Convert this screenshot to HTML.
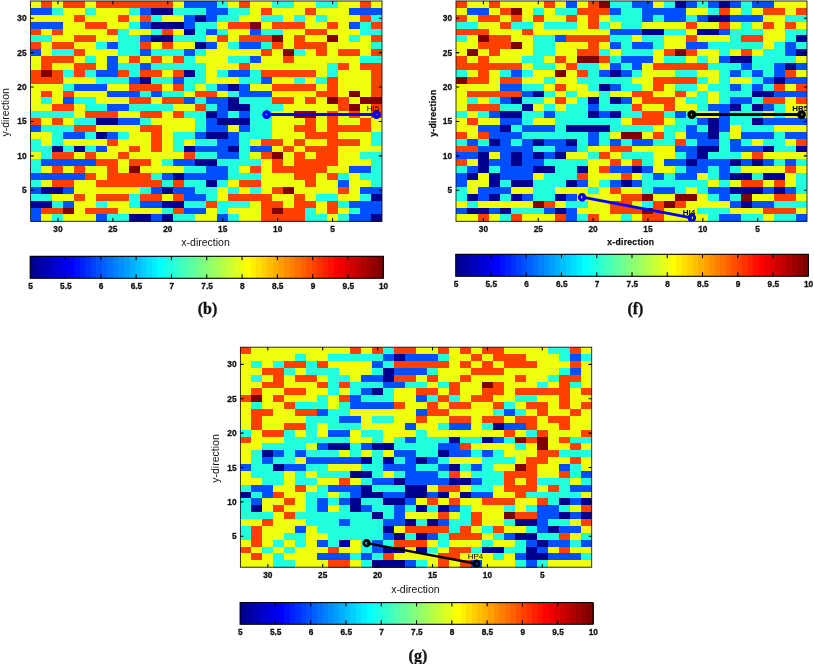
<!DOCTYPE html>
<html><head><meta charset="utf-8"><title>figure</title>
<style>
html,body{margin:0;padding:0;background:#fff;}
svg{display:block;font-family:"Liberation Sans",sans-serif;fill:#111;}
.t{font-weight:bold;stroke:#111;stroke-width:0.3px;}
</style></head>
<body>
<svg width="814" height="664" viewBox="0 0 814 664">
<rect width="814" height="664" fill="#fff"/>
<defs><filter id="bl" x="-2%" y="-2%" width="104%" height="104%"><feGaussianBlur stdDeviation="0.45"/></filter><clipPath id="c0"><rect x="30.5" y="1" width="351.5" height="220.3"/></clipPath><clipPath id="c1"><rect x="456" y="1" width="351" height="220.3"/></clipPath><clipPath id="c2"><rect x="240.4" y="347.2" width="351.3" height="220"/></clipPath></defs>
<g shape-rendering="crispEdges" filter="url(#bl)">
<rect x="30.5" y="1" width="11.28" height="7.18" fill="#efff10"/>
<rect x="41.48" y="1" width="11.28" height="7.18" fill="#ff4000"/>
<rect x="52.47" y="1" width="11.28" height="7.18" fill="#efff10"/>
<rect x="63.45" y="1" width="22.27" height="7.18" fill="#ff4000"/>
<rect x="85.42" y="1" width="11.28" height="7.18" fill="#efff10"/>
<rect x="96.41" y="1" width="77.19" height="7.18" fill="#ff4000"/>
<rect x="173.3" y="1" width="11.28" height="7.18" fill="#efff10"/>
<rect x="184.28" y="1" width="33.25" height="7.18" fill="#0050ff"/>
<rect x="217.23" y="1" width="11.28" height="7.18" fill="#20ffdf"/>
<rect x="228.22" y="1" width="11.28" height="7.18" fill="#efff10"/>
<rect x="239.2" y="1" width="11.28" height="7.18" fill="#ff4000"/>
<rect x="250.19" y="1" width="22.27" height="7.18" fill="#efff10"/>
<rect x="272.16" y="1" width="22.27" height="7.18" fill="#20ffdf"/>
<rect x="294.12" y="1" width="22.27" height="7.18" fill="#efff10"/>
<rect x="316.09" y="1" width="22.27" height="7.18" fill="#20ffdf"/>
<rect x="338.06" y="1" width="22.27" height="7.18" fill="#efff10"/>
<rect x="360.03" y="1" width="11.28" height="7.18" fill="#ff4000"/>
<rect x="371.02" y="1" width="11.28" height="7.18" fill="#efff10"/>
<rect x="30.5" y="7.88" width="22.27" height="7.18" fill="#0050ff"/>
<rect x="52.47" y="7.88" width="11.28" height="7.18" fill="#20ffdf"/>
<rect x="63.45" y="7.88" width="22.27" height="7.18" fill="#efff10"/>
<rect x="85.42" y="7.88" width="11.28" height="7.18" fill="#20ffdf"/>
<rect x="96.41" y="7.88" width="33.25" height="7.18" fill="#efff10"/>
<rect x="129.36" y="7.88" width="11.28" height="7.18" fill="#20ffdf"/>
<rect x="140.34" y="7.88" width="11.28" height="7.18" fill="#0050ff"/>
<rect x="151.33" y="7.88" width="22.27" height="7.18" fill="#00008f"/>
<rect x="173.3" y="7.88" width="33.25" height="7.18" fill="#20ffdf"/>
<rect x="206.25" y="7.88" width="22.27" height="7.18" fill="#0050ff"/>
<rect x="228.22" y="7.88" width="22.27" height="7.18" fill="#20ffdf"/>
<rect x="250.19" y="7.88" width="11.28" height="7.18" fill="#efff10"/>
<rect x="261.17" y="7.88" width="11.28" height="7.18" fill="#ff4000"/>
<rect x="272.16" y="7.88" width="33.25" height="7.18" fill="#efff10"/>
<rect x="305.11" y="7.88" width="11.28" height="7.18" fill="#ff4000"/>
<rect x="316.09" y="7.88" width="33.25" height="7.18" fill="#efff10"/>
<rect x="349.05" y="7.88" width="33.25" height="7.18" fill="#0050ff"/>
<rect x="30.5" y="14.77" width="44.24" height="7.18" fill="#efff10"/>
<rect x="74.44" y="14.77" width="11.28" height="7.18" fill="#ff4000"/>
<rect x="85.42" y="14.77" width="33.25" height="7.18" fill="#efff10"/>
<rect x="118.38" y="14.77" width="11.28" height="7.18" fill="#ff4000"/>
<rect x="129.36" y="14.77" width="11.28" height="7.18" fill="#efff10"/>
<rect x="140.34" y="14.77" width="11.28" height="7.18" fill="#ff4000"/>
<rect x="151.33" y="14.77" width="11.28" height="7.18" fill="#20ffdf"/>
<rect x="162.31" y="14.77" width="22.27" height="7.18" fill="#efff10"/>
<rect x="184.28" y="14.77" width="11.28" height="7.18" fill="#0050ff"/>
<rect x="195.27" y="14.77" width="11.28" height="7.18" fill="#00008f"/>
<rect x="206.25" y="14.77" width="11.28" height="7.18" fill="#0050ff"/>
<rect x="217.23" y="14.77" width="22.27" height="7.18" fill="#20ffdf"/>
<rect x="239.2" y="14.77" width="22.27" height="7.18" fill="#efff10"/>
<rect x="261.17" y="14.77" width="22.27" height="7.18" fill="#20ffdf"/>
<rect x="283.14" y="14.77" width="11.28" height="7.18" fill="#efff10"/>
<rect x="294.12" y="14.77" width="11.28" height="7.18" fill="#20ffdf"/>
<rect x="305.11" y="14.77" width="11.28" height="7.18" fill="#efff10"/>
<rect x="316.09" y="14.77" width="11.28" height="7.18" fill="#20ffdf"/>
<rect x="327.08" y="14.77" width="33.25" height="7.18" fill="#efff10"/>
<rect x="360.03" y="14.77" width="11.28" height="7.18" fill="#ff4000"/>
<rect x="371.02" y="14.77" width="11.28" height="7.18" fill="#20ffdf"/>
<rect x="30.5" y="21.65" width="33.25" height="7.18" fill="#0050ff"/>
<rect x="63.45" y="21.65" width="22.27" height="7.18" fill="#efff10"/>
<rect x="85.42" y="21.65" width="22.27" height="7.18" fill="#ff4000"/>
<rect x="107.39" y="21.65" width="22.27" height="7.18" fill="#efff10"/>
<rect x="129.36" y="21.65" width="11.28" height="7.18" fill="#20ffdf"/>
<rect x="140.34" y="21.65" width="11.28" height="7.18" fill="#0050ff"/>
<rect x="151.33" y="21.65" width="33.25" height="7.18" fill="#00008f"/>
<rect x="184.28" y="21.65" width="11.28" height="7.18" fill="#0050ff"/>
<rect x="195.27" y="21.65" width="22.27" height="7.18" fill="#20ffdf"/>
<rect x="217.23" y="21.65" width="11.28" height="7.18" fill="#efff10"/>
<rect x="228.22" y="21.65" width="22.27" height="7.18" fill="#ff4000"/>
<rect x="250.19" y="21.65" width="11.28" height="7.18" fill="#800000"/>
<rect x="261.17" y="21.65" width="11.28" height="7.18" fill="#efff10"/>
<rect x="272.16" y="21.65" width="33.25" height="7.18" fill="#ff4000"/>
<rect x="305.11" y="21.65" width="22.27" height="7.18" fill="#efff10"/>
<rect x="327.08" y="21.65" width="11.28" height="7.18" fill="#ff4000"/>
<rect x="338.06" y="21.65" width="11.28" height="7.18" fill="#efff10"/>
<rect x="349.05" y="21.65" width="11.28" height="7.18" fill="#0050ff"/>
<rect x="360.03" y="21.65" width="11.28" height="7.18" fill="#20ffdf"/>
<rect x="371.02" y="21.65" width="11.28" height="7.18" fill="#ff4000"/>
<rect x="30.5" y="28.54" width="11.28" height="7.18" fill="#ff4000"/>
<rect x="41.48" y="28.54" width="11.28" height="7.18" fill="#efff10"/>
<rect x="52.47" y="28.54" width="11.28" height="7.18" fill="#ff4000"/>
<rect x="63.45" y="28.54" width="44.24" height="7.18" fill="#efff10"/>
<rect x="107.39" y="28.54" width="11.28" height="7.18" fill="#ff4000"/>
<rect x="118.38" y="28.54" width="11.28" height="7.18" fill="#20ffdf"/>
<rect x="129.36" y="28.54" width="22.27" height="7.18" fill="#efff10"/>
<rect x="151.33" y="28.54" width="11.28" height="7.18" fill="#20ffdf"/>
<rect x="162.31" y="28.54" width="11.28" height="7.18" fill="#ff4000"/>
<rect x="173.3" y="28.54" width="11.28" height="7.18" fill="#efff10"/>
<rect x="184.28" y="28.54" width="11.28" height="7.18" fill="#00008f"/>
<rect x="195.27" y="28.54" width="11.28" height="7.18" fill="#20ffdf"/>
<rect x="206.25" y="28.54" width="11.28" height="7.18" fill="#0050ff"/>
<rect x="217.23" y="28.54" width="11.28" height="7.18" fill="#20ffdf"/>
<rect x="228.22" y="28.54" width="22.27" height="7.18" fill="#efff10"/>
<rect x="250.19" y="28.54" width="11.28" height="7.18" fill="#0050ff"/>
<rect x="261.17" y="28.54" width="22.27" height="7.18" fill="#20ffdf"/>
<rect x="283.14" y="28.54" width="22.27" height="7.18" fill="#efff10"/>
<rect x="305.11" y="28.54" width="22.27" height="7.18" fill="#ff4000"/>
<rect x="327.08" y="28.54" width="33.25" height="7.18" fill="#efff10"/>
<rect x="360.03" y="28.54" width="22.27" height="7.18" fill="#20ffdf"/>
<rect x="30.5" y="35.42" width="22.27" height="7.18" fill="#20ffdf"/>
<rect x="52.47" y="35.42" width="22.27" height="7.18" fill="#efff10"/>
<rect x="74.44" y="35.42" width="22.27" height="7.18" fill="#ff4000"/>
<rect x="96.41" y="35.42" width="22.27" height="7.18" fill="#efff10"/>
<rect x="118.38" y="35.42" width="22.27" height="7.18" fill="#20ffdf"/>
<rect x="140.34" y="35.42" width="11.28" height="7.18" fill="#0050ff"/>
<rect x="151.33" y="35.42" width="22.27" height="7.18" fill="#00008f"/>
<rect x="173.3" y="35.42" width="33.25" height="7.18" fill="#20ffdf"/>
<rect x="206.25" y="35.42" width="11.28" height="7.18" fill="#efff10"/>
<rect x="217.23" y="35.42" width="11.28" height="7.18" fill="#ff4000"/>
<rect x="228.22" y="35.42" width="11.28" height="7.18" fill="#efff10"/>
<rect x="239.2" y="35.42" width="33.25" height="7.18" fill="#ff4000"/>
<rect x="272.16" y="35.42" width="11.28" height="7.18" fill="#800000"/>
<rect x="283.14" y="35.42" width="11.28" height="7.18" fill="#efff10"/>
<rect x="294.12" y="35.42" width="11.28" height="7.18" fill="#ff4000"/>
<rect x="305.11" y="35.42" width="22.27" height="7.18" fill="#efff10"/>
<rect x="327.08" y="35.42" width="11.28" height="7.18" fill="#800000"/>
<rect x="338.06" y="35.42" width="11.28" height="7.18" fill="#efff10"/>
<rect x="349.05" y="35.42" width="11.28" height="7.18" fill="#20ffdf"/>
<rect x="360.03" y="35.42" width="11.28" height="7.18" fill="#efff10"/>
<rect x="371.02" y="35.42" width="11.28" height="7.18" fill="#ff4000"/>
<rect x="30.5" y="42.31" width="11.28" height="7.18" fill="#ff4000"/>
<rect x="41.48" y="42.31" width="11.28" height="7.18" fill="#efff10"/>
<rect x="52.47" y="42.31" width="22.27" height="7.18" fill="#ff4000"/>
<rect x="74.44" y="42.31" width="22.27" height="7.18" fill="#efff10"/>
<rect x="96.41" y="42.31" width="11.28" height="7.18" fill="#20ffdf"/>
<rect x="107.39" y="42.31" width="11.28" height="7.18" fill="#0050ff"/>
<rect x="118.38" y="42.31" width="22.27" height="7.18" fill="#20ffdf"/>
<rect x="140.34" y="42.31" width="11.28" height="7.18" fill="#ff4000"/>
<rect x="151.33" y="42.31" width="11.28" height="7.18" fill="#efff10"/>
<rect x="162.31" y="42.31" width="11.28" height="7.18" fill="#ff4000"/>
<rect x="173.3" y="42.31" width="22.27" height="7.18" fill="#efff10"/>
<rect x="195.27" y="42.31" width="11.28" height="7.18" fill="#00008f"/>
<rect x="206.25" y="42.31" width="11.28" height="7.18" fill="#0050ff"/>
<rect x="217.23" y="42.31" width="11.28" height="7.18" fill="#efff10"/>
<rect x="228.22" y="42.31" width="11.28" height="7.18" fill="#20ffdf"/>
<rect x="239.2" y="42.31" width="22.27" height="7.18" fill="#0050ff"/>
<rect x="261.17" y="42.31" width="11.28" height="7.18" fill="#20ffdf"/>
<rect x="272.16" y="42.31" width="11.28" height="7.18" fill="#ff4000"/>
<rect x="283.14" y="42.31" width="11.28" height="7.18" fill="#efff10"/>
<rect x="294.12" y="42.31" width="33.25" height="7.18" fill="#ff4000"/>
<rect x="327.08" y="42.31" width="44.24" height="7.18" fill="#efff10"/>
<rect x="371.02" y="42.31" width="11.28" height="7.18" fill="#20ffdf"/>
<rect x="30.5" y="49.19" width="11.28" height="7.18" fill="#0050ff"/>
<rect x="41.48" y="49.19" width="11.28" height="7.18" fill="#efff10"/>
<rect x="52.47" y="49.19" width="22.27" height="7.18" fill="#20ffdf"/>
<rect x="74.44" y="49.19" width="11.28" height="7.18" fill="#ff4000"/>
<rect x="85.42" y="49.19" width="33.25" height="7.18" fill="#efff10"/>
<rect x="118.38" y="49.19" width="22.27" height="7.18" fill="#20ffdf"/>
<rect x="140.34" y="49.19" width="11.28" height="7.18" fill="#0050ff"/>
<rect x="151.33" y="49.19" width="33.25" height="7.18" fill="#20ffdf"/>
<rect x="184.28" y="49.19" width="11.28" height="7.18" fill="#0050ff"/>
<rect x="195.27" y="49.19" width="11.28" height="7.18" fill="#20ffdf"/>
<rect x="206.25" y="49.19" width="55.22" height="7.18" fill="#efff10"/>
<rect x="261.17" y="49.19" width="11.28" height="7.18" fill="#ff4000"/>
<rect x="272.16" y="49.19" width="11.28" height="7.18" fill="#efff10"/>
<rect x="283.14" y="49.19" width="11.28" height="7.18" fill="#800000"/>
<rect x="294.12" y="49.19" width="11.28" height="7.18" fill="#20ffdf"/>
<rect x="305.11" y="49.19" width="11.28" height="7.18" fill="#efff10"/>
<rect x="316.09" y="49.19" width="11.28" height="7.18" fill="#ff4000"/>
<rect x="327.08" y="49.19" width="11.28" height="7.18" fill="#efff10"/>
<rect x="338.06" y="49.19" width="22.27" height="7.18" fill="#ff4000"/>
<rect x="360.03" y="49.19" width="11.28" height="7.18" fill="#efff10"/>
<rect x="371.02" y="49.19" width="11.28" height="7.18" fill="#ff4000"/>
<rect x="30.5" y="56.08" width="11.28" height="7.18" fill="#efff10"/>
<rect x="41.48" y="56.08" width="33.25" height="7.18" fill="#ff4000"/>
<rect x="74.44" y="56.08" width="11.28" height="7.18" fill="#efff10"/>
<rect x="85.42" y="56.08" width="11.28" height="7.18" fill="#20ffdf"/>
<rect x="96.41" y="56.08" width="11.28" height="7.18" fill="#efff10"/>
<rect x="107.39" y="56.08" width="11.28" height="7.18" fill="#0050ff"/>
<rect x="118.38" y="56.08" width="11.28" height="7.18" fill="#efff10"/>
<rect x="129.36" y="56.08" width="11.28" height="7.18" fill="#ff4000"/>
<rect x="140.34" y="56.08" width="11.28" height="7.18" fill="#efff10"/>
<rect x="151.33" y="56.08" width="11.28" height="7.18" fill="#ff4000"/>
<rect x="162.31" y="56.08" width="11.28" height="7.18" fill="#efff10"/>
<rect x="173.3" y="56.08" width="11.28" height="7.18" fill="#ff4000"/>
<rect x="184.28" y="56.08" width="11.28" height="7.18" fill="#20ffdf"/>
<rect x="195.27" y="56.08" width="33.25" height="7.18" fill="#efff10"/>
<rect x="228.22" y="56.08" width="22.27" height="7.18" fill="#20ffdf"/>
<rect x="250.19" y="56.08" width="11.28" height="7.18" fill="#0050ff"/>
<rect x="261.17" y="56.08" width="22.27" height="7.18" fill="#efff10"/>
<rect x="283.14" y="56.08" width="11.28" height="7.18" fill="#ff4000"/>
<rect x="294.12" y="56.08" width="66.21" height="7.18" fill="#efff10"/>
<rect x="360.03" y="56.08" width="22.27" height="7.18" fill="#20ffdf"/>
<rect x="30.5" y="62.96" width="11.28" height="7.18" fill="#efff10"/>
<rect x="41.48" y="62.96" width="11.28" height="7.18" fill="#ff4000"/>
<rect x="52.47" y="62.96" width="22.27" height="7.18" fill="#efff10"/>
<rect x="74.44" y="62.96" width="22.27" height="7.18" fill="#ff4000"/>
<rect x="96.41" y="62.96" width="11.28" height="7.18" fill="#efff10"/>
<rect x="107.39" y="62.96" width="11.28" height="7.18" fill="#0050ff"/>
<rect x="118.38" y="62.96" width="22.27" height="7.18" fill="#20ffdf"/>
<rect x="140.34" y="62.96" width="11.28" height="7.18" fill="#0050ff"/>
<rect x="151.33" y="62.96" width="55.22" height="7.18" fill="#20ffdf"/>
<rect x="206.25" y="62.96" width="33.25" height="7.18" fill="#efff10"/>
<rect x="239.2" y="62.96" width="11.28" height="7.18" fill="#ff4000"/>
<rect x="250.19" y="62.96" width="77.19" height="7.18" fill="#efff10"/>
<rect x="327.08" y="62.96" width="11.28" height="7.18" fill="#20ffdf"/>
<rect x="338.06" y="62.96" width="11.28" height="7.18" fill="#ff4000"/>
<rect x="349.05" y="62.96" width="11.28" height="7.18" fill="#efff10"/>
<rect x="360.03" y="62.96" width="22.27" height="7.18" fill="#ff4000"/>
<rect x="30.5" y="69.84" width="11.28" height="7.18" fill="#ff4000"/>
<rect x="41.48" y="69.84" width="11.28" height="7.18" fill="#800000"/>
<rect x="52.47" y="69.84" width="11.28" height="7.18" fill="#ff4000"/>
<rect x="63.45" y="69.84" width="11.28" height="7.18" fill="#20ffdf"/>
<rect x="74.44" y="69.84" width="11.28" height="7.18" fill="#ff4000"/>
<rect x="85.42" y="69.84" width="11.28" height="7.18" fill="#20ffdf"/>
<rect x="96.41" y="69.84" width="22.27" height="7.18" fill="#0050ff"/>
<rect x="118.38" y="69.84" width="11.28" height="7.18" fill="#ff4000"/>
<rect x="129.36" y="69.84" width="11.28" height="7.18" fill="#20ffdf"/>
<rect x="140.34" y="69.84" width="22.27" height="7.18" fill="#ff4000"/>
<rect x="162.31" y="69.84" width="11.28" height="7.18" fill="#efff10"/>
<rect x="173.3" y="69.84" width="11.28" height="7.18" fill="#ff4000"/>
<rect x="184.28" y="69.84" width="11.28" height="7.18" fill="#00008f"/>
<rect x="195.27" y="69.84" width="11.28" height="7.18" fill="#20ffdf"/>
<rect x="206.25" y="69.84" width="11.28" height="7.18" fill="#efff10"/>
<rect x="217.23" y="69.84" width="11.28" height="7.18" fill="#20ffdf"/>
<rect x="228.22" y="69.84" width="22.27" height="7.18" fill="#0050ff"/>
<rect x="250.19" y="69.84" width="11.28" height="7.18" fill="#20ffdf"/>
<rect x="261.17" y="69.84" width="55.22" height="7.18" fill="#ff4000"/>
<rect x="316.09" y="69.84" width="11.28" height="7.18" fill="#efff10"/>
<rect x="327.08" y="69.84" width="11.28" height="7.18" fill="#20ffdf"/>
<rect x="338.06" y="69.84" width="33.25" height="7.18" fill="#efff10"/>
<rect x="371.02" y="69.84" width="11.28" height="7.18" fill="#ff4000"/>
<rect x="30.5" y="76.73" width="33.25" height="7.18" fill="#ff4000"/>
<rect x="63.45" y="76.73" width="33.25" height="7.18" fill="#efff10"/>
<rect x="96.41" y="76.73" width="33.25" height="7.18" fill="#20ffdf"/>
<rect x="129.36" y="76.73" width="11.28" height="7.18" fill="#0050ff"/>
<rect x="140.34" y="76.73" width="11.28" height="7.18" fill="#00008f"/>
<rect x="151.33" y="76.73" width="22.27" height="7.18" fill="#20ffdf"/>
<rect x="173.3" y="76.73" width="11.28" height="7.18" fill="#0050ff"/>
<rect x="184.28" y="76.73" width="22.27" height="7.18" fill="#20ffdf"/>
<rect x="206.25" y="76.73" width="33.25" height="7.18" fill="#efff10"/>
<rect x="239.2" y="76.73" width="22.27" height="7.18" fill="#20ffdf"/>
<rect x="261.17" y="76.73" width="11.28" height="7.18" fill="#0050ff"/>
<rect x="272.16" y="76.73" width="22.27" height="7.18" fill="#efff10"/>
<rect x="294.12" y="76.73" width="11.28" height="7.18" fill="#20ffdf"/>
<rect x="305.11" y="76.73" width="11.28" height="7.18" fill="#efff10"/>
<rect x="316.09" y="76.73" width="11.28" height="7.18" fill="#20ffdf"/>
<rect x="327.08" y="76.73" width="11.28" height="7.18" fill="#ff4000"/>
<rect x="338.06" y="76.73" width="33.25" height="7.18" fill="#efff10"/>
<rect x="371.02" y="76.73" width="11.28" height="7.18" fill="#ff4000"/>
<rect x="30.5" y="83.61" width="33.25" height="7.18" fill="#efff10"/>
<rect x="63.45" y="83.61" width="11.28" height="7.18" fill="#20ffdf"/>
<rect x="74.44" y="83.61" width="33.25" height="7.18" fill="#0050ff"/>
<rect x="107.39" y="83.61" width="22.27" height="7.18" fill="#efff10"/>
<rect x="129.36" y="83.61" width="33.25" height="7.18" fill="#ff4000"/>
<rect x="162.31" y="83.61" width="11.28" height="7.18" fill="#efff10"/>
<rect x="173.3" y="83.61" width="11.28" height="7.18" fill="#ff4000"/>
<rect x="184.28" y="83.61" width="11.28" height="7.18" fill="#20ffdf"/>
<rect x="195.27" y="83.61" width="11.28" height="7.18" fill="#efff10"/>
<rect x="206.25" y="83.61" width="11.28" height="7.18" fill="#20ffdf"/>
<rect x="217.23" y="83.61" width="11.28" height="7.18" fill="#0050ff"/>
<rect x="228.22" y="83.61" width="11.28" height="7.18" fill="#00008f"/>
<rect x="239.2" y="83.61" width="11.28" height="7.18" fill="#0050ff"/>
<rect x="250.19" y="83.61" width="22.27" height="7.18" fill="#efff10"/>
<rect x="272.16" y="83.61" width="44.24" height="7.18" fill="#ff4000"/>
<rect x="316.09" y="83.61" width="11.28" height="7.18" fill="#efff10"/>
<rect x="327.08" y="83.61" width="11.28" height="7.18" fill="#ff4000"/>
<rect x="338.06" y="83.61" width="33.25" height="7.18" fill="#efff10"/>
<rect x="371.02" y="83.61" width="11.28" height="7.18" fill="#ff4000"/>
<rect x="30.5" y="90.5" width="11.28" height="7.18" fill="#efff10"/>
<rect x="41.48" y="90.5" width="11.28" height="7.18" fill="#ff4000"/>
<rect x="52.47" y="90.5" width="11.28" height="7.18" fill="#efff10"/>
<rect x="63.45" y="90.5" width="11.28" height="7.18" fill="#ff4000"/>
<rect x="74.44" y="90.5" width="33.25" height="7.18" fill="#efff10"/>
<rect x="107.39" y="90.5" width="33.25" height="7.18" fill="#0050ff"/>
<rect x="140.34" y="90.5" width="11.28" height="7.18" fill="#20ffdf"/>
<rect x="151.33" y="90.5" width="11.28" height="7.18" fill="#0050ff"/>
<rect x="162.31" y="90.5" width="22.27" height="7.18" fill="#20ffdf"/>
<rect x="184.28" y="90.5" width="11.28" height="7.18" fill="#efff10"/>
<rect x="195.27" y="90.5" width="22.27" height="7.18" fill="#ff4000"/>
<rect x="217.23" y="90.5" width="11.28" height="7.18" fill="#efff10"/>
<rect x="228.22" y="90.5" width="11.28" height="7.18" fill="#20ffdf"/>
<rect x="239.2" y="90.5" width="33.25" height="7.18" fill="#0050ff"/>
<rect x="272.16" y="90.5" width="44.24" height="7.18" fill="#efff10"/>
<rect x="316.09" y="90.5" width="22.27" height="7.18" fill="#ff4000"/>
<rect x="338.06" y="90.5" width="11.28" height="7.18" fill="#efff10"/>
<rect x="349.05" y="90.5" width="11.28" height="7.18" fill="#800000"/>
<rect x="360.03" y="90.5" width="11.28" height="7.18" fill="#efff10"/>
<rect x="371.02" y="90.5" width="11.28" height="7.18" fill="#ff4000"/>
<rect x="30.5" y="97.38" width="11.28" height="7.18" fill="#efff10"/>
<rect x="41.48" y="97.38" width="11.28" height="7.18" fill="#20ffdf"/>
<rect x="52.47" y="97.38" width="11.28" height="7.18" fill="#efff10"/>
<rect x="63.45" y="97.38" width="11.28" height="7.18" fill="#0050ff"/>
<rect x="74.44" y="97.38" width="22.27" height="7.18" fill="#20ffdf"/>
<rect x="96.41" y="97.38" width="33.25" height="7.18" fill="#efff10"/>
<rect x="129.36" y="97.38" width="22.27" height="7.18" fill="#ff4000"/>
<rect x="151.33" y="97.38" width="11.28" height="7.18" fill="#efff10"/>
<rect x="162.31" y="97.38" width="22.27" height="7.18" fill="#ff4000"/>
<rect x="184.28" y="97.38" width="11.28" height="7.18" fill="#0050ff"/>
<rect x="195.27" y="97.38" width="11.28" height="7.18" fill="#20ffdf"/>
<rect x="206.25" y="97.38" width="22.27" height="7.18" fill="#0050ff"/>
<rect x="228.22" y="97.38" width="11.28" height="7.18" fill="#00008f"/>
<rect x="239.2" y="97.38" width="33.25" height="7.18" fill="#20ffdf"/>
<rect x="272.16" y="97.38" width="22.27" height="7.18" fill="#ff4000"/>
<rect x="294.12" y="97.38" width="11.28" height="7.18" fill="#efff10"/>
<rect x="305.11" y="97.38" width="11.28" height="7.18" fill="#ff4000"/>
<rect x="316.09" y="97.38" width="11.28" height="7.18" fill="#efff10"/>
<rect x="327.08" y="97.38" width="11.28" height="7.18" fill="#800000"/>
<rect x="338.06" y="97.38" width="11.28" height="7.18" fill="#ff4000"/>
<rect x="349.05" y="97.38" width="11.28" height="7.18" fill="#efff10"/>
<rect x="360.03" y="97.38" width="22.27" height="7.18" fill="#800000"/>
<rect x="30.5" y="104.27" width="22.27" height="7.18" fill="#efff10"/>
<rect x="52.47" y="104.27" width="22.27" height="7.18" fill="#ff4000"/>
<rect x="74.44" y="104.27" width="11.28" height="7.18" fill="#efff10"/>
<rect x="85.42" y="104.27" width="22.27" height="7.18" fill="#20ffdf"/>
<rect x="107.39" y="104.27" width="22.27" height="7.18" fill="#0050ff"/>
<rect x="129.36" y="104.27" width="44.24" height="7.18" fill="#20ffdf"/>
<rect x="173.3" y="104.27" width="22.27" height="7.18" fill="#efff10"/>
<rect x="195.27" y="104.27" width="11.28" height="7.18" fill="#ff4000"/>
<rect x="206.25" y="104.27" width="11.28" height="7.18" fill="#20ffdf"/>
<rect x="217.23" y="104.27" width="11.28" height="7.18" fill="#0050ff"/>
<rect x="228.22" y="104.27" width="22.27" height="7.18" fill="#00008f"/>
<rect x="250.19" y="104.27" width="33.25" height="7.18" fill="#20ffdf"/>
<rect x="283.14" y="104.27" width="55.22" height="7.18" fill="#efff10"/>
<rect x="338.06" y="104.27" width="11.28" height="7.18" fill="#ff4000"/>
<rect x="349.05" y="104.27" width="11.28" height="7.18" fill="#800000"/>
<rect x="360.03" y="104.27" width="11.28" height="7.18" fill="#efff10"/>
<rect x="371.02" y="104.27" width="11.28" height="7.18" fill="#ff4000"/>
<rect x="30.5" y="111.15" width="44.24" height="7.18" fill="#20ffdf"/>
<rect x="74.44" y="111.15" width="11.28" height="7.18" fill="#efff10"/>
<rect x="85.42" y="111.15" width="33.25" height="7.18" fill="#ff4000"/>
<rect x="118.38" y="111.15" width="22.27" height="7.18" fill="#efff10"/>
<rect x="140.34" y="111.15" width="22.27" height="7.18" fill="#ff4000"/>
<rect x="162.31" y="111.15" width="11.28" height="7.18" fill="#efff10"/>
<rect x="173.3" y="111.15" width="11.28" height="7.18" fill="#ff4000"/>
<rect x="184.28" y="111.15" width="22.27" height="7.18" fill="#20ffdf"/>
<rect x="206.25" y="111.15" width="11.28" height="7.18" fill="#00008f"/>
<rect x="217.23" y="111.15" width="11.28" height="7.18" fill="#0050ff"/>
<rect x="228.22" y="111.15" width="11.28" height="7.18" fill="#20ffdf"/>
<rect x="239.2" y="111.15" width="11.28" height="7.18" fill="#0050ff"/>
<rect x="250.19" y="111.15" width="22.27" height="7.18" fill="#20ffdf"/>
<rect x="272.16" y="111.15" width="22.27" height="7.18" fill="#efff10"/>
<rect x="294.12" y="111.15" width="22.27" height="7.18" fill="#800000"/>
<rect x="316.09" y="111.15" width="11.28" height="7.18" fill="#efff10"/>
<rect x="327.08" y="111.15" width="11.28" height="7.18" fill="#ff4000"/>
<rect x="338.06" y="111.15" width="11.28" height="7.18" fill="#efff10"/>
<rect x="349.05" y="111.15" width="11.28" height="7.18" fill="#ff4000"/>
<rect x="360.03" y="111.15" width="11.28" height="7.18" fill="#efff10"/>
<rect x="371.02" y="111.15" width="11.28" height="7.18" fill="#ff4000"/>
<rect x="30.5" y="118.03" width="11.28" height="7.18" fill="#ff4000"/>
<rect x="41.48" y="118.03" width="11.28" height="7.18" fill="#efff10"/>
<rect x="52.47" y="118.03" width="11.28" height="7.18" fill="#ff4000"/>
<rect x="63.45" y="118.03" width="11.28" height="7.18" fill="#efff10"/>
<rect x="74.44" y="118.03" width="22.27" height="7.18" fill="#20ffdf"/>
<rect x="96.41" y="118.03" width="22.27" height="7.18" fill="#00008f"/>
<rect x="118.38" y="118.03" width="22.27" height="7.18" fill="#0050ff"/>
<rect x="140.34" y="118.03" width="11.28" height="7.18" fill="#20ffdf"/>
<rect x="151.33" y="118.03" width="44.24" height="7.18" fill="#efff10"/>
<rect x="195.27" y="118.03" width="11.28" height="7.18" fill="#20ffdf"/>
<rect x="206.25" y="118.03" width="11.28" height="7.18" fill="#0050ff"/>
<rect x="217.23" y="118.03" width="33.25" height="7.18" fill="#00008f"/>
<rect x="250.19" y="118.03" width="22.27" height="7.18" fill="#20ffdf"/>
<rect x="272.16" y="118.03" width="33.25" height="7.18" fill="#efff10"/>
<rect x="305.11" y="118.03" width="11.28" height="7.18" fill="#ff4000"/>
<rect x="316.09" y="118.03" width="11.28" height="7.18" fill="#efff10"/>
<rect x="327.08" y="118.03" width="11.28" height="7.18" fill="#ff4000"/>
<rect x="338.06" y="118.03" width="22.27" height="7.18" fill="#efff10"/>
<rect x="360.03" y="118.03" width="11.28" height="7.18" fill="#ff4000"/>
<rect x="371.02" y="118.03" width="11.28" height="7.18" fill="#efff10"/>
<rect x="30.5" y="124.92" width="11.28" height="7.18" fill="#0050ff"/>
<rect x="41.48" y="124.92" width="33.25" height="7.18" fill="#20ffdf"/>
<rect x="74.44" y="124.92" width="22.27" height="7.18" fill="#ff4000"/>
<rect x="96.41" y="124.92" width="44.24" height="7.18" fill="#efff10"/>
<rect x="140.34" y="124.92" width="22.27" height="7.18" fill="#ff4000"/>
<rect x="162.31" y="124.92" width="33.25" height="7.18" fill="#efff10"/>
<rect x="195.27" y="124.92" width="11.28" height="7.18" fill="#20ffdf"/>
<rect x="206.25" y="124.92" width="22.27" height="7.18" fill="#0050ff"/>
<rect x="228.22" y="124.92" width="11.28" height="7.18" fill="#efff10"/>
<rect x="239.2" y="124.92" width="11.28" height="7.18" fill="#0050ff"/>
<rect x="250.19" y="124.92" width="22.27" height="7.18" fill="#20ffdf"/>
<rect x="272.16" y="124.92" width="22.27" height="7.18" fill="#efff10"/>
<rect x="294.12" y="124.92" width="22.27" height="7.18" fill="#ff4000"/>
<rect x="316.09" y="124.92" width="11.28" height="7.18" fill="#efff10"/>
<rect x="327.08" y="124.92" width="44.24" height="7.18" fill="#ff4000"/>
<rect x="371.02" y="124.92" width="11.28" height="7.18" fill="#efff10"/>
<rect x="30.5" y="131.8" width="22.27" height="7.18" fill="#efff10"/>
<rect x="52.47" y="131.8" width="11.28" height="7.18" fill="#20ffdf"/>
<rect x="63.45" y="131.8" width="22.27" height="7.18" fill="#0050ff"/>
<rect x="85.42" y="131.8" width="11.28" height="7.18" fill="#20ffdf"/>
<rect x="96.41" y="131.8" width="11.28" height="7.18" fill="#00008f"/>
<rect x="107.39" y="131.8" width="11.28" height="7.18" fill="#0050ff"/>
<rect x="118.38" y="131.8" width="11.28" height="7.18" fill="#20ffdf"/>
<rect x="129.36" y="131.8" width="22.27" height="7.18" fill="#efff10"/>
<rect x="151.33" y="131.8" width="11.28" height="7.18" fill="#ff4000"/>
<rect x="162.31" y="131.8" width="11.28" height="7.18" fill="#efff10"/>
<rect x="173.3" y="131.8" width="22.27" height="7.18" fill="#20ffdf"/>
<rect x="195.27" y="131.8" width="11.28" height="7.18" fill="#0050ff"/>
<rect x="206.25" y="131.8" width="22.27" height="7.18" fill="#00008f"/>
<rect x="228.22" y="131.8" width="11.28" height="7.18" fill="#0050ff"/>
<rect x="239.2" y="131.8" width="33.25" height="7.18" fill="#20ffdf"/>
<rect x="272.16" y="131.8" width="33.25" height="7.18" fill="#efff10"/>
<rect x="305.11" y="131.8" width="33.25" height="7.18" fill="#ff4000"/>
<rect x="338.06" y="131.8" width="33.25" height="7.18" fill="#efff10"/>
<rect x="371.02" y="131.8" width="11.28" height="7.18" fill="#20ffdf"/>
<rect x="30.5" y="138.69" width="11.28" height="7.18" fill="#20ffdf"/>
<rect x="41.48" y="138.69" width="11.28" height="7.18" fill="#efff10"/>
<rect x="52.47" y="138.69" width="11.28" height="7.18" fill="#20ffdf"/>
<rect x="63.45" y="138.69" width="44.24" height="7.18" fill="#efff10"/>
<rect x="107.39" y="138.69" width="11.28" height="7.18" fill="#ff4000"/>
<rect x="118.38" y="138.69" width="33.25" height="7.18" fill="#efff10"/>
<rect x="151.33" y="138.69" width="11.28" height="7.18" fill="#ff4000"/>
<rect x="162.31" y="138.69" width="11.28" height="7.18" fill="#efff10"/>
<rect x="173.3" y="138.69" width="11.28" height="7.18" fill="#20ffdf"/>
<rect x="184.28" y="138.69" width="11.28" height="7.18" fill="#efff10"/>
<rect x="195.27" y="138.69" width="22.27" height="7.18" fill="#20ffdf"/>
<rect x="217.23" y="138.69" width="22.27" height="7.18" fill="#0050ff"/>
<rect x="239.2" y="138.69" width="11.28" height="7.18" fill="#20ffdf"/>
<rect x="250.19" y="138.69" width="11.28" height="7.18" fill="#efff10"/>
<rect x="261.17" y="138.69" width="22.27" height="7.18" fill="#ff4000"/>
<rect x="283.14" y="138.69" width="11.28" height="7.18" fill="#efff10"/>
<rect x="294.12" y="138.69" width="11.28" height="7.18" fill="#ff4000"/>
<rect x="305.11" y="138.69" width="22.27" height="7.18" fill="#efff10"/>
<rect x="327.08" y="138.69" width="33.25" height="7.18" fill="#ff4000"/>
<rect x="360.03" y="138.69" width="11.28" height="7.18" fill="#efff10"/>
<rect x="371.02" y="138.69" width="11.28" height="7.18" fill="#20ffdf"/>
<rect x="30.5" y="145.57" width="22.27" height="7.18" fill="#20ffdf"/>
<rect x="52.47" y="145.57" width="11.28" height="7.18" fill="#00008f"/>
<rect x="63.45" y="145.57" width="11.28" height="7.18" fill="#20ffdf"/>
<rect x="74.44" y="145.57" width="11.28" height="7.18" fill="#00008f"/>
<rect x="85.42" y="145.57" width="11.28" height="7.18" fill="#20ffdf"/>
<rect x="96.41" y="145.57" width="11.28" height="7.18" fill="#0050ff"/>
<rect x="107.39" y="145.57" width="22.27" height="7.18" fill="#efff10"/>
<rect x="129.36" y="145.57" width="11.28" height="7.18" fill="#ff4000"/>
<rect x="140.34" y="145.57" width="11.28" height="7.18" fill="#efff10"/>
<rect x="151.33" y="145.57" width="11.28" height="7.18" fill="#ff4000"/>
<rect x="162.31" y="145.57" width="11.28" height="7.18" fill="#efff10"/>
<rect x="173.3" y="145.57" width="11.28" height="7.18" fill="#20ffdf"/>
<rect x="184.28" y="145.57" width="11.28" height="7.18" fill="#00008f"/>
<rect x="195.27" y="145.57" width="33.25" height="7.18" fill="#0050ff"/>
<rect x="228.22" y="145.57" width="11.28" height="7.18" fill="#00008f"/>
<rect x="239.2" y="145.57" width="11.28" height="7.18" fill="#20ffdf"/>
<rect x="250.19" y="145.57" width="22.27" height="7.18" fill="#0050ff"/>
<rect x="272.16" y="145.57" width="11.28" height="7.18" fill="#efff10"/>
<rect x="283.14" y="145.57" width="11.28" height="7.18" fill="#ff4000"/>
<rect x="294.12" y="145.57" width="11.28" height="7.18" fill="#efff10"/>
<rect x="305.11" y="145.57" width="33.25" height="7.18" fill="#ff4000"/>
<rect x="338.06" y="145.57" width="44.24" height="7.18" fill="#efff10"/>
<rect x="30.5" y="152.46" width="11.28" height="7.18" fill="#efff10"/>
<rect x="41.48" y="152.46" width="11.28" height="7.18" fill="#20ffdf"/>
<rect x="52.47" y="152.46" width="22.27" height="7.18" fill="#ff4000"/>
<rect x="74.44" y="152.46" width="11.28" height="7.18" fill="#efff10"/>
<rect x="85.42" y="152.46" width="11.28" height="7.18" fill="#ff4000"/>
<rect x="96.41" y="152.46" width="22.27" height="7.18" fill="#efff10"/>
<rect x="118.38" y="152.46" width="11.28" height="7.18" fill="#ff4000"/>
<rect x="129.36" y="152.46" width="55.22" height="7.18" fill="#efff10"/>
<rect x="184.28" y="152.46" width="11.28" height="7.18" fill="#ff4000"/>
<rect x="195.27" y="152.46" width="22.27" height="7.18" fill="#20ffdf"/>
<rect x="217.23" y="152.46" width="22.27" height="7.18" fill="#0050ff"/>
<rect x="239.2" y="152.46" width="11.28" height="7.18" fill="#20ffdf"/>
<rect x="250.19" y="152.46" width="11.28" height="7.18" fill="#efff10"/>
<rect x="261.17" y="152.46" width="11.28" height="7.18" fill="#ff4000"/>
<rect x="272.16" y="152.46" width="11.28" height="7.18" fill="#800000"/>
<rect x="283.14" y="152.46" width="11.28" height="7.18" fill="#efff10"/>
<rect x="294.12" y="152.46" width="11.28" height="7.18" fill="#ff4000"/>
<rect x="305.11" y="152.46" width="11.28" height="7.18" fill="#efff10"/>
<rect x="316.09" y="152.46" width="22.27" height="7.18" fill="#ff4000"/>
<rect x="338.06" y="152.46" width="22.27" height="7.18" fill="#efff10"/>
<rect x="360.03" y="152.46" width="22.27" height="7.18" fill="#20ffdf"/>
<rect x="30.5" y="159.34" width="11.28" height="7.18" fill="#20ffdf"/>
<rect x="41.48" y="159.34" width="55.22" height="7.18" fill="#0050ff"/>
<rect x="96.41" y="159.34" width="22.27" height="7.18" fill="#ff4000"/>
<rect x="118.38" y="159.34" width="11.28" height="7.18" fill="#efff10"/>
<rect x="129.36" y="159.34" width="22.27" height="7.18" fill="#ff4000"/>
<rect x="151.33" y="159.34" width="11.28" height="7.18" fill="#efff10"/>
<rect x="162.31" y="159.34" width="11.28" height="7.18" fill="#20ffdf"/>
<rect x="173.3" y="159.34" width="22.27" height="7.18" fill="#0050ff"/>
<rect x="195.27" y="159.34" width="22.27" height="7.18" fill="#00008f"/>
<rect x="217.23" y="159.34" width="44.24" height="7.18" fill="#20ffdf"/>
<rect x="261.17" y="159.34" width="11.28" height="7.18" fill="#efff10"/>
<rect x="272.16" y="159.34" width="11.28" height="7.18" fill="#ff4000"/>
<rect x="283.14" y="159.34" width="11.28" height="7.18" fill="#efff10"/>
<rect x="294.12" y="159.34" width="44.24" height="7.18" fill="#ff4000"/>
<rect x="338.06" y="159.34" width="33.25" height="7.18" fill="#efff10"/>
<rect x="371.02" y="159.34" width="11.28" height="7.18" fill="#20ffdf"/>
<rect x="30.5" y="166.23" width="11.28" height="7.18" fill="#20ffdf"/>
<rect x="41.48" y="166.23" width="11.28" height="7.18" fill="#efff10"/>
<rect x="52.47" y="166.23" width="11.28" height="7.18" fill="#ff4000"/>
<rect x="63.45" y="166.23" width="11.28" height="7.18" fill="#efff10"/>
<rect x="74.44" y="166.23" width="11.28" height="7.18" fill="#ff4000"/>
<rect x="85.42" y="166.23" width="22.27" height="7.18" fill="#efff10"/>
<rect x="107.39" y="166.23" width="11.28" height="7.18" fill="#ff4000"/>
<rect x="118.38" y="166.23" width="11.28" height="7.18" fill="#efff10"/>
<rect x="129.36" y="166.23" width="11.28" height="7.18" fill="#800000"/>
<rect x="140.34" y="166.23" width="44.24" height="7.18" fill="#efff10"/>
<rect x="184.28" y="166.23" width="22.27" height="7.18" fill="#20ffdf"/>
<rect x="206.25" y="166.23" width="22.27" height="7.18" fill="#0050ff"/>
<rect x="228.22" y="166.23" width="11.28" height="7.18" fill="#20ffdf"/>
<rect x="239.2" y="166.23" width="11.28" height="7.18" fill="#efff10"/>
<rect x="250.19" y="166.23" width="11.28" height="7.18" fill="#ff4000"/>
<rect x="261.17" y="166.23" width="11.28" height="7.18" fill="#efff10"/>
<rect x="272.16" y="166.23" width="55.22" height="7.18" fill="#ff4000"/>
<rect x="327.08" y="166.23" width="22.27" height="7.18" fill="#efff10"/>
<rect x="349.05" y="166.23" width="22.27" height="7.18" fill="#0050ff"/>
<rect x="371.02" y="166.23" width="11.28" height="7.18" fill="#20ffdf"/>
<rect x="30.5" y="173.11" width="55.22" height="7.18" fill="#0050ff"/>
<rect x="85.42" y="173.11" width="11.28" height="7.18" fill="#ff4000"/>
<rect x="96.41" y="173.11" width="11.28" height="7.18" fill="#efff10"/>
<rect x="107.39" y="173.11" width="44.24" height="7.18" fill="#ff4000"/>
<rect x="151.33" y="173.11" width="11.28" height="7.18" fill="#20ffdf"/>
<rect x="162.31" y="173.11" width="11.28" height="7.18" fill="#0050ff"/>
<rect x="173.3" y="173.11" width="11.28" height="7.18" fill="#00008f"/>
<rect x="184.28" y="173.11" width="44.24" height="7.18" fill="#0050ff"/>
<rect x="228.22" y="173.11" width="33.25" height="7.18" fill="#20ffdf"/>
<rect x="261.17" y="173.11" width="33.25" height="7.18" fill="#efff10"/>
<rect x="294.12" y="173.11" width="22.27" height="7.18" fill="#ff4000"/>
<rect x="316.09" y="173.11" width="11.28" height="7.18" fill="#efff10"/>
<rect x="327.08" y="173.11" width="11.28" height="7.18" fill="#ff4000"/>
<rect x="338.06" y="173.11" width="11.28" height="7.18" fill="#20ffdf"/>
<rect x="349.05" y="173.11" width="11.28" height="7.18" fill="#efff10"/>
<rect x="360.03" y="173.11" width="22.27" height="7.18" fill="#20ffdf"/>
<rect x="30.5" y="179.99" width="11.28" height="7.18" fill="#20ffdf"/>
<rect x="41.48" y="179.99" width="11.28" height="7.18" fill="#efff10"/>
<rect x="52.47" y="179.99" width="22.27" height="7.18" fill="#ff4000"/>
<rect x="74.44" y="179.99" width="22.27" height="7.18" fill="#efff10"/>
<rect x="96.41" y="179.99" width="66.21" height="7.18" fill="#ff4000"/>
<rect x="162.31" y="179.99" width="11.28" height="7.18" fill="#20ffdf"/>
<rect x="173.3" y="179.99" width="11.28" height="7.18" fill="#ff4000"/>
<rect x="184.28" y="179.99" width="22.27" height="7.18" fill="#20ffdf"/>
<rect x="206.25" y="179.99" width="11.28" height="7.18" fill="#00008f"/>
<rect x="217.23" y="179.99" width="11.28" height="7.18" fill="#20ffdf"/>
<rect x="228.22" y="179.99" width="11.28" height="7.18" fill="#efff10"/>
<rect x="239.2" y="179.99" width="22.27" height="7.18" fill="#ff4000"/>
<rect x="261.17" y="179.99" width="44.24" height="7.18" fill="#efff10"/>
<rect x="305.11" y="179.99" width="11.28" height="7.18" fill="#ff4000"/>
<rect x="316.09" y="179.99" width="22.27" height="7.18" fill="#efff10"/>
<rect x="338.06" y="179.99" width="11.28" height="7.18" fill="#0050ff"/>
<rect x="349.05" y="179.99" width="22.27" height="7.18" fill="#efff10"/>
<rect x="371.02" y="179.99" width="11.28" height="7.18" fill="#20ffdf"/>
<rect x="30.5" y="186.88" width="11.28" height="7.18" fill="#0050ff"/>
<rect x="41.48" y="186.88" width="22.27" height="7.18" fill="#00008f"/>
<rect x="63.45" y="186.88" width="11.28" height="7.18" fill="#0050ff"/>
<rect x="74.44" y="186.88" width="66.21" height="7.18" fill="#efff10"/>
<rect x="140.34" y="186.88" width="11.28" height="7.18" fill="#20ffdf"/>
<rect x="151.33" y="186.88" width="11.28" height="7.18" fill="#0050ff"/>
<rect x="162.31" y="186.88" width="11.28" height="7.18" fill="#00008f"/>
<rect x="173.3" y="186.88" width="22.27" height="7.18" fill="#0050ff"/>
<rect x="195.27" y="186.88" width="22.27" height="7.18" fill="#20ffdf"/>
<rect x="217.23" y="186.88" width="11.28" height="7.18" fill="#efff10"/>
<rect x="228.22" y="186.88" width="11.28" height="7.18" fill="#20ffdf"/>
<rect x="239.2" y="186.88" width="11.28" height="7.18" fill="#efff10"/>
<rect x="250.19" y="186.88" width="11.28" height="7.18" fill="#20ffdf"/>
<rect x="261.17" y="186.88" width="11.28" height="7.18" fill="#efff10"/>
<rect x="272.16" y="186.88" width="11.28" height="7.18" fill="#ff4000"/>
<rect x="283.14" y="186.88" width="11.28" height="7.18" fill="#800000"/>
<rect x="294.12" y="186.88" width="44.24" height="7.18" fill="#efff10"/>
<rect x="338.06" y="186.88" width="11.28" height="7.18" fill="#ff4000"/>
<rect x="349.05" y="186.88" width="11.28" height="7.18" fill="#efff10"/>
<rect x="360.03" y="186.88" width="22.27" height="7.18" fill="#0050ff"/>
<rect x="30.5" y="193.76" width="22.27" height="7.18" fill="#20ffdf"/>
<rect x="52.47" y="193.76" width="22.27" height="7.18" fill="#efff10"/>
<rect x="74.44" y="193.76" width="11.28" height="7.18" fill="#ff4000"/>
<rect x="85.42" y="193.76" width="11.28" height="7.18" fill="#efff10"/>
<rect x="96.41" y="193.76" width="33.25" height="7.18" fill="#ff4000"/>
<rect x="129.36" y="193.76" width="11.28" height="7.18" fill="#20ffdf"/>
<rect x="140.34" y="193.76" width="22.27" height="7.18" fill="#ff4000"/>
<rect x="162.31" y="193.76" width="11.28" height="7.18" fill="#efff10"/>
<rect x="173.3" y="193.76" width="11.28" height="7.18" fill="#ff4000"/>
<rect x="184.28" y="193.76" width="22.27" height="7.18" fill="#0050ff"/>
<rect x="206.25" y="193.76" width="11.28" height="7.18" fill="#20ffdf"/>
<rect x="217.23" y="193.76" width="11.28" height="7.18" fill="#efff10"/>
<rect x="228.22" y="193.76" width="44.24" height="7.18" fill="#ff4000"/>
<rect x="272.16" y="193.76" width="22.27" height="7.18" fill="#efff10"/>
<rect x="294.12" y="193.76" width="11.28" height="7.18" fill="#ff4000"/>
<rect x="305.11" y="193.76" width="11.28" height="7.18" fill="#efff10"/>
<rect x="316.09" y="193.76" width="22.27" height="7.18" fill="#20ffdf"/>
<rect x="338.06" y="193.76" width="22.27" height="7.18" fill="#efff10"/>
<rect x="360.03" y="193.76" width="11.28" height="7.18" fill="#20ffdf"/>
<rect x="371.02" y="193.76" width="11.28" height="7.18" fill="#00008f"/>
<rect x="30.5" y="200.65" width="22.27" height="7.18" fill="#00008f"/>
<rect x="52.47" y="200.65" width="11.28" height="7.18" fill="#20ffdf"/>
<rect x="63.45" y="200.65" width="11.28" height="7.18" fill="#0050ff"/>
<rect x="74.44" y="200.65" width="22.27" height="7.18" fill="#efff10"/>
<rect x="96.41" y="200.65" width="11.28" height="7.18" fill="#20ffdf"/>
<rect x="107.39" y="200.65" width="22.27" height="7.18" fill="#efff10"/>
<rect x="129.36" y="200.65" width="11.28" height="7.18" fill="#20ffdf"/>
<rect x="140.34" y="200.65" width="22.27" height="7.18" fill="#0050ff"/>
<rect x="162.31" y="200.65" width="22.27" height="7.18" fill="#00008f"/>
<rect x="184.28" y="200.65" width="22.27" height="7.18" fill="#20ffdf"/>
<rect x="206.25" y="200.65" width="11.28" height="7.18" fill="#ff4000"/>
<rect x="217.23" y="200.65" width="33.25" height="7.18" fill="#20ffdf"/>
<rect x="250.19" y="200.65" width="11.28" height="7.18" fill="#efff10"/>
<rect x="261.17" y="200.65" width="22.27" height="7.18" fill="#ff4000"/>
<rect x="283.14" y="200.65" width="11.28" height="7.18" fill="#efff10"/>
<rect x="294.12" y="200.65" width="22.27" height="7.18" fill="#ff4000"/>
<rect x="316.09" y="200.65" width="11.28" height="7.18" fill="#efff10"/>
<rect x="327.08" y="200.65" width="11.28" height="7.18" fill="#ff4000"/>
<rect x="338.06" y="200.65" width="11.28" height="7.18" fill="#20ffdf"/>
<rect x="349.05" y="200.65" width="33.25" height="7.18" fill="#0050ff"/>
<rect x="30.5" y="207.53" width="11.28" height="7.18" fill="#0050ff"/>
<rect x="41.48" y="207.53" width="22.27" height="7.18" fill="#ff4000"/>
<rect x="63.45" y="207.53" width="11.28" height="7.18" fill="#800000"/>
<rect x="74.44" y="207.53" width="11.28" height="7.18" fill="#efff10"/>
<rect x="85.42" y="207.53" width="33.25" height="7.18" fill="#ff4000"/>
<rect x="118.38" y="207.53" width="44.24" height="7.18" fill="#efff10"/>
<rect x="162.31" y="207.53" width="11.28" height="7.18" fill="#20ffdf"/>
<rect x="173.3" y="207.53" width="11.28" height="7.18" fill="#ff4000"/>
<rect x="184.28" y="207.53" width="22.27" height="7.18" fill="#0050ff"/>
<rect x="206.25" y="207.53" width="11.28" height="7.18" fill="#efff10"/>
<rect x="217.23" y="207.53" width="11.28" height="7.18" fill="#20ffdf"/>
<rect x="228.22" y="207.53" width="33.25" height="7.18" fill="#efff10"/>
<rect x="261.17" y="207.53" width="11.28" height="7.18" fill="#ff4000"/>
<rect x="272.16" y="207.53" width="11.28" height="7.18" fill="#800000"/>
<rect x="283.14" y="207.53" width="22.27" height="7.18" fill="#ff4000"/>
<rect x="305.11" y="207.53" width="11.28" height="7.18" fill="#20ffdf"/>
<rect x="316.09" y="207.53" width="11.28" height="7.18" fill="#efff10"/>
<rect x="327.08" y="207.53" width="11.28" height="7.18" fill="#ff4000"/>
<rect x="338.06" y="207.53" width="11.28" height="7.18" fill="#efff10"/>
<rect x="349.05" y="207.53" width="11.28" height="7.18" fill="#20ffdf"/>
<rect x="360.03" y="207.53" width="22.27" height="7.18" fill="#0050ff"/>
<rect x="30.5" y="214.42" width="11.28" height="7.18" fill="#0050ff"/>
<rect x="41.48" y="214.42" width="11.28" height="7.18" fill="#efff10"/>
<rect x="52.47" y="214.42" width="11.28" height="7.18" fill="#20ffdf"/>
<rect x="63.45" y="214.42" width="33.25" height="7.18" fill="#efff10"/>
<rect x="96.41" y="214.42" width="11.28" height="7.18" fill="#0050ff"/>
<rect x="107.39" y="214.42" width="22.27" height="7.18" fill="#20ffdf"/>
<rect x="129.36" y="214.42" width="22.27" height="7.18" fill="#00008f"/>
<rect x="151.33" y="214.42" width="11.28" height="7.18" fill="#0050ff"/>
<rect x="162.31" y="214.42" width="11.28" height="7.18" fill="#00008f"/>
<rect x="173.3" y="214.42" width="22.27" height="7.18" fill="#20ffdf"/>
<rect x="195.27" y="214.42" width="22.27" height="7.18" fill="#efff10"/>
<rect x="217.23" y="214.42" width="11.28" height="7.18" fill="#0050ff"/>
<rect x="228.22" y="214.42" width="11.28" height="7.18" fill="#20ffdf"/>
<rect x="239.2" y="214.42" width="22.27" height="7.18" fill="#efff10"/>
<rect x="261.17" y="214.42" width="44.24" height="7.18" fill="#ff4000"/>
<rect x="305.11" y="214.42" width="22.27" height="7.18" fill="#20ffdf"/>
<rect x="327.08" y="214.42" width="11.28" height="7.18" fill="#efff10"/>
<rect x="338.06" y="214.42" width="11.28" height="7.18" fill="#20ffdf"/>
<rect x="349.05" y="214.42" width="22.27" height="7.18" fill="#0050ff"/>
<rect x="371.02" y="214.42" width="11.28" height="7.18" fill="#00008f"/>
</g>
<g shape-rendering="crispEdges" filter="url(#bl)">
<rect x="456" y="1" width="11.27" height="7.18" fill="#ff4000"/>
<rect x="466.97" y="1" width="22.24" height="7.18" fill="#efff10"/>
<rect x="488.91" y="1" width="11.27" height="7.18" fill="#ff4000"/>
<rect x="499.88" y="1" width="44.17" height="7.18" fill="#efff10"/>
<rect x="543.75" y="1" width="11.27" height="7.18" fill="#ff4000"/>
<rect x="554.72" y="1" width="11.27" height="7.18" fill="#efff10"/>
<rect x="565.69" y="1" width="11.27" height="7.18" fill="#0050ff"/>
<rect x="576.66" y="1" width="11.27" height="7.18" fill="#efff10"/>
<rect x="587.62" y="1" width="11.27" height="7.18" fill="#ff4000"/>
<rect x="598.59" y="1" width="11.27" height="7.18" fill="#800000"/>
<rect x="609.56" y="1" width="22.24" height="7.18" fill="#20ffdf"/>
<rect x="631.5" y="1" width="22.24" height="7.18" fill="#0050ff"/>
<rect x="653.44" y="1" width="11.27" height="7.18" fill="#efff10"/>
<rect x="664.41" y="1" width="11.27" height="7.18" fill="#20ffdf"/>
<rect x="675.38" y="1" width="11.27" height="7.18" fill="#00008f"/>
<rect x="686.34" y="1" width="11.27" height="7.18" fill="#0050ff"/>
<rect x="697.31" y="1" width="11.27" height="7.18" fill="#20ffdf"/>
<rect x="708.28" y="1" width="11.27" height="7.18" fill="#0050ff"/>
<rect x="719.25" y="1" width="11.27" height="7.18" fill="#00008f"/>
<rect x="730.22" y="1" width="11.27" height="7.18" fill="#0050ff"/>
<rect x="741.19" y="1" width="11.27" height="7.18" fill="#20ffdf"/>
<rect x="752.16" y="1" width="22.24" height="7.18" fill="#0050ff"/>
<rect x="774.09" y="1" width="33.21" height="7.18" fill="#efff10"/>
<rect x="456" y="7.88" width="11.27" height="7.18" fill="#efff10"/>
<rect x="466.97" y="7.88" width="22.24" height="7.18" fill="#0050ff"/>
<rect x="488.91" y="7.88" width="11.27" height="7.18" fill="#efff10"/>
<rect x="499.88" y="7.88" width="11.27" height="7.18" fill="#ff4000"/>
<rect x="510.84" y="7.88" width="11.27" height="7.18" fill="#800000"/>
<rect x="521.81" y="7.88" width="11.27" height="7.18" fill="#efff10"/>
<rect x="532.78" y="7.88" width="11.27" height="7.18" fill="#20ffdf"/>
<rect x="543.75" y="7.88" width="11.27" height="7.18" fill="#efff10"/>
<rect x="554.72" y="7.88" width="22.24" height="7.18" fill="#20ffdf"/>
<rect x="576.66" y="7.88" width="33.21" height="7.18" fill="#ff4000"/>
<rect x="609.56" y="7.88" width="11.27" height="7.18" fill="#0050ff"/>
<rect x="620.53" y="7.88" width="22.24" height="7.18" fill="#20ffdf"/>
<rect x="642.47" y="7.88" width="44.17" height="7.18" fill="#0050ff"/>
<rect x="686.34" y="7.88" width="22.24" height="7.18" fill="#efff10"/>
<rect x="708.28" y="7.88" width="11.27" height="7.18" fill="#20ffdf"/>
<rect x="719.25" y="7.88" width="11.27" height="7.18" fill="#ff4000"/>
<rect x="730.22" y="7.88" width="11.27" height="7.18" fill="#efff10"/>
<rect x="741.19" y="7.88" width="11.27" height="7.18" fill="#20ffdf"/>
<rect x="752.16" y="7.88" width="11.27" height="7.18" fill="#efff10"/>
<rect x="763.12" y="7.88" width="22.24" height="7.18" fill="#ff4000"/>
<rect x="785.06" y="7.88" width="11.27" height="7.18" fill="#efff10"/>
<rect x="796.03" y="7.88" width="11.27" height="7.18" fill="#ff4000"/>
<rect x="456" y="14.77" width="11.27" height="7.18" fill="#ff4000"/>
<rect x="466.97" y="14.77" width="11.27" height="7.18" fill="#efff10"/>
<rect x="477.94" y="14.77" width="22.24" height="7.18" fill="#ff4000"/>
<rect x="499.88" y="14.77" width="11.27" height="7.18" fill="#efff10"/>
<rect x="510.84" y="14.77" width="11.27" height="7.18" fill="#ff4000"/>
<rect x="521.81" y="14.77" width="11.27" height="7.18" fill="#efff10"/>
<rect x="532.78" y="14.77" width="11.27" height="7.18" fill="#ff4000"/>
<rect x="543.75" y="14.77" width="22.24" height="7.18" fill="#efff10"/>
<rect x="565.69" y="14.77" width="11.27" height="7.18" fill="#ff4000"/>
<rect x="576.66" y="14.77" width="11.27" height="7.18" fill="#efff10"/>
<rect x="587.62" y="14.77" width="11.27" height="7.18" fill="#ff4000"/>
<rect x="598.59" y="14.77" width="11.27" height="7.18" fill="#efff10"/>
<rect x="609.56" y="14.77" width="33.21" height="7.18" fill="#20ffdf"/>
<rect x="642.47" y="14.77" width="11.27" height="7.18" fill="#0050ff"/>
<rect x="653.44" y="14.77" width="11.27" height="7.18" fill="#20ffdf"/>
<rect x="664.41" y="14.77" width="22.24" height="7.18" fill="#0050ff"/>
<rect x="686.34" y="14.77" width="11.27" height="7.18" fill="#20ffdf"/>
<rect x="697.31" y="14.77" width="11.27" height="7.18" fill="#0050ff"/>
<rect x="708.28" y="14.77" width="22.24" height="7.18" fill="#00008f"/>
<rect x="730.22" y="14.77" width="33.21" height="7.18" fill="#0050ff"/>
<rect x="763.12" y="14.77" width="22.24" height="7.18" fill="#efff10"/>
<rect x="785.06" y="14.77" width="22.24" height="7.18" fill="#20ffdf"/>
<rect x="456" y="21.65" width="22.24" height="7.18" fill="#20ffdf"/>
<rect x="477.94" y="21.65" width="22.24" height="7.18" fill="#efff10"/>
<rect x="499.88" y="21.65" width="11.27" height="7.18" fill="#ff4000"/>
<rect x="510.84" y="21.65" width="22.24" height="7.18" fill="#20ffdf"/>
<rect x="532.78" y="21.65" width="11.27" height="7.18" fill="#efff10"/>
<rect x="543.75" y="21.65" width="33.21" height="7.18" fill="#20ffdf"/>
<rect x="576.66" y="21.65" width="11.27" height="7.18" fill="#efff10"/>
<rect x="587.62" y="21.65" width="11.27" height="7.18" fill="#ff4000"/>
<rect x="598.59" y="21.65" width="11.27" height="7.18" fill="#20ffdf"/>
<rect x="609.56" y="21.65" width="11.27" height="7.18" fill="#efff10"/>
<rect x="620.53" y="21.65" width="22.24" height="7.18" fill="#20ffdf"/>
<rect x="642.47" y="21.65" width="44.17" height="7.18" fill="#efff10"/>
<rect x="686.34" y="21.65" width="11.27" height="7.18" fill="#ff4000"/>
<rect x="697.31" y="21.65" width="22.24" height="7.18" fill="#efff10"/>
<rect x="719.25" y="21.65" width="11.27" height="7.18" fill="#ff4000"/>
<rect x="730.22" y="21.65" width="11.27" height="7.18" fill="#efff10"/>
<rect x="741.19" y="21.65" width="11.27" height="7.18" fill="#20ffdf"/>
<rect x="752.16" y="21.65" width="11.27" height="7.18" fill="#efff10"/>
<rect x="763.12" y="21.65" width="11.27" height="7.18" fill="#ff4000"/>
<rect x="774.09" y="21.65" width="11.27" height="7.18" fill="#efff10"/>
<rect x="785.06" y="21.65" width="11.27" height="7.18" fill="#ff4000"/>
<rect x="796.03" y="21.65" width="11.27" height="7.18" fill="#efff10"/>
<rect x="456" y="28.54" width="33.21" height="7.18" fill="#ff4000"/>
<rect x="488.91" y="28.54" width="33.21" height="7.18" fill="#efff10"/>
<rect x="521.81" y="28.54" width="11.27" height="7.18" fill="#ff4000"/>
<rect x="532.78" y="28.54" width="77.08" height="7.18" fill="#efff10"/>
<rect x="609.56" y="28.54" width="33.21" height="7.18" fill="#0050ff"/>
<rect x="642.47" y="28.54" width="22.24" height="7.18" fill="#00008f"/>
<rect x="664.41" y="28.54" width="22.24" height="7.18" fill="#20ffdf"/>
<rect x="686.34" y="28.54" width="11.27" height="7.18" fill="#efff10"/>
<rect x="697.31" y="28.54" width="22.24" height="7.18" fill="#00008f"/>
<rect x="719.25" y="28.54" width="11.27" height="7.18" fill="#0050ff"/>
<rect x="730.22" y="28.54" width="33.21" height="7.18" fill="#20ffdf"/>
<rect x="763.12" y="28.54" width="22.24" height="7.18" fill="#efff10"/>
<rect x="785.06" y="28.54" width="22.24" height="7.18" fill="#20ffdf"/>
<rect x="456" y="35.42" width="11.27" height="7.18" fill="#20ffdf"/>
<rect x="466.97" y="35.42" width="11.27" height="7.18" fill="#efff10"/>
<rect x="477.94" y="35.42" width="11.27" height="7.18" fill="#800000"/>
<rect x="488.91" y="35.42" width="22.24" height="7.18" fill="#ff4000"/>
<rect x="510.84" y="35.42" width="22.24" height="7.18" fill="#efff10"/>
<rect x="532.78" y="35.42" width="22.24" height="7.18" fill="#20ffdf"/>
<rect x="554.72" y="35.42" width="11.27" height="7.18" fill="#0050ff"/>
<rect x="565.69" y="35.42" width="44.17" height="7.18" fill="#ff4000"/>
<rect x="609.56" y="35.42" width="22.24" height="7.18" fill="#20ffdf"/>
<rect x="631.5" y="35.42" width="11.27" height="7.18" fill="#efff10"/>
<rect x="642.47" y="35.42" width="22.24" height="7.18" fill="#20ffdf"/>
<rect x="664.41" y="35.42" width="22.24" height="7.18" fill="#efff10"/>
<rect x="686.34" y="35.42" width="11.27" height="7.18" fill="#ff4000"/>
<rect x="697.31" y="35.42" width="33.21" height="7.18" fill="#efff10"/>
<rect x="730.22" y="35.42" width="11.27" height="7.18" fill="#20ffdf"/>
<rect x="741.19" y="35.42" width="22.24" height="7.18" fill="#ff4000"/>
<rect x="763.12" y="35.42" width="22.24" height="7.18" fill="#efff10"/>
<rect x="785.06" y="35.42" width="11.27" height="7.18" fill="#20ffdf"/>
<rect x="796.03" y="35.42" width="11.27" height="7.18" fill="#00008f"/>
<rect x="456" y="42.31" width="22.24" height="7.18" fill="#efff10"/>
<rect x="477.94" y="42.31" width="33.21" height="7.18" fill="#ff4000"/>
<rect x="510.84" y="42.31" width="11.27" height="7.18" fill="#800000"/>
<rect x="521.81" y="42.31" width="11.27" height="7.18" fill="#efff10"/>
<rect x="532.78" y="42.31" width="22.24" height="7.18" fill="#20ffdf"/>
<rect x="554.72" y="42.31" width="33.21" height="7.18" fill="#efff10"/>
<rect x="587.62" y="42.31" width="11.27" height="7.18" fill="#ff4000"/>
<rect x="598.59" y="42.31" width="11.27" height="7.18" fill="#efff10"/>
<rect x="609.56" y="42.31" width="11.27" height="7.18" fill="#0050ff"/>
<rect x="620.53" y="42.31" width="11.27" height="7.18" fill="#20ffdf"/>
<rect x="631.5" y="42.31" width="22.24" height="7.18" fill="#0050ff"/>
<rect x="653.44" y="42.31" width="11.27" height="7.18" fill="#20ffdf"/>
<rect x="664.41" y="42.31" width="22.24" height="7.18" fill="#efff10"/>
<rect x="686.34" y="42.31" width="22.24" height="7.18" fill="#0050ff"/>
<rect x="708.28" y="42.31" width="55.14" height="7.18" fill="#20ffdf"/>
<rect x="763.12" y="42.31" width="11.27" height="7.18" fill="#efff10"/>
<rect x="774.09" y="42.31" width="11.27" height="7.18" fill="#20ffdf"/>
<rect x="785.06" y="42.31" width="11.27" height="7.18" fill="#0050ff"/>
<rect x="796.03" y="42.31" width="11.27" height="7.18" fill="#20ffdf"/>
<rect x="456" y="49.19" width="11.27" height="7.18" fill="#efff10"/>
<rect x="466.97" y="49.19" width="11.27" height="7.18" fill="#800000"/>
<rect x="477.94" y="49.19" width="11.27" height="7.18" fill="#efff10"/>
<rect x="488.91" y="49.19" width="11.27" height="7.18" fill="#ff4000"/>
<rect x="499.88" y="49.19" width="33.21" height="7.18" fill="#efff10"/>
<rect x="532.78" y="49.19" width="22.24" height="7.18" fill="#20ffdf"/>
<rect x="554.72" y="49.19" width="22.24" height="7.18" fill="#efff10"/>
<rect x="576.66" y="49.19" width="22.24" height="7.18" fill="#ff4000"/>
<rect x="598.59" y="49.19" width="11.27" height="7.18" fill="#20ffdf"/>
<rect x="609.56" y="49.19" width="11.27" height="7.18" fill="#efff10"/>
<rect x="620.53" y="49.19" width="33.21" height="7.18" fill="#20ffdf"/>
<rect x="653.44" y="49.19" width="11.27" height="7.18" fill="#efff10"/>
<rect x="664.41" y="49.19" width="11.27" height="7.18" fill="#ff4000"/>
<rect x="675.38" y="49.19" width="11.27" height="7.18" fill="#800000"/>
<rect x="686.34" y="49.19" width="11.27" height="7.18" fill="#ff4000"/>
<rect x="697.31" y="49.19" width="22.24" height="7.18" fill="#efff10"/>
<rect x="719.25" y="49.19" width="11.27" height="7.18" fill="#20ffdf"/>
<rect x="730.22" y="49.19" width="11.27" height="7.18" fill="#efff10"/>
<rect x="741.19" y="49.19" width="11.27" height="7.18" fill="#ff4000"/>
<rect x="752.16" y="49.19" width="11.27" height="7.18" fill="#efff10"/>
<rect x="763.12" y="49.19" width="22.24" height="7.18" fill="#20ffdf"/>
<rect x="785.06" y="49.19" width="11.27" height="7.18" fill="#0050ff"/>
<rect x="796.03" y="49.19" width="11.27" height="7.18" fill="#00008f"/>
<rect x="456" y="56.08" width="11.27" height="7.18" fill="#ff4000"/>
<rect x="466.97" y="56.08" width="11.27" height="7.18" fill="#efff10"/>
<rect x="477.94" y="56.08" width="11.27" height="7.18" fill="#ff4000"/>
<rect x="488.91" y="56.08" width="33.21" height="7.18" fill="#efff10"/>
<rect x="521.81" y="56.08" width="22.24" height="7.18" fill="#20ffdf"/>
<rect x="543.75" y="56.08" width="11.27" height="7.18" fill="#efff10"/>
<rect x="554.72" y="56.08" width="11.27" height="7.18" fill="#ff4000"/>
<rect x="565.69" y="56.08" width="11.27" height="7.18" fill="#efff10"/>
<rect x="576.66" y="56.08" width="22.24" height="7.18" fill="#800000"/>
<rect x="598.59" y="56.08" width="11.27" height="7.18" fill="#ff4000"/>
<rect x="609.56" y="56.08" width="11.27" height="7.18" fill="#20ffdf"/>
<rect x="620.53" y="56.08" width="33.21" height="7.18" fill="#0050ff"/>
<rect x="653.44" y="56.08" width="11.27" height="7.18" fill="#efff10"/>
<rect x="664.41" y="56.08" width="22.24" height="7.18" fill="#20ffdf"/>
<rect x="686.34" y="56.08" width="11.27" height="7.18" fill="#efff10"/>
<rect x="697.31" y="56.08" width="11.27" height="7.18" fill="#20ffdf"/>
<rect x="708.28" y="56.08" width="11.27" height="7.18" fill="#efff10"/>
<rect x="719.25" y="56.08" width="11.27" height="7.18" fill="#0050ff"/>
<rect x="730.22" y="56.08" width="22.24" height="7.18" fill="#00008f"/>
<rect x="752.16" y="56.08" width="44.17" height="7.18" fill="#20ffdf"/>
<rect x="796.03" y="56.08" width="11.27" height="7.18" fill="#efff10"/>
<rect x="456" y="62.96" width="66.11" height="7.18" fill="#ff4000"/>
<rect x="521.81" y="62.96" width="11.27" height="7.18" fill="#efff10"/>
<rect x="532.78" y="62.96" width="22.24" height="7.18" fill="#20ffdf"/>
<rect x="554.72" y="62.96" width="11.27" height="7.18" fill="#efff10"/>
<rect x="565.69" y="62.96" width="11.27" height="7.18" fill="#ff4000"/>
<rect x="576.66" y="62.96" width="22.24" height="7.18" fill="#20ffdf"/>
<rect x="598.59" y="62.96" width="11.27" height="7.18" fill="#efff10"/>
<rect x="609.56" y="62.96" width="11.27" height="7.18" fill="#0050ff"/>
<rect x="620.53" y="62.96" width="11.27" height="7.18" fill="#20ffdf"/>
<rect x="631.5" y="62.96" width="11.27" height="7.18" fill="#0050ff"/>
<rect x="642.47" y="62.96" width="11.27" height="7.18" fill="#efff10"/>
<rect x="653.44" y="62.96" width="55.14" height="7.18" fill="#ff4000"/>
<rect x="708.28" y="62.96" width="33.21" height="7.18" fill="#20ffdf"/>
<rect x="741.19" y="62.96" width="11.27" height="7.18" fill="#0050ff"/>
<rect x="752.16" y="62.96" width="22.24" height="7.18" fill="#20ffdf"/>
<rect x="774.09" y="62.96" width="11.27" height="7.18" fill="#0050ff"/>
<rect x="785.06" y="62.96" width="11.27" height="7.18" fill="#00008f"/>
<rect x="796.03" y="62.96" width="11.27" height="7.18" fill="#0050ff"/>
<rect x="456" y="69.84" width="11.27" height="7.18" fill="#20ffdf"/>
<rect x="466.97" y="69.84" width="11.27" height="7.18" fill="#efff10"/>
<rect x="477.94" y="69.84" width="11.27" height="7.18" fill="#ff4000"/>
<rect x="488.91" y="69.84" width="11.27" height="7.18" fill="#efff10"/>
<rect x="499.88" y="69.84" width="11.27" height="7.18" fill="#20ffdf"/>
<rect x="510.84" y="69.84" width="11.27" height="7.18" fill="#0050ff"/>
<rect x="521.81" y="69.84" width="11.27" height="7.18" fill="#20ffdf"/>
<rect x="532.78" y="69.84" width="22.24" height="7.18" fill="#efff10"/>
<rect x="554.72" y="69.84" width="11.27" height="7.18" fill="#800000"/>
<rect x="565.69" y="69.84" width="11.27" height="7.18" fill="#efff10"/>
<rect x="576.66" y="69.84" width="11.27" height="7.18" fill="#ff4000"/>
<rect x="587.62" y="69.84" width="11.27" height="7.18" fill="#20ffdf"/>
<rect x="598.59" y="69.84" width="11.27" height="7.18" fill="#0050ff"/>
<rect x="609.56" y="69.84" width="11.27" height="7.18" fill="#00008f"/>
<rect x="620.53" y="69.84" width="11.27" height="7.18" fill="#0050ff"/>
<rect x="631.5" y="69.84" width="11.27" height="7.18" fill="#20ffdf"/>
<rect x="642.47" y="69.84" width="33.21" height="7.18" fill="#efff10"/>
<rect x="675.38" y="69.84" width="22.24" height="7.18" fill="#20ffdf"/>
<rect x="697.31" y="69.84" width="22.24" height="7.18" fill="#efff10"/>
<rect x="719.25" y="69.84" width="11.27" height="7.18" fill="#20ffdf"/>
<rect x="730.22" y="69.84" width="11.27" height="7.18" fill="#0050ff"/>
<rect x="741.19" y="69.84" width="11.27" height="7.18" fill="#20ffdf"/>
<rect x="752.16" y="69.84" width="11.27" height="7.18" fill="#0050ff"/>
<rect x="763.12" y="69.84" width="11.27" height="7.18" fill="#20ffdf"/>
<rect x="774.09" y="69.84" width="11.27" height="7.18" fill="#0050ff"/>
<rect x="785.06" y="69.84" width="11.27" height="7.18" fill="#ff4000"/>
<rect x="796.03" y="69.84" width="11.27" height="7.18" fill="#efff10"/>
<rect x="456" y="76.73" width="11.27" height="7.18" fill="#800000"/>
<rect x="466.97" y="76.73" width="22.24" height="7.18" fill="#ff4000"/>
<rect x="488.91" y="76.73" width="11.27" height="7.18" fill="#efff10"/>
<rect x="499.88" y="76.73" width="22.24" height="7.18" fill="#ff4000"/>
<rect x="521.81" y="76.73" width="22.24" height="7.18" fill="#efff10"/>
<rect x="543.75" y="76.73" width="11.27" height="7.18" fill="#20ffdf"/>
<rect x="554.72" y="76.73" width="22.24" height="7.18" fill="#efff10"/>
<rect x="576.66" y="76.73" width="55.14" height="7.18" fill="#20ffdf"/>
<rect x="631.5" y="76.73" width="22.24" height="7.18" fill="#efff10"/>
<rect x="653.44" y="76.73" width="44.17" height="7.18" fill="#ff4000"/>
<rect x="697.31" y="76.73" width="11.27" height="7.18" fill="#20ffdf"/>
<rect x="708.28" y="76.73" width="11.27" height="7.18" fill="#efff10"/>
<rect x="719.25" y="76.73" width="11.27" height="7.18" fill="#20ffdf"/>
<rect x="730.22" y="76.73" width="22.24" height="7.18" fill="#efff10"/>
<rect x="752.16" y="76.73" width="11.27" height="7.18" fill="#20ffdf"/>
<rect x="763.12" y="76.73" width="11.27" height="7.18" fill="#0050ff"/>
<rect x="774.09" y="76.73" width="11.27" height="7.18" fill="#00008f"/>
<rect x="785.06" y="76.73" width="22.24" height="7.18" fill="#0050ff"/>
<rect x="456" y="83.61" width="44.17" height="7.18" fill="#efff10"/>
<rect x="499.88" y="83.61" width="22.24" height="7.18" fill="#0050ff"/>
<rect x="521.81" y="83.61" width="22.24" height="7.18" fill="#20ffdf"/>
<rect x="543.75" y="83.61" width="11.27" height="7.18" fill="#efff10"/>
<rect x="554.72" y="83.61" width="11.27" height="7.18" fill="#ff4000"/>
<rect x="565.69" y="83.61" width="22.24" height="7.18" fill="#efff10"/>
<rect x="587.62" y="83.61" width="11.27" height="7.18" fill="#20ffdf"/>
<rect x="598.59" y="83.61" width="11.27" height="7.18" fill="#00008f"/>
<rect x="609.56" y="83.61" width="11.27" height="7.18" fill="#0050ff"/>
<rect x="620.53" y="83.61" width="22.24" height="7.18" fill="#20ffdf"/>
<rect x="642.47" y="83.61" width="11.27" height="7.18" fill="#efff10"/>
<rect x="653.44" y="83.61" width="11.27" height="7.18" fill="#ff4000"/>
<rect x="664.41" y="83.61" width="11.27" height="7.18" fill="#efff10"/>
<rect x="675.38" y="83.61" width="22.24" height="7.18" fill="#20ffdf"/>
<rect x="697.31" y="83.61" width="11.27" height="7.18" fill="#efff10"/>
<rect x="708.28" y="83.61" width="22.24" height="7.18" fill="#20ffdf"/>
<rect x="730.22" y="83.61" width="11.27" height="7.18" fill="#0050ff"/>
<rect x="741.19" y="83.61" width="11.27" height="7.18" fill="#20ffdf"/>
<rect x="752.16" y="83.61" width="11.27" height="7.18" fill="#0050ff"/>
<rect x="763.12" y="83.61" width="11.27" height="7.18" fill="#20ffdf"/>
<rect x="774.09" y="83.61" width="11.27" height="7.18" fill="#ff4000"/>
<rect x="785.06" y="83.61" width="11.27" height="7.18" fill="#efff10"/>
<rect x="796.03" y="83.61" width="11.27" height="7.18" fill="#ff4000"/>
<rect x="456" y="90.5" width="11.27" height="7.18" fill="#efff10"/>
<rect x="466.97" y="90.5" width="55.14" height="7.18" fill="#ff4000"/>
<rect x="521.81" y="90.5" width="11.27" height="7.18" fill="#0050ff"/>
<rect x="532.78" y="90.5" width="11.27" height="7.18" fill="#00008f"/>
<rect x="543.75" y="90.5" width="11.27" height="7.18" fill="#20ffdf"/>
<rect x="554.72" y="90.5" width="11.27" height="7.18" fill="#efff10"/>
<rect x="565.69" y="90.5" width="11.27" height="7.18" fill="#20ffdf"/>
<rect x="576.66" y="90.5" width="22.24" height="7.18" fill="#efff10"/>
<rect x="598.59" y="90.5" width="11.27" height="7.18" fill="#20ffdf"/>
<rect x="609.56" y="90.5" width="22.24" height="7.18" fill="#efff10"/>
<rect x="631.5" y="90.5" width="22.24" height="7.18" fill="#ff4000"/>
<rect x="653.44" y="90.5" width="22.24" height="7.18" fill="#efff10"/>
<rect x="675.38" y="90.5" width="11.27" height="7.18" fill="#ff4000"/>
<rect x="686.34" y="90.5" width="11.27" height="7.18" fill="#efff10"/>
<rect x="697.31" y="90.5" width="11.27" height="7.18" fill="#20ffdf"/>
<rect x="708.28" y="90.5" width="11.27" height="7.18" fill="#efff10"/>
<rect x="719.25" y="90.5" width="33.21" height="7.18" fill="#20ffdf"/>
<rect x="752.16" y="90.5" width="22.24" height="7.18" fill="#00008f"/>
<rect x="774.09" y="90.5" width="33.21" height="7.18" fill="#0050ff"/>
<rect x="456" y="97.38" width="11.27" height="7.18" fill="#efff10"/>
<rect x="466.97" y="97.38" width="11.27" height="7.18" fill="#20ffdf"/>
<rect x="477.94" y="97.38" width="11.27" height="7.18" fill="#efff10"/>
<rect x="488.91" y="97.38" width="11.27" height="7.18" fill="#20ffdf"/>
<rect x="499.88" y="97.38" width="11.27" height="7.18" fill="#0050ff"/>
<rect x="510.84" y="97.38" width="11.27" height="7.18" fill="#00008f"/>
<rect x="521.81" y="97.38" width="22.24" height="7.18" fill="#20ffdf"/>
<rect x="543.75" y="97.38" width="11.27" height="7.18" fill="#efff10"/>
<rect x="554.72" y="97.38" width="11.27" height="7.18" fill="#ff4000"/>
<rect x="565.69" y="97.38" width="11.27" height="7.18" fill="#efff10"/>
<rect x="576.66" y="97.38" width="11.27" height="7.18" fill="#20ffdf"/>
<rect x="587.62" y="97.38" width="11.27" height="7.18" fill="#00008f"/>
<rect x="598.59" y="97.38" width="11.27" height="7.18" fill="#20ffdf"/>
<rect x="609.56" y="97.38" width="11.27" height="7.18" fill="#00008f"/>
<rect x="620.53" y="97.38" width="11.27" height="7.18" fill="#0050ff"/>
<rect x="631.5" y="97.38" width="11.27" height="7.18" fill="#efff10"/>
<rect x="642.47" y="97.38" width="33.21" height="7.18" fill="#ff4000"/>
<rect x="675.38" y="97.38" width="11.27" height="7.18" fill="#efff10"/>
<rect x="686.34" y="97.38" width="22.24" height="7.18" fill="#20ffdf"/>
<rect x="708.28" y="97.38" width="11.27" height="7.18" fill="#efff10"/>
<rect x="719.25" y="97.38" width="11.27" height="7.18" fill="#20ffdf"/>
<rect x="730.22" y="97.38" width="22.24" height="7.18" fill="#0050ff"/>
<rect x="752.16" y="97.38" width="11.27" height="7.18" fill="#20ffdf"/>
<rect x="763.12" y="97.38" width="22.24" height="7.18" fill="#ff4000"/>
<rect x="785.06" y="97.38" width="11.27" height="7.18" fill="#efff10"/>
<rect x="796.03" y="97.38" width="11.27" height="7.18" fill="#ff4000"/>
<rect x="456" y="104.27" width="11.27" height="7.18" fill="#efff10"/>
<rect x="466.97" y="104.27" width="33.21" height="7.18" fill="#ff4000"/>
<rect x="499.88" y="104.27" width="22.24" height="7.18" fill="#20ffdf"/>
<rect x="521.81" y="104.27" width="11.27" height="7.18" fill="#00008f"/>
<rect x="532.78" y="104.27" width="11.27" height="7.18" fill="#efff10"/>
<rect x="543.75" y="104.27" width="11.27" height="7.18" fill="#20ffdf"/>
<rect x="554.72" y="104.27" width="11.27" height="7.18" fill="#efff10"/>
<rect x="565.69" y="104.27" width="22.24" height="7.18" fill="#20ffdf"/>
<rect x="587.62" y="104.27" width="11.27" height="7.18" fill="#0050ff"/>
<rect x="598.59" y="104.27" width="33.21" height="7.18" fill="#20ffdf"/>
<rect x="631.5" y="104.27" width="11.27" height="7.18" fill="#ff4000"/>
<rect x="642.47" y="104.27" width="22.24" height="7.18" fill="#efff10"/>
<rect x="664.41" y="104.27" width="11.27" height="7.18" fill="#ff4000"/>
<rect x="675.38" y="104.27" width="22.24" height="7.18" fill="#efff10"/>
<rect x="697.31" y="104.27" width="11.27" height="7.18" fill="#20ffdf"/>
<rect x="708.28" y="104.27" width="22.24" height="7.18" fill="#0050ff"/>
<rect x="730.22" y="104.27" width="11.27" height="7.18" fill="#00008f"/>
<rect x="741.19" y="104.27" width="11.27" height="7.18" fill="#20ffdf"/>
<rect x="752.16" y="104.27" width="11.27" height="7.18" fill="#00008f"/>
<rect x="763.12" y="104.27" width="11.27" height="7.18" fill="#0050ff"/>
<rect x="774.09" y="104.27" width="11.27" height="7.18" fill="#20ffdf"/>
<rect x="785.06" y="104.27" width="22.24" height="7.18" fill="#efff10"/>
<rect x="456" y="111.15" width="11.27" height="7.18" fill="#20ffdf"/>
<rect x="466.97" y="111.15" width="11.27" height="7.18" fill="#efff10"/>
<rect x="477.94" y="111.15" width="11.27" height="7.18" fill="#20ffdf"/>
<rect x="488.91" y="111.15" width="11.27" height="7.18" fill="#0050ff"/>
<rect x="499.88" y="111.15" width="22.24" height="7.18" fill="#00008f"/>
<rect x="521.81" y="111.15" width="22.24" height="7.18" fill="#20ffdf"/>
<rect x="543.75" y="111.15" width="11.27" height="7.18" fill="#0050ff"/>
<rect x="554.72" y="111.15" width="33.21" height="7.18" fill="#20ffdf"/>
<rect x="587.62" y="111.15" width="11.27" height="7.18" fill="#00008f"/>
<rect x="598.59" y="111.15" width="11.27" height="7.18" fill="#0050ff"/>
<rect x="609.56" y="111.15" width="11.27" height="7.18" fill="#00008f"/>
<rect x="620.53" y="111.15" width="22.24" height="7.18" fill="#20ffdf"/>
<rect x="642.47" y="111.15" width="22.24" height="7.18" fill="#ff4000"/>
<rect x="664.41" y="111.15" width="11.27" height="7.18" fill="#20ffdf"/>
<rect x="675.38" y="111.15" width="11.27" height="7.18" fill="#0050ff"/>
<rect x="686.34" y="111.15" width="11.27" height="7.18" fill="#20ffdf"/>
<rect x="697.31" y="111.15" width="22.24" height="7.18" fill="#efff10"/>
<rect x="719.25" y="111.15" width="11.27" height="7.18" fill="#0050ff"/>
<rect x="730.22" y="111.15" width="33.21" height="7.18" fill="#20ffdf"/>
<rect x="763.12" y="111.15" width="11.27" height="7.18" fill="#efff10"/>
<rect x="774.09" y="111.15" width="11.27" height="7.18" fill="#20ffdf"/>
<rect x="785.06" y="111.15" width="22.24" height="7.18" fill="#efff10"/>
<rect x="456" y="118.03" width="11.27" height="7.18" fill="#efff10"/>
<rect x="466.97" y="118.03" width="11.27" height="7.18" fill="#ff4000"/>
<rect x="477.94" y="118.03" width="22.24" height="7.18" fill="#efff10"/>
<rect x="499.88" y="118.03" width="22.24" height="7.18" fill="#0050ff"/>
<rect x="521.81" y="118.03" width="11.27" height="7.18" fill="#20ffdf"/>
<rect x="532.78" y="118.03" width="22.24" height="7.18" fill="#efff10"/>
<rect x="554.72" y="118.03" width="66.11" height="7.18" fill="#20ffdf"/>
<rect x="620.53" y="118.03" width="11.27" height="7.18" fill="#efff10"/>
<rect x="631.5" y="118.03" width="33.21" height="7.18" fill="#ff4000"/>
<rect x="664.41" y="118.03" width="11.27" height="7.18" fill="#efff10"/>
<rect x="675.38" y="118.03" width="22.24" height="7.18" fill="#20ffdf"/>
<rect x="697.31" y="118.03" width="11.27" height="7.18" fill="#0050ff"/>
<rect x="708.28" y="118.03" width="11.27" height="7.18" fill="#00008f"/>
<rect x="719.25" y="118.03" width="11.27" height="7.18" fill="#0050ff"/>
<rect x="730.22" y="118.03" width="22.24" height="7.18" fill="#20ffdf"/>
<rect x="752.16" y="118.03" width="11.27" height="7.18" fill="#00008f"/>
<rect x="763.12" y="118.03" width="44.17" height="7.18" fill="#0050ff"/>
<rect x="456" y="124.92" width="22.24" height="7.18" fill="#efff10"/>
<rect x="477.94" y="124.92" width="22.24" height="7.18" fill="#0050ff"/>
<rect x="499.88" y="124.92" width="11.27" height="7.18" fill="#00008f"/>
<rect x="510.84" y="124.92" width="11.27" height="7.18" fill="#20ffdf"/>
<rect x="521.81" y="124.92" width="33.21" height="7.18" fill="#0050ff"/>
<rect x="554.72" y="124.92" width="11.27" height="7.18" fill="#20ffdf"/>
<rect x="565.69" y="124.92" width="44.17" height="7.18" fill="#00008f"/>
<rect x="609.56" y="124.92" width="44.17" height="7.18" fill="#20ffdf"/>
<rect x="653.44" y="124.92" width="11.27" height="7.18" fill="#efff10"/>
<rect x="664.41" y="124.92" width="22.24" height="7.18" fill="#20ffdf"/>
<rect x="686.34" y="124.92" width="11.27" height="7.18" fill="#0050ff"/>
<rect x="697.31" y="124.92" width="11.27" height="7.18" fill="#20ffdf"/>
<rect x="708.28" y="124.92" width="11.27" height="7.18" fill="#00008f"/>
<rect x="719.25" y="124.92" width="11.27" height="7.18" fill="#0050ff"/>
<rect x="730.22" y="124.92" width="11.27" height="7.18" fill="#efff10"/>
<rect x="741.19" y="124.92" width="33.21" height="7.18" fill="#20ffdf"/>
<rect x="774.09" y="124.92" width="33.21" height="7.18" fill="#efff10"/>
<rect x="456" y="131.8" width="11.27" height="7.18" fill="#ff4000"/>
<rect x="466.97" y="131.8" width="11.27" height="7.18" fill="#efff10"/>
<rect x="477.94" y="131.8" width="11.27" height="7.18" fill="#ff4000"/>
<rect x="488.91" y="131.8" width="33.21" height="7.18" fill="#0050ff"/>
<rect x="521.81" y="131.8" width="66.11" height="7.18" fill="#20ffdf"/>
<rect x="587.62" y="131.8" width="11.27" height="7.18" fill="#0050ff"/>
<rect x="598.59" y="131.8" width="11.27" height="7.18" fill="#20ffdf"/>
<rect x="609.56" y="131.8" width="11.27" height="7.18" fill="#efff10"/>
<rect x="620.53" y="131.8" width="22.24" height="7.18" fill="#800000"/>
<rect x="642.47" y="131.8" width="11.27" height="7.18" fill="#efff10"/>
<rect x="653.44" y="131.8" width="11.27" height="7.18" fill="#ff4000"/>
<rect x="664.41" y="131.8" width="11.27" height="7.18" fill="#20ffdf"/>
<rect x="675.38" y="131.8" width="11.27" height="7.18" fill="#efff10"/>
<rect x="686.34" y="131.8" width="22.24" height="7.18" fill="#0050ff"/>
<rect x="708.28" y="131.8" width="11.27" height="7.18" fill="#00008f"/>
<rect x="719.25" y="131.8" width="11.27" height="7.18" fill="#20ffdf"/>
<rect x="730.22" y="131.8" width="11.27" height="7.18" fill="#efff10"/>
<rect x="741.19" y="131.8" width="33.21" height="7.18" fill="#0050ff"/>
<rect x="774.09" y="131.8" width="11.27" height="7.18" fill="#20ffdf"/>
<rect x="785.06" y="131.8" width="22.24" height="7.18" fill="#0050ff"/>
<rect x="456" y="138.69" width="11.27" height="7.18" fill="#20ffdf"/>
<rect x="466.97" y="138.69" width="11.27" height="7.18" fill="#0050ff"/>
<rect x="477.94" y="138.69" width="11.27" height="7.18" fill="#20ffdf"/>
<rect x="488.91" y="138.69" width="11.27" height="7.18" fill="#00008f"/>
<rect x="499.88" y="138.69" width="11.27" height="7.18" fill="#0050ff"/>
<rect x="510.84" y="138.69" width="11.27" height="7.18" fill="#20ffdf"/>
<rect x="521.81" y="138.69" width="11.27" height="7.18" fill="#0050ff"/>
<rect x="532.78" y="138.69" width="11.27" height="7.18" fill="#00008f"/>
<rect x="543.75" y="138.69" width="22.24" height="7.18" fill="#0050ff"/>
<rect x="565.69" y="138.69" width="11.27" height="7.18" fill="#00008f"/>
<rect x="576.66" y="138.69" width="11.27" height="7.18" fill="#20ffdf"/>
<rect x="587.62" y="138.69" width="11.27" height="7.18" fill="#0050ff"/>
<rect x="598.59" y="138.69" width="11.27" height="7.18" fill="#20ffdf"/>
<rect x="609.56" y="138.69" width="11.27" height="7.18" fill="#0050ff"/>
<rect x="620.53" y="138.69" width="11.27" height="7.18" fill="#20ffdf"/>
<rect x="631.5" y="138.69" width="22.24" height="7.18" fill="#0050ff"/>
<rect x="653.44" y="138.69" width="22.24" height="7.18" fill="#20ffdf"/>
<rect x="675.38" y="138.69" width="11.27" height="7.18" fill="#ff4000"/>
<rect x="686.34" y="138.69" width="11.27" height="7.18" fill="#20ffdf"/>
<rect x="697.31" y="138.69" width="22.24" height="7.18" fill="#0050ff"/>
<rect x="719.25" y="138.69" width="11.27" height="7.18" fill="#20ffdf"/>
<rect x="730.22" y="138.69" width="11.27" height="7.18" fill="#0050ff"/>
<rect x="741.19" y="138.69" width="11.27" height="7.18" fill="#20ffdf"/>
<rect x="752.16" y="138.69" width="11.27" height="7.18" fill="#efff10"/>
<rect x="763.12" y="138.69" width="22.24" height="7.18" fill="#20ffdf"/>
<rect x="785.06" y="138.69" width="11.27" height="7.18" fill="#efff10"/>
<rect x="796.03" y="138.69" width="11.27" height="7.18" fill="#ff4000"/>
<rect x="456" y="145.57" width="22.24" height="7.18" fill="#ff4000"/>
<rect x="477.94" y="145.57" width="55.14" height="7.18" fill="#0050ff"/>
<rect x="532.78" y="145.57" width="22.24" height="7.18" fill="#20ffdf"/>
<rect x="554.72" y="145.57" width="22.24" height="7.18" fill="#0050ff"/>
<rect x="576.66" y="145.57" width="11.27" height="7.18" fill="#20ffdf"/>
<rect x="587.62" y="145.57" width="22.24" height="7.18" fill="#efff10"/>
<rect x="609.56" y="145.57" width="22.24" height="7.18" fill="#ff4000"/>
<rect x="631.5" y="145.57" width="44.17" height="7.18" fill="#efff10"/>
<rect x="675.38" y="145.57" width="22.24" height="7.18" fill="#0050ff"/>
<rect x="697.31" y="145.57" width="22.24" height="7.18" fill="#00008f"/>
<rect x="719.25" y="145.57" width="11.27" height="7.18" fill="#20ffdf"/>
<rect x="730.22" y="145.57" width="33.21" height="7.18" fill="#0050ff"/>
<rect x="763.12" y="145.57" width="11.27" height="7.18" fill="#00008f"/>
<rect x="774.09" y="145.57" width="22.24" height="7.18" fill="#20ffdf"/>
<rect x="796.03" y="145.57" width="11.27" height="7.18" fill="#00008f"/>
<rect x="456" y="152.46" width="22.24" height="7.18" fill="#0050ff"/>
<rect x="477.94" y="152.46" width="11.27" height="7.18" fill="#00008f"/>
<rect x="488.91" y="152.46" width="11.27" height="7.18" fill="#efff10"/>
<rect x="499.88" y="152.46" width="11.27" height="7.18" fill="#0050ff"/>
<rect x="510.84" y="152.46" width="11.27" height="7.18" fill="#00008f"/>
<rect x="521.81" y="152.46" width="11.27" height="7.18" fill="#0050ff"/>
<rect x="532.78" y="152.46" width="11.27" height="7.18" fill="#00008f"/>
<rect x="543.75" y="152.46" width="11.27" height="7.18" fill="#0050ff"/>
<rect x="554.72" y="152.46" width="11.27" height="7.18" fill="#00008f"/>
<rect x="565.69" y="152.46" width="22.24" height="7.18" fill="#efff10"/>
<rect x="587.62" y="152.46" width="11.27" height="7.18" fill="#20ffdf"/>
<rect x="598.59" y="152.46" width="11.27" height="7.18" fill="#ff4000"/>
<rect x="609.56" y="152.46" width="11.27" height="7.18" fill="#efff10"/>
<rect x="620.53" y="152.46" width="33.21" height="7.18" fill="#20ffdf"/>
<rect x="653.44" y="152.46" width="22.24" height="7.18" fill="#efff10"/>
<rect x="675.38" y="152.46" width="11.27" height="7.18" fill="#20ffdf"/>
<rect x="686.34" y="152.46" width="11.27" height="7.18" fill="#0050ff"/>
<rect x="697.31" y="152.46" width="11.27" height="7.18" fill="#00008f"/>
<rect x="708.28" y="152.46" width="33.21" height="7.18" fill="#20ffdf"/>
<rect x="741.19" y="152.46" width="11.27" height="7.18" fill="#efff10"/>
<rect x="752.16" y="152.46" width="11.27" height="7.18" fill="#ff4000"/>
<rect x="763.12" y="152.46" width="44.17" height="7.18" fill="#efff10"/>
<rect x="456" y="159.34" width="11.27" height="7.18" fill="#ff4000"/>
<rect x="466.97" y="159.34" width="11.27" height="7.18" fill="#efff10"/>
<rect x="477.94" y="159.34" width="11.27" height="7.18" fill="#00008f"/>
<rect x="488.91" y="159.34" width="22.24" height="7.18" fill="#0050ff"/>
<rect x="510.84" y="159.34" width="11.27" height="7.18" fill="#00008f"/>
<rect x="521.81" y="159.34" width="22.24" height="7.18" fill="#0050ff"/>
<rect x="543.75" y="159.34" width="44.17" height="7.18" fill="#20ffdf"/>
<rect x="587.62" y="159.34" width="22.24" height="7.18" fill="#efff10"/>
<rect x="609.56" y="159.34" width="11.27" height="7.18" fill="#ff4000"/>
<rect x="620.53" y="159.34" width="11.27" height="7.18" fill="#efff10"/>
<rect x="631.5" y="159.34" width="11.27" height="7.18" fill="#ff4000"/>
<rect x="642.47" y="159.34" width="11.27" height="7.18" fill="#20ffdf"/>
<rect x="653.44" y="159.34" width="11.27" height="7.18" fill="#efff10"/>
<rect x="664.41" y="159.34" width="22.24" height="7.18" fill="#0050ff"/>
<rect x="686.34" y="159.34" width="11.27" height="7.18" fill="#00008f"/>
<rect x="697.31" y="159.34" width="33.21" height="7.18" fill="#0050ff"/>
<rect x="730.22" y="159.34" width="11.27" height="7.18" fill="#00008f"/>
<rect x="741.19" y="159.34" width="11.27" height="7.18" fill="#0050ff"/>
<rect x="752.16" y="159.34" width="11.27" height="7.18" fill="#00008f"/>
<rect x="763.12" y="159.34" width="11.27" height="7.18" fill="#0050ff"/>
<rect x="774.09" y="159.34" width="11.27" height="7.18" fill="#20ffdf"/>
<rect x="785.06" y="159.34" width="11.27" height="7.18" fill="#0050ff"/>
<rect x="796.03" y="159.34" width="11.27" height="7.18" fill="#20ffdf"/>
<rect x="456" y="166.23" width="11.27" height="7.18" fill="#20ffdf"/>
<rect x="466.97" y="166.23" width="11.27" height="7.18" fill="#0050ff"/>
<rect x="477.94" y="166.23" width="11.27" height="7.18" fill="#00008f"/>
<rect x="488.91" y="166.23" width="11.27" height="7.18" fill="#20ffdf"/>
<rect x="499.88" y="166.23" width="33.21" height="7.18" fill="#0050ff"/>
<rect x="532.78" y="166.23" width="22.24" height="7.18" fill="#00008f"/>
<rect x="554.72" y="166.23" width="22.24" height="7.18" fill="#20ffdf"/>
<rect x="576.66" y="166.23" width="11.27" height="7.18" fill="#00008f"/>
<rect x="587.62" y="166.23" width="11.27" height="7.18" fill="#efff10"/>
<rect x="598.59" y="166.23" width="11.27" height="7.18" fill="#ff4000"/>
<rect x="609.56" y="166.23" width="22.24" height="7.18" fill="#0050ff"/>
<rect x="631.5" y="166.23" width="11.27" height="7.18" fill="#00008f"/>
<rect x="642.47" y="166.23" width="11.27" height="7.18" fill="#0050ff"/>
<rect x="653.44" y="166.23" width="22.24" height="7.18" fill="#efff10"/>
<rect x="675.38" y="166.23" width="11.27" height="7.18" fill="#20ffdf"/>
<rect x="686.34" y="166.23" width="22.24" height="7.18" fill="#0050ff"/>
<rect x="708.28" y="166.23" width="11.27" height="7.18" fill="#20ffdf"/>
<rect x="719.25" y="166.23" width="11.27" height="7.18" fill="#0050ff"/>
<rect x="730.22" y="166.23" width="11.27" height="7.18" fill="#20ffdf"/>
<rect x="741.19" y="166.23" width="44.17" height="7.18" fill="#efff10"/>
<rect x="785.06" y="166.23" width="11.27" height="7.18" fill="#ff4000"/>
<rect x="796.03" y="166.23" width="11.27" height="7.18" fill="#efff10"/>
<rect x="456" y="173.11" width="11.27" height="7.18" fill="#0050ff"/>
<rect x="466.97" y="173.11" width="11.27" height="7.18" fill="#00008f"/>
<rect x="477.94" y="173.11" width="11.27" height="7.18" fill="#efff10"/>
<rect x="488.91" y="173.11" width="11.27" height="7.18" fill="#00008f"/>
<rect x="499.88" y="173.11" width="33.21" height="7.18" fill="#0050ff"/>
<rect x="532.78" y="173.11" width="11.27" height="7.18" fill="#efff10"/>
<rect x="543.75" y="173.11" width="33.21" height="7.18" fill="#20ffdf"/>
<rect x="576.66" y="173.11" width="11.27" height="7.18" fill="#ff4000"/>
<rect x="587.62" y="173.11" width="33.21" height="7.18" fill="#efff10"/>
<rect x="620.53" y="173.11" width="11.27" height="7.18" fill="#ff4000"/>
<rect x="631.5" y="173.11" width="11.27" height="7.18" fill="#efff10"/>
<rect x="642.47" y="173.11" width="11.27" height="7.18" fill="#20ffdf"/>
<rect x="653.44" y="173.11" width="11.27" height="7.18" fill="#0050ff"/>
<rect x="664.41" y="173.11" width="11.27" height="7.18" fill="#20ffdf"/>
<rect x="675.38" y="173.11" width="22.24" height="7.18" fill="#0050ff"/>
<rect x="697.31" y="173.11" width="11.27" height="7.18" fill="#efff10"/>
<rect x="708.28" y="173.11" width="11.27" height="7.18" fill="#20ffdf"/>
<rect x="719.25" y="173.11" width="11.27" height="7.18" fill="#0050ff"/>
<rect x="730.22" y="173.11" width="22.24" height="7.18" fill="#00008f"/>
<rect x="752.16" y="173.11" width="11.27" height="7.18" fill="#20ffdf"/>
<rect x="763.12" y="173.11" width="22.24" height="7.18" fill="#00008f"/>
<rect x="785.06" y="173.11" width="11.27" height="7.18" fill="#efff10"/>
<rect x="796.03" y="173.11" width="11.27" height="7.18" fill="#20ffdf"/>
<rect x="456" y="179.99" width="11.27" height="7.18" fill="#0050ff"/>
<rect x="466.97" y="179.99" width="22.24" height="7.18" fill="#efff10"/>
<rect x="488.91" y="179.99" width="11.27" height="7.18" fill="#00008f"/>
<rect x="499.88" y="179.99" width="11.27" height="7.18" fill="#20ffdf"/>
<rect x="510.84" y="179.99" width="22.24" height="7.18" fill="#00008f"/>
<rect x="532.78" y="179.99" width="33.21" height="7.18" fill="#20ffdf"/>
<rect x="565.69" y="179.99" width="11.27" height="7.18" fill="#00008f"/>
<rect x="576.66" y="179.99" width="11.27" height="7.18" fill="#0050ff"/>
<rect x="587.62" y="179.99" width="11.27" height="7.18" fill="#efff10"/>
<rect x="598.59" y="179.99" width="11.27" height="7.18" fill="#20ffdf"/>
<rect x="609.56" y="179.99" width="11.27" height="7.18" fill="#0050ff"/>
<rect x="620.53" y="179.99" width="11.27" height="7.18" fill="#00008f"/>
<rect x="631.5" y="179.99" width="11.27" height="7.18" fill="#0050ff"/>
<rect x="642.47" y="179.99" width="66.11" height="7.18" fill="#20ffdf"/>
<rect x="708.28" y="179.99" width="11.27" height="7.18" fill="#efff10"/>
<rect x="719.25" y="179.99" width="11.27" height="7.18" fill="#20ffdf"/>
<rect x="730.22" y="179.99" width="11.27" height="7.18" fill="#efff10"/>
<rect x="741.19" y="179.99" width="22.24" height="7.18" fill="#ff4000"/>
<rect x="763.12" y="179.99" width="11.27" height="7.18" fill="#efff10"/>
<rect x="774.09" y="179.99" width="11.27" height="7.18" fill="#ff4000"/>
<rect x="785.06" y="179.99" width="11.27" height="7.18" fill="#efff10"/>
<rect x="796.03" y="179.99" width="11.27" height="7.18" fill="#20ffdf"/>
<rect x="456" y="186.88" width="11.27" height="7.18" fill="#20ffdf"/>
<rect x="466.97" y="186.88" width="11.27" height="7.18" fill="#efff10"/>
<rect x="477.94" y="186.88" width="33.21" height="7.18" fill="#0050ff"/>
<rect x="510.84" y="186.88" width="22.24" height="7.18" fill="#efff10"/>
<rect x="532.78" y="186.88" width="22.24" height="7.18" fill="#20ffdf"/>
<rect x="554.72" y="186.88" width="33.21" height="7.18" fill="#efff10"/>
<rect x="587.62" y="186.88" width="11.27" height="7.18" fill="#20ffdf"/>
<rect x="598.59" y="186.88" width="11.27" height="7.18" fill="#efff10"/>
<rect x="609.56" y="186.88" width="11.27" height="7.18" fill="#ff4000"/>
<rect x="620.53" y="186.88" width="22.24" height="7.18" fill="#efff10"/>
<rect x="642.47" y="186.88" width="11.27" height="7.18" fill="#20ffdf"/>
<rect x="653.44" y="186.88" width="22.24" height="7.18" fill="#0050ff"/>
<rect x="675.38" y="186.88" width="11.27" height="7.18" fill="#20ffdf"/>
<rect x="686.34" y="186.88" width="11.27" height="7.18" fill="#efff10"/>
<rect x="697.31" y="186.88" width="11.27" height="7.18" fill="#20ffdf"/>
<rect x="708.28" y="186.88" width="22.24" height="7.18" fill="#0050ff"/>
<rect x="730.22" y="186.88" width="33.21" height="7.18" fill="#00008f"/>
<rect x="763.12" y="186.88" width="11.27" height="7.18" fill="#0050ff"/>
<rect x="774.09" y="186.88" width="11.27" height="7.18" fill="#00008f"/>
<rect x="785.06" y="186.88" width="11.27" height="7.18" fill="#0050ff"/>
<rect x="796.03" y="186.88" width="11.27" height="7.18" fill="#20ffdf"/>
<rect x="456" y="193.76" width="11.27" height="7.18" fill="#20ffdf"/>
<rect x="466.97" y="193.76" width="11.27" height="7.18" fill="#00008f"/>
<rect x="477.94" y="193.76" width="11.27" height="7.18" fill="#0050ff"/>
<rect x="488.91" y="193.76" width="11.27" height="7.18" fill="#00008f"/>
<rect x="499.88" y="193.76" width="11.27" height="7.18" fill="#20ffdf"/>
<rect x="510.84" y="193.76" width="11.27" height="7.18" fill="#00008f"/>
<rect x="521.81" y="193.76" width="11.27" height="7.18" fill="#0050ff"/>
<rect x="532.78" y="193.76" width="22.24" height="7.18" fill="#20ffdf"/>
<rect x="554.72" y="193.76" width="11.27" height="7.18" fill="#00008f"/>
<rect x="565.69" y="193.76" width="11.27" height="7.18" fill="#0050ff"/>
<rect x="576.66" y="193.76" width="44.17" height="7.18" fill="#efff10"/>
<rect x="620.53" y="193.76" width="22.24" height="7.18" fill="#ff4000"/>
<rect x="642.47" y="193.76" width="11.27" height="7.18" fill="#800000"/>
<rect x="653.44" y="193.76" width="22.24" height="7.18" fill="#efff10"/>
<rect x="675.38" y="193.76" width="22.24" height="7.18" fill="#800000"/>
<rect x="697.31" y="193.76" width="11.27" height="7.18" fill="#efff10"/>
<rect x="708.28" y="193.76" width="11.27" height="7.18" fill="#20ffdf"/>
<rect x="719.25" y="193.76" width="11.27" height="7.18" fill="#0050ff"/>
<rect x="730.22" y="193.76" width="11.27" height="7.18" fill="#20ffdf"/>
<rect x="741.19" y="193.76" width="11.27" height="7.18" fill="#800000"/>
<rect x="752.16" y="193.76" width="22.24" height="7.18" fill="#efff10"/>
<rect x="774.09" y="193.76" width="22.24" height="7.18" fill="#ff4000"/>
<rect x="796.03" y="193.76" width="11.27" height="7.18" fill="#efff10"/>
<rect x="456" y="200.65" width="11.27" height="7.18" fill="#efff10"/>
<rect x="466.97" y="200.65" width="11.27" height="7.18" fill="#20ffdf"/>
<rect x="477.94" y="200.65" width="55.14" height="7.18" fill="#efff10"/>
<rect x="532.78" y="200.65" width="11.27" height="7.18" fill="#800000"/>
<rect x="543.75" y="200.65" width="11.27" height="7.18" fill="#ff4000"/>
<rect x="554.72" y="200.65" width="11.27" height="7.18" fill="#efff10"/>
<rect x="565.69" y="200.65" width="22.24" height="7.18" fill="#20ffdf"/>
<rect x="587.62" y="200.65" width="22.24" height="7.18" fill="#efff10"/>
<rect x="609.56" y="200.65" width="22.24" height="7.18" fill="#ff4000"/>
<rect x="631.5" y="200.65" width="11.27" height="7.18" fill="#efff10"/>
<rect x="642.47" y="200.65" width="11.27" height="7.18" fill="#20ffdf"/>
<rect x="653.44" y="200.65" width="11.27" height="7.18" fill="#ff4000"/>
<rect x="664.41" y="200.65" width="11.27" height="7.18" fill="#800000"/>
<rect x="675.38" y="200.65" width="11.27" height="7.18" fill="#ff4000"/>
<rect x="686.34" y="200.65" width="44.17" height="7.18" fill="#efff10"/>
<rect x="730.22" y="200.65" width="11.27" height="7.18" fill="#0050ff"/>
<rect x="741.19" y="200.65" width="11.27" height="7.18" fill="#00008f"/>
<rect x="752.16" y="200.65" width="22.24" height="7.18" fill="#0050ff"/>
<rect x="774.09" y="200.65" width="33.21" height="7.18" fill="#20ffdf"/>
<rect x="456" y="207.53" width="11.27" height="7.18" fill="#0050ff"/>
<rect x="466.97" y="207.53" width="22.24" height="7.18" fill="#00008f"/>
<rect x="488.91" y="207.53" width="11.27" height="7.18" fill="#0050ff"/>
<rect x="499.88" y="207.53" width="11.27" height="7.18" fill="#00008f"/>
<rect x="510.84" y="207.53" width="33.21" height="7.18" fill="#20ffdf"/>
<rect x="543.75" y="207.53" width="11.27" height="7.18" fill="#0050ff"/>
<rect x="554.72" y="207.53" width="11.27" height="7.18" fill="#00008f"/>
<rect x="565.69" y="207.53" width="11.27" height="7.18" fill="#0050ff"/>
<rect x="576.66" y="207.53" width="33.21" height="7.18" fill="#efff10"/>
<rect x="609.56" y="207.53" width="33.21" height="7.18" fill="#ff4000"/>
<rect x="642.47" y="207.53" width="11.27" height="7.18" fill="#800000"/>
<rect x="653.44" y="207.53" width="11.27" height="7.18" fill="#ff4000"/>
<rect x="664.41" y="207.53" width="33.21" height="7.18" fill="#efff10"/>
<rect x="697.31" y="207.53" width="33.21" height="7.18" fill="#20ffdf"/>
<rect x="730.22" y="207.53" width="33.21" height="7.18" fill="#efff10"/>
<rect x="763.12" y="207.53" width="33.21" height="7.18" fill="#ff4000"/>
<rect x="796.03" y="207.53" width="11.27" height="7.18" fill="#efff10"/>
<rect x="456" y="214.42" width="22.24" height="7.18" fill="#efff10"/>
<rect x="477.94" y="214.42" width="11.27" height="7.18" fill="#ff4000"/>
<rect x="488.91" y="214.42" width="11.27" height="7.18" fill="#efff10"/>
<rect x="499.88" y="214.42" width="11.27" height="7.18" fill="#20ffdf"/>
<rect x="510.84" y="214.42" width="11.27" height="7.18" fill="#ff4000"/>
<rect x="521.81" y="214.42" width="33.21" height="7.18" fill="#efff10"/>
<rect x="554.72" y="214.42" width="11.27" height="7.18" fill="#ff4000"/>
<rect x="565.69" y="214.42" width="11.27" height="7.18" fill="#0050ff"/>
<rect x="576.66" y="214.42" width="11.27" height="7.18" fill="#20ffdf"/>
<rect x="587.62" y="214.42" width="11.27" height="7.18" fill="#ff4000"/>
<rect x="598.59" y="214.42" width="22.24" height="7.18" fill="#efff10"/>
<rect x="620.53" y="214.42" width="11.27" height="7.18" fill="#20ffdf"/>
<rect x="631.5" y="214.42" width="11.27" height="7.18" fill="#efff10"/>
<rect x="642.47" y="214.42" width="22.24" height="7.18" fill="#ff4000"/>
<rect x="664.41" y="214.42" width="44.17" height="7.18" fill="#efff10"/>
<rect x="708.28" y="214.42" width="11.27" height="7.18" fill="#20ffdf"/>
<rect x="719.25" y="214.42" width="22.24" height="7.18" fill="#0050ff"/>
<rect x="741.19" y="214.42" width="22.24" height="7.18" fill="#20ffdf"/>
<rect x="763.12" y="214.42" width="11.27" height="7.18" fill="#efff10"/>
<rect x="774.09" y="214.42" width="22.24" height="7.18" fill="#20ffdf"/>
<rect x="796.03" y="214.42" width="11.27" height="7.18" fill="#0050ff"/>
</g>
<g shape-rendering="crispEdges" filter="url(#bl)">
<rect x="240.4" y="347.2" width="11.28" height="7.17" fill="#ff4000"/>
<rect x="251.38" y="347.2" width="99.1" height="7.17" fill="#efff10"/>
<rect x="350.18" y="347.2" width="11.28" height="7.17" fill="#ff4000"/>
<rect x="361.16" y="347.2" width="11.28" height="7.17" fill="#efff10"/>
<rect x="372.14" y="347.2" width="11.28" height="7.17" fill="#ff4000"/>
<rect x="383.12" y="347.2" width="11.28" height="7.17" fill="#20ffdf"/>
<rect x="394.09" y="347.2" width="22.26" height="7.17" fill="#ff4000"/>
<rect x="416.05" y="347.2" width="22.26" height="7.17" fill="#efff10"/>
<rect x="438.01" y="347.2" width="11.28" height="7.17" fill="#ff4000"/>
<rect x="448.98" y="347.2" width="11.28" height="7.17" fill="#efff10"/>
<rect x="459.96" y="347.2" width="11.28" height="7.17" fill="#ff4000"/>
<rect x="470.94" y="347.2" width="11.28" height="7.17" fill="#efff10"/>
<rect x="481.92" y="347.2" width="22.26" height="7.17" fill="#ff4000"/>
<rect x="503.88" y="347.2" width="44.21" height="7.17" fill="#efff10"/>
<rect x="547.79" y="347.2" width="22.26" height="7.17" fill="#20ffdf"/>
<rect x="569.74" y="347.2" width="11.28" height="7.17" fill="#ff4000"/>
<rect x="580.72" y="347.2" width="11.28" height="7.17" fill="#efff10"/>
<rect x="240.4" y="354.07" width="55.19" height="7.17" fill="#efff10"/>
<rect x="295.29" y="354.07" width="11.28" height="7.17" fill="#20ffdf"/>
<rect x="306.27" y="354.07" width="22.26" height="7.17" fill="#efff10"/>
<rect x="328.23" y="354.07" width="55.19" height="7.17" fill="#20ffdf"/>
<rect x="383.12" y="354.07" width="11.28" height="7.17" fill="#0050ff"/>
<rect x="394.09" y="354.07" width="11.28" height="7.17" fill="#00008f"/>
<rect x="405.07" y="354.07" width="33.23" height="7.17" fill="#0050ff"/>
<rect x="438.01" y="354.07" width="11.28" height="7.17" fill="#20ffdf"/>
<rect x="448.98" y="354.07" width="22.26" height="7.17" fill="#efff10"/>
<rect x="470.94" y="354.07" width="11.28" height="7.17" fill="#ff4000"/>
<rect x="481.92" y="354.07" width="11.28" height="7.17" fill="#efff10"/>
<rect x="492.9" y="354.07" width="33.23" height="7.17" fill="#ff4000"/>
<rect x="525.83" y="354.07" width="33.23" height="7.17" fill="#efff10"/>
<rect x="558.77" y="354.07" width="11.28" height="7.17" fill="#20ffdf"/>
<rect x="569.74" y="354.07" width="11.28" height="7.17" fill="#0050ff"/>
<rect x="580.72" y="354.07" width="11.28" height="7.17" fill="#20ffdf"/>
<rect x="240.4" y="360.95" width="11.28" height="7.17" fill="#efff10"/>
<rect x="251.38" y="360.95" width="11.28" height="7.17" fill="#20ffdf"/>
<rect x="262.36" y="360.95" width="11.28" height="7.17" fill="#efff10"/>
<rect x="273.33" y="360.95" width="11.28" height="7.17" fill="#20ffdf"/>
<rect x="284.31" y="360.95" width="22.26" height="7.17" fill="#ff4000"/>
<rect x="306.27" y="360.95" width="11.28" height="7.17" fill="#20ffdf"/>
<rect x="317.25" y="360.95" width="11.28" height="7.17" fill="#ff4000"/>
<rect x="328.23" y="360.95" width="44.21" height="7.17" fill="#efff10"/>
<rect x="372.14" y="360.95" width="11.28" height="7.17" fill="#0050ff"/>
<rect x="383.12" y="360.95" width="11.28" height="7.17" fill="#20ffdf"/>
<rect x="394.09" y="360.95" width="55.19" height="7.17" fill="#ff4000"/>
<rect x="448.98" y="360.95" width="11.28" height="7.17" fill="#efff10"/>
<rect x="459.96" y="360.95" width="11.28" height="7.17" fill="#ff4000"/>
<rect x="470.94" y="360.95" width="11.28" height="7.17" fill="#efff10"/>
<rect x="481.92" y="360.95" width="11.28" height="7.17" fill="#ff4000"/>
<rect x="492.9" y="360.95" width="11.28" height="7.17" fill="#efff10"/>
<rect x="503.88" y="360.95" width="33.23" height="7.17" fill="#ff4000"/>
<rect x="536.81" y="360.95" width="33.23" height="7.17" fill="#efff10"/>
<rect x="569.74" y="360.95" width="11.28" height="7.17" fill="#ff4000"/>
<rect x="580.72" y="360.95" width="11.28" height="7.17" fill="#efff10"/>
<rect x="240.4" y="367.82" width="22.26" height="7.17" fill="#efff10"/>
<rect x="262.36" y="367.82" width="22.26" height="7.17" fill="#ff4000"/>
<rect x="284.31" y="367.82" width="11.28" height="7.17" fill="#20ffdf"/>
<rect x="295.29" y="367.82" width="11.28" height="7.17" fill="#efff10"/>
<rect x="306.27" y="367.82" width="33.23" height="7.17" fill="#20ffdf"/>
<rect x="339.2" y="367.82" width="33.23" height="7.17" fill="#efff10"/>
<rect x="372.14" y="367.82" width="11.28" height="7.17" fill="#20ffdf"/>
<rect x="383.12" y="367.82" width="11.28" height="7.17" fill="#00008f"/>
<rect x="394.09" y="367.82" width="33.23" height="7.17" fill="#0050ff"/>
<rect x="427.03" y="367.82" width="11.28" height="7.17" fill="#20ffdf"/>
<rect x="438.01" y="367.82" width="33.23" height="7.17" fill="#efff10"/>
<rect x="470.94" y="367.82" width="33.23" height="7.17" fill="#ff4000"/>
<rect x="503.88" y="367.82" width="55.19" height="7.17" fill="#efff10"/>
<rect x="558.77" y="367.82" width="11.28" height="7.17" fill="#20ffdf"/>
<rect x="569.74" y="367.82" width="11.28" height="7.17" fill="#0050ff"/>
<rect x="580.72" y="367.82" width="11.28" height="7.17" fill="#efff10"/>
<rect x="240.4" y="374.7" width="11.28" height="7.17" fill="#efff10"/>
<rect x="251.38" y="374.7" width="11.28" height="7.17" fill="#20ffdf"/>
<rect x="262.36" y="374.7" width="11.28" height="7.17" fill="#efff10"/>
<rect x="273.33" y="374.7" width="11.28" height="7.17" fill="#ff4000"/>
<rect x="284.31" y="374.7" width="11.28" height="7.17" fill="#efff10"/>
<rect x="295.29" y="374.7" width="22.26" height="7.17" fill="#ff4000"/>
<rect x="317.25" y="374.7" width="11.28" height="7.17" fill="#efff10"/>
<rect x="328.23" y="374.7" width="22.26" height="7.17" fill="#20ffdf"/>
<rect x="350.18" y="374.7" width="11.28" height="7.17" fill="#efff10"/>
<rect x="361.16" y="374.7" width="22.26" height="7.17" fill="#0050ff"/>
<rect x="383.12" y="374.7" width="11.28" height="7.17" fill="#00008f"/>
<rect x="394.09" y="374.7" width="22.26" height="7.17" fill="#ff4000"/>
<rect x="416.05" y="374.7" width="11.28" height="7.17" fill="#efff10"/>
<rect x="427.03" y="374.7" width="11.28" height="7.17" fill="#ff4000"/>
<rect x="438.01" y="374.7" width="22.26" height="7.17" fill="#efff10"/>
<rect x="459.96" y="374.7" width="11.28" height="7.17" fill="#ff4000"/>
<rect x="470.94" y="374.7" width="44.21" height="7.17" fill="#efff10"/>
<rect x="514.85" y="374.7" width="11.28" height="7.17" fill="#ff4000"/>
<rect x="525.83" y="374.7" width="22.26" height="7.17" fill="#efff10"/>
<rect x="547.79" y="374.7" width="11.28" height="7.17" fill="#20ffdf"/>
<rect x="558.77" y="374.7" width="22.26" height="7.17" fill="#ff4000"/>
<rect x="580.72" y="374.7" width="11.28" height="7.17" fill="#efff10"/>
<rect x="240.4" y="381.57" width="22.26" height="7.17" fill="#efff10"/>
<rect x="262.36" y="381.57" width="22.26" height="7.17" fill="#ff4000"/>
<rect x="284.31" y="381.57" width="33.23" height="7.17" fill="#efff10"/>
<rect x="317.25" y="381.57" width="11.28" height="7.17" fill="#ff4000"/>
<rect x="328.23" y="381.57" width="11.28" height="7.17" fill="#20ffdf"/>
<rect x="339.2" y="381.57" width="11.28" height="7.17" fill="#ff4000"/>
<rect x="350.18" y="381.57" width="33.23" height="7.17" fill="#20ffdf"/>
<rect x="383.12" y="381.57" width="22.26" height="7.17" fill="#0050ff"/>
<rect x="405.07" y="381.57" width="22.26" height="7.17" fill="#20ffdf"/>
<rect x="427.03" y="381.57" width="11.28" height="7.17" fill="#efff10"/>
<rect x="438.01" y="381.57" width="11.28" height="7.17" fill="#20ffdf"/>
<rect x="448.98" y="381.57" width="11.28" height="7.17" fill="#ff4000"/>
<rect x="459.96" y="381.57" width="22.26" height="7.17" fill="#efff10"/>
<rect x="481.92" y="381.57" width="11.28" height="7.17" fill="#800000"/>
<rect x="492.9" y="381.57" width="11.28" height="7.17" fill="#ff4000"/>
<rect x="503.88" y="381.57" width="33.23" height="7.17" fill="#efff10"/>
<rect x="536.81" y="381.57" width="11.28" height="7.17" fill="#20ffdf"/>
<rect x="547.79" y="381.57" width="11.28" height="7.17" fill="#efff10"/>
<rect x="558.77" y="381.57" width="11.28" height="7.17" fill="#ff4000"/>
<rect x="569.74" y="381.57" width="11.28" height="7.17" fill="#20ffdf"/>
<rect x="580.72" y="381.57" width="11.28" height="7.17" fill="#efff10"/>
<rect x="240.4" y="388.45" width="11.28" height="7.17" fill="#efff10"/>
<rect x="251.38" y="388.45" width="11.28" height="7.17" fill="#ff4000"/>
<rect x="262.36" y="388.45" width="22.26" height="7.17" fill="#efff10"/>
<rect x="284.31" y="388.45" width="22.26" height="7.17" fill="#ff4000"/>
<rect x="306.27" y="388.45" width="22.26" height="7.17" fill="#efff10"/>
<rect x="328.23" y="388.45" width="11.28" height="7.17" fill="#20ffdf"/>
<rect x="339.2" y="388.45" width="11.28" height="7.17" fill="#efff10"/>
<rect x="350.18" y="388.45" width="11.28" height="7.17" fill="#20ffdf"/>
<rect x="361.16" y="388.45" width="11.28" height="7.17" fill="#0050ff"/>
<rect x="372.14" y="388.45" width="11.28" height="7.17" fill="#00008f"/>
<rect x="383.12" y="388.45" width="11.28" height="7.17" fill="#20ffdf"/>
<rect x="394.09" y="388.45" width="22.26" height="7.17" fill="#efff10"/>
<rect x="416.05" y="388.45" width="22.26" height="7.17" fill="#ff4000"/>
<rect x="438.01" y="388.45" width="11.28" height="7.17" fill="#efff10"/>
<rect x="448.98" y="388.45" width="11.28" height="7.17" fill="#ff4000"/>
<rect x="459.96" y="388.45" width="22.26" height="7.17" fill="#efff10"/>
<rect x="481.92" y="388.45" width="22.26" height="7.17" fill="#ff4000"/>
<rect x="503.88" y="388.45" width="11.28" height="7.17" fill="#efff10"/>
<rect x="514.85" y="388.45" width="55.19" height="7.17" fill="#ff4000"/>
<rect x="569.74" y="388.45" width="11.28" height="7.17" fill="#efff10"/>
<rect x="580.72" y="388.45" width="11.28" height="7.17" fill="#ff4000"/>
<rect x="240.4" y="395.32" width="11.28" height="7.17" fill="#ff4000"/>
<rect x="251.38" y="395.32" width="11.28" height="7.17" fill="#800000"/>
<rect x="262.36" y="395.32" width="11.28" height="7.17" fill="#efff10"/>
<rect x="273.33" y="395.32" width="11.28" height="7.17" fill="#ff4000"/>
<rect x="284.31" y="395.32" width="33.23" height="7.17" fill="#efff10"/>
<rect x="317.25" y="395.32" width="11.28" height="7.17" fill="#20ffdf"/>
<rect x="328.23" y="395.32" width="11.28" height="7.17" fill="#efff10"/>
<rect x="339.2" y="395.32" width="11.28" height="7.17" fill="#ff4000"/>
<rect x="350.18" y="395.32" width="11.28" height="7.17" fill="#0050ff"/>
<rect x="361.16" y="395.32" width="33.23" height="7.17" fill="#20ffdf"/>
<rect x="394.09" y="395.32" width="22.26" height="7.17" fill="#efff10"/>
<rect x="416.05" y="395.32" width="11.28" height="7.17" fill="#0050ff"/>
<rect x="427.03" y="395.32" width="11.28" height="7.17" fill="#20ffdf"/>
<rect x="438.01" y="395.32" width="11.28" height="7.17" fill="#ff4000"/>
<rect x="448.98" y="395.32" width="11.28" height="7.17" fill="#20ffdf"/>
<rect x="459.96" y="395.32" width="11.28" height="7.17" fill="#efff10"/>
<rect x="470.94" y="395.32" width="22.26" height="7.17" fill="#ff4000"/>
<rect x="492.9" y="395.32" width="22.26" height="7.17" fill="#efff10"/>
<rect x="514.85" y="395.32" width="22.26" height="7.17" fill="#20ffdf"/>
<rect x="536.81" y="395.32" width="22.26" height="7.17" fill="#efff10"/>
<rect x="558.77" y="395.32" width="11.28" height="7.17" fill="#ff4000"/>
<rect x="569.74" y="395.32" width="22.26" height="7.17" fill="#efff10"/>
<rect x="240.4" y="402.2" width="11.28" height="7.17" fill="#efff10"/>
<rect x="251.38" y="402.2" width="11.28" height="7.17" fill="#20ffdf"/>
<rect x="262.36" y="402.2" width="22.26" height="7.17" fill="#efff10"/>
<rect x="284.31" y="402.2" width="11.28" height="7.17" fill="#ff4000"/>
<rect x="295.29" y="402.2" width="33.23" height="7.17" fill="#20ffdf"/>
<rect x="328.23" y="402.2" width="11.28" height="7.17" fill="#efff10"/>
<rect x="339.2" y="402.2" width="11.28" height="7.17" fill="#20ffdf"/>
<rect x="350.18" y="402.2" width="44.21" height="7.17" fill="#0050ff"/>
<rect x="394.09" y="402.2" width="11.28" height="7.17" fill="#ff4000"/>
<rect x="405.07" y="402.2" width="22.26" height="7.17" fill="#efff10"/>
<rect x="427.03" y="402.2" width="11.28" height="7.17" fill="#ff4000"/>
<rect x="438.01" y="402.2" width="11.28" height="7.17" fill="#efff10"/>
<rect x="448.98" y="402.2" width="22.26" height="7.17" fill="#ff4000"/>
<rect x="470.94" y="402.2" width="22.26" height="7.17" fill="#efff10"/>
<rect x="492.9" y="402.2" width="11.28" height="7.17" fill="#ff4000"/>
<rect x="503.88" y="402.2" width="11.28" height="7.17" fill="#20ffdf"/>
<rect x="514.85" y="402.2" width="11.28" height="7.17" fill="#efff10"/>
<rect x="525.83" y="402.2" width="22.26" height="7.17" fill="#ff4000"/>
<rect x="547.79" y="402.2" width="11.28" height="7.17" fill="#efff10"/>
<rect x="558.77" y="402.2" width="11.28" height="7.17" fill="#ff4000"/>
<rect x="569.74" y="402.2" width="11.28" height="7.17" fill="#efff10"/>
<rect x="580.72" y="402.2" width="11.28" height="7.17" fill="#ff4000"/>
<rect x="240.4" y="409.07" width="11.28" height="7.17" fill="#efff10"/>
<rect x="251.38" y="409.07" width="22.26" height="7.17" fill="#ff4000"/>
<rect x="273.33" y="409.07" width="22.26" height="7.17" fill="#efff10"/>
<rect x="295.29" y="409.07" width="22.26" height="7.17" fill="#ff4000"/>
<rect x="317.25" y="409.07" width="11.28" height="7.17" fill="#0050ff"/>
<rect x="328.23" y="409.07" width="22.26" height="7.17" fill="#20ffdf"/>
<rect x="350.18" y="409.07" width="66.17" height="7.17" fill="#efff10"/>
<rect x="416.05" y="409.07" width="11.28" height="7.17" fill="#0050ff"/>
<rect x="427.03" y="409.07" width="22.26" height="7.17" fill="#ff4000"/>
<rect x="448.98" y="409.07" width="44.21" height="7.17" fill="#efff10"/>
<rect x="492.9" y="409.07" width="11.28" height="7.17" fill="#20ffdf"/>
<rect x="503.88" y="409.07" width="11.28" height="7.17" fill="#0050ff"/>
<rect x="514.85" y="409.07" width="11.28" height="7.17" fill="#20ffdf"/>
<rect x="525.83" y="409.07" width="11.28" height="7.17" fill="#efff10"/>
<rect x="536.81" y="409.07" width="11.28" height="7.17" fill="#ff4000"/>
<rect x="547.79" y="409.07" width="22.26" height="7.17" fill="#efff10"/>
<rect x="569.74" y="409.07" width="11.28" height="7.17" fill="#ff4000"/>
<rect x="580.72" y="409.07" width="11.28" height="7.17" fill="#efff10"/>
<rect x="240.4" y="415.95" width="11.28" height="7.17" fill="#efff10"/>
<rect x="251.38" y="415.95" width="11.28" height="7.17" fill="#ff4000"/>
<rect x="262.36" y="415.95" width="44.21" height="7.17" fill="#efff10"/>
<rect x="306.27" y="415.95" width="33.23" height="7.17" fill="#20ffdf"/>
<rect x="339.2" y="415.95" width="22.26" height="7.17" fill="#0050ff"/>
<rect x="361.16" y="415.95" width="11.28" height="7.17" fill="#efff10"/>
<rect x="372.14" y="415.95" width="22.26" height="7.17" fill="#20ffdf"/>
<rect x="394.09" y="415.95" width="22.26" height="7.17" fill="#efff10"/>
<rect x="416.05" y="415.95" width="11.28" height="7.17" fill="#ff4000"/>
<rect x="427.03" y="415.95" width="22.26" height="7.17" fill="#efff10"/>
<rect x="448.98" y="415.95" width="22.26" height="7.17" fill="#ff4000"/>
<rect x="470.94" y="415.95" width="11.28" height="7.17" fill="#efff10"/>
<rect x="481.92" y="415.95" width="22.26" height="7.17" fill="#ff4000"/>
<rect x="503.88" y="415.95" width="11.28" height="7.17" fill="#efff10"/>
<rect x="514.85" y="415.95" width="22.26" height="7.17" fill="#ff4000"/>
<rect x="536.81" y="415.95" width="11.28" height="7.17" fill="#efff10"/>
<rect x="547.79" y="415.95" width="22.26" height="7.17" fill="#ff4000"/>
<rect x="569.74" y="415.95" width="22.26" height="7.17" fill="#efff10"/>
<rect x="240.4" y="422.82" width="11.28" height="7.17" fill="#efff10"/>
<rect x="251.38" y="422.82" width="11.28" height="7.17" fill="#ff4000"/>
<rect x="262.36" y="422.82" width="22.26" height="7.17" fill="#efff10"/>
<rect x="284.31" y="422.82" width="22.26" height="7.17" fill="#ff4000"/>
<rect x="306.27" y="422.82" width="11.28" height="7.17" fill="#20ffdf"/>
<rect x="317.25" y="422.82" width="11.28" height="7.17" fill="#efff10"/>
<rect x="328.23" y="422.82" width="33.23" height="7.17" fill="#20ffdf"/>
<rect x="361.16" y="422.82" width="44.21" height="7.17" fill="#efff10"/>
<rect x="405.07" y="422.82" width="11.28" height="7.17" fill="#0050ff"/>
<rect x="416.05" y="422.82" width="22.26" height="7.17" fill="#efff10"/>
<rect x="438.01" y="422.82" width="11.28" height="7.17" fill="#20ffdf"/>
<rect x="448.98" y="422.82" width="22.26" height="7.17" fill="#0050ff"/>
<rect x="470.94" y="422.82" width="11.28" height="7.17" fill="#efff10"/>
<rect x="481.92" y="422.82" width="11.28" height="7.17" fill="#20ffdf"/>
<rect x="492.9" y="422.82" width="11.28" height="7.17" fill="#00008f"/>
<rect x="503.88" y="422.82" width="22.26" height="7.17" fill="#0050ff"/>
<rect x="525.83" y="422.82" width="11.28" height="7.17" fill="#ff4000"/>
<rect x="536.81" y="422.82" width="22.26" height="7.17" fill="#efff10"/>
<rect x="558.77" y="422.82" width="11.28" height="7.17" fill="#ff4000"/>
<rect x="569.74" y="422.82" width="22.26" height="7.17" fill="#efff10"/>
<rect x="240.4" y="429.7" width="11.28" height="7.17" fill="#20ffdf"/>
<rect x="251.38" y="429.7" width="11.28" height="7.17" fill="#efff10"/>
<rect x="262.36" y="429.7" width="22.26" height="7.17" fill="#ff4000"/>
<rect x="284.31" y="429.7" width="11.28" height="7.17" fill="#20ffdf"/>
<rect x="295.29" y="429.7" width="11.28" height="7.17" fill="#efff10"/>
<rect x="306.27" y="429.7" width="11.28" height="7.17" fill="#20ffdf"/>
<rect x="317.25" y="429.7" width="11.28" height="7.17" fill="#efff10"/>
<rect x="328.23" y="429.7" width="22.26" height="7.17" fill="#0050ff"/>
<rect x="350.18" y="429.7" width="11.28" height="7.17" fill="#efff10"/>
<rect x="361.16" y="429.7" width="22.26" height="7.17" fill="#20ffdf"/>
<rect x="383.12" y="429.7" width="33.23" height="7.17" fill="#efff10"/>
<rect x="416.05" y="429.7" width="11.28" height="7.17" fill="#20ffdf"/>
<rect x="427.03" y="429.7" width="77.15" height="7.17" fill="#efff10"/>
<rect x="503.88" y="429.7" width="11.28" height="7.17" fill="#ff4000"/>
<rect x="514.85" y="429.7" width="11.28" height="7.17" fill="#efff10"/>
<rect x="525.83" y="429.7" width="11.28" height="7.17" fill="#20ffdf"/>
<rect x="536.81" y="429.7" width="11.28" height="7.17" fill="#ff4000"/>
<rect x="547.79" y="429.7" width="33.23" height="7.17" fill="#efff10"/>
<rect x="580.72" y="429.7" width="11.28" height="7.17" fill="#ff4000"/>
<rect x="240.4" y="436.57" width="11.28" height="7.17" fill="#ff4000"/>
<rect x="251.38" y="436.57" width="33.23" height="7.17" fill="#efff10"/>
<rect x="284.31" y="436.57" width="66.17" height="7.17" fill="#20ffdf"/>
<rect x="350.18" y="436.57" width="22.26" height="7.17" fill="#efff10"/>
<rect x="372.14" y="436.57" width="11.28" height="7.17" fill="#20ffdf"/>
<rect x="383.12" y="436.57" width="11.28" height="7.17" fill="#efff10"/>
<rect x="394.09" y="436.57" width="11.28" height="7.17" fill="#20ffdf"/>
<rect x="405.07" y="436.57" width="11.28" height="7.17" fill="#0050ff"/>
<rect x="416.05" y="436.57" width="33.23" height="7.17" fill="#20ffdf"/>
<rect x="448.98" y="436.57" width="11.28" height="7.17" fill="#00008f"/>
<rect x="459.96" y="436.57" width="22.26" height="7.17" fill="#20ffdf"/>
<rect x="481.92" y="436.57" width="11.28" height="7.17" fill="#00008f"/>
<rect x="492.9" y="436.57" width="11.28" height="7.17" fill="#0050ff"/>
<rect x="503.88" y="436.57" width="11.28" height="7.17" fill="#20ffdf"/>
<rect x="514.85" y="436.57" width="11.28" height="7.17" fill="#800000"/>
<rect x="525.83" y="436.57" width="11.28" height="7.17" fill="#ff4000"/>
<rect x="536.81" y="436.57" width="11.28" height="7.17" fill="#800000"/>
<rect x="547.79" y="436.57" width="11.28" height="7.17" fill="#efff10"/>
<rect x="558.77" y="436.57" width="11.28" height="7.17" fill="#ff4000"/>
<rect x="569.74" y="436.57" width="22.26" height="7.17" fill="#20ffdf"/>
<rect x="240.4" y="443.45" width="22.26" height="7.17" fill="#efff10"/>
<rect x="262.36" y="443.45" width="44.21" height="7.17" fill="#20ffdf"/>
<rect x="306.27" y="443.45" width="11.28" height="7.17" fill="#efff10"/>
<rect x="317.25" y="443.45" width="11.28" height="7.17" fill="#0050ff"/>
<rect x="328.23" y="443.45" width="22.26" height="7.17" fill="#00008f"/>
<rect x="350.18" y="443.45" width="11.28" height="7.17" fill="#20ffdf"/>
<rect x="361.16" y="443.45" width="11.28" height="7.17" fill="#0050ff"/>
<rect x="372.14" y="443.45" width="22.26" height="7.17" fill="#00008f"/>
<rect x="394.09" y="443.45" width="44.21" height="7.17" fill="#20ffdf"/>
<rect x="438.01" y="443.45" width="22.26" height="7.17" fill="#0050ff"/>
<rect x="459.96" y="443.45" width="11.28" height="7.17" fill="#ff4000"/>
<rect x="470.94" y="443.45" width="44.21" height="7.17" fill="#efff10"/>
<rect x="514.85" y="443.45" width="11.28" height="7.17" fill="#20ffdf"/>
<rect x="525.83" y="443.45" width="11.28" height="7.17" fill="#efff10"/>
<rect x="536.81" y="443.45" width="11.28" height="7.17" fill="#800000"/>
<rect x="547.79" y="443.45" width="22.26" height="7.17" fill="#efff10"/>
<rect x="569.74" y="443.45" width="11.28" height="7.17" fill="#ff4000"/>
<rect x="580.72" y="443.45" width="11.28" height="7.17" fill="#efff10"/>
<rect x="240.4" y="450.32" width="11.28" height="7.17" fill="#efff10"/>
<rect x="251.38" y="450.32" width="11.28" height="7.17" fill="#20ffdf"/>
<rect x="262.36" y="450.32" width="11.28" height="7.17" fill="#00008f"/>
<rect x="273.33" y="450.32" width="11.28" height="7.17" fill="#0050ff"/>
<rect x="284.31" y="450.32" width="11.28" height="7.17" fill="#20ffdf"/>
<rect x="295.29" y="450.32" width="11.28" height="7.17" fill="#0050ff"/>
<rect x="306.27" y="450.32" width="33.23" height="7.17" fill="#20ffdf"/>
<rect x="339.2" y="450.32" width="11.28" height="7.17" fill="#efff10"/>
<rect x="350.18" y="450.32" width="11.28" height="7.17" fill="#20ffdf"/>
<rect x="361.16" y="450.32" width="11.28" height="7.17" fill="#efff10"/>
<rect x="372.14" y="450.32" width="11.28" height="7.17" fill="#20ffdf"/>
<rect x="383.12" y="450.32" width="11.28" height="7.17" fill="#efff10"/>
<rect x="394.09" y="450.32" width="22.26" height="7.17" fill="#0050ff"/>
<rect x="416.05" y="450.32" width="22.26" height="7.17" fill="#20ffdf"/>
<rect x="438.01" y="450.32" width="11.28" height="7.17" fill="#00008f"/>
<rect x="448.98" y="450.32" width="22.26" height="7.17" fill="#0050ff"/>
<rect x="470.94" y="450.32" width="11.28" height="7.17" fill="#20ffdf"/>
<rect x="481.92" y="450.32" width="11.28" height="7.17" fill="#0050ff"/>
<rect x="492.9" y="450.32" width="11.28" height="7.17" fill="#20ffdf"/>
<rect x="503.88" y="450.32" width="33.23" height="7.17" fill="#efff10"/>
<rect x="536.81" y="450.32" width="22.26" height="7.17" fill="#ff4000"/>
<rect x="558.77" y="450.32" width="33.23" height="7.17" fill="#20ffdf"/>
<rect x="240.4" y="457.2" width="11.28" height="7.17" fill="#efff10"/>
<rect x="251.38" y="457.2" width="11.28" height="7.17" fill="#20ffdf"/>
<rect x="262.36" y="457.2" width="11.28" height="7.17" fill="#0050ff"/>
<rect x="273.33" y="457.2" width="22.26" height="7.17" fill="#20ffdf"/>
<rect x="295.29" y="457.2" width="11.28" height="7.17" fill="#efff10"/>
<rect x="306.27" y="457.2" width="55.19" height="7.17" fill="#0050ff"/>
<rect x="361.16" y="457.2" width="11.28" height="7.17" fill="#00008f"/>
<rect x="372.14" y="457.2" width="11.28" height="7.17" fill="#20ffdf"/>
<rect x="383.12" y="457.2" width="11.28" height="7.17" fill="#00008f"/>
<rect x="394.09" y="457.2" width="11.28" height="7.17" fill="#20ffdf"/>
<rect x="405.07" y="457.2" width="11.28" height="7.17" fill="#0050ff"/>
<rect x="416.05" y="457.2" width="11.28" height="7.17" fill="#00008f"/>
<rect x="427.03" y="457.2" width="11.28" height="7.17" fill="#0050ff"/>
<rect x="438.01" y="457.2" width="11.28" height="7.17" fill="#20ffdf"/>
<rect x="448.98" y="457.2" width="33.23" height="7.17" fill="#efff10"/>
<rect x="481.92" y="457.2" width="33.23" height="7.17" fill="#20ffdf"/>
<rect x="514.85" y="457.2" width="11.28" height="7.17" fill="#efff10"/>
<rect x="525.83" y="457.2" width="22.26" height="7.17" fill="#ff4000"/>
<rect x="547.79" y="457.2" width="22.26" height="7.17" fill="#efff10"/>
<rect x="569.74" y="457.2" width="11.28" height="7.17" fill="#ff4000"/>
<rect x="580.72" y="457.2" width="11.28" height="7.17" fill="#efff10"/>
<rect x="240.4" y="464.07" width="11.28" height="7.17" fill="#0050ff"/>
<rect x="251.38" y="464.07" width="22.26" height="7.17" fill="#20ffdf"/>
<rect x="273.33" y="464.07" width="11.28" height="7.17" fill="#00008f"/>
<rect x="284.31" y="464.07" width="22.26" height="7.17" fill="#0050ff"/>
<rect x="306.27" y="464.07" width="22.26" height="7.17" fill="#20ffdf"/>
<rect x="328.23" y="464.07" width="33.23" height="7.17" fill="#efff10"/>
<rect x="361.16" y="464.07" width="22.26" height="7.17" fill="#20ffdf"/>
<rect x="383.12" y="464.07" width="33.23" height="7.17" fill="#0050ff"/>
<rect x="416.05" y="464.07" width="22.26" height="7.17" fill="#20ffdf"/>
<rect x="438.01" y="464.07" width="11.28" height="7.17" fill="#0050ff"/>
<rect x="448.98" y="464.07" width="11.28" height="7.17" fill="#00008f"/>
<rect x="459.96" y="464.07" width="11.28" height="7.17" fill="#20ffdf"/>
<rect x="470.94" y="464.07" width="11.28" height="7.17" fill="#0050ff"/>
<rect x="481.92" y="464.07" width="11.28" height="7.17" fill="#20ffdf"/>
<rect x="492.9" y="464.07" width="22.26" height="7.17" fill="#efff10"/>
<rect x="514.85" y="464.07" width="11.28" height="7.17" fill="#800000"/>
<rect x="525.83" y="464.07" width="11.28" height="7.17" fill="#ff4000"/>
<rect x="536.81" y="464.07" width="22.26" height="7.17" fill="#efff10"/>
<rect x="558.77" y="464.07" width="11.28" height="7.17" fill="#0050ff"/>
<rect x="569.74" y="464.07" width="11.28" height="7.17" fill="#20ffdf"/>
<rect x="580.72" y="464.07" width="11.28" height="7.17" fill="#efff10"/>
<rect x="240.4" y="470.95" width="11.28" height="7.17" fill="#efff10"/>
<rect x="251.38" y="470.95" width="33.23" height="7.17" fill="#20ffdf"/>
<rect x="284.31" y="470.95" width="11.28" height="7.17" fill="#efff10"/>
<rect x="295.29" y="470.95" width="11.28" height="7.17" fill="#20ffdf"/>
<rect x="306.27" y="470.95" width="11.28" height="7.17" fill="#efff10"/>
<rect x="317.25" y="470.95" width="33.23" height="7.17" fill="#20ffdf"/>
<rect x="350.18" y="470.95" width="22.26" height="7.17" fill="#00008f"/>
<rect x="372.14" y="470.95" width="11.28" height="7.17" fill="#20ffdf"/>
<rect x="383.12" y="470.95" width="11.28" height="7.17" fill="#efff10"/>
<rect x="394.09" y="470.95" width="11.28" height="7.17" fill="#20ffdf"/>
<rect x="405.07" y="470.95" width="33.23" height="7.17" fill="#0050ff"/>
<rect x="438.01" y="470.95" width="11.28" height="7.17" fill="#20ffdf"/>
<rect x="448.98" y="470.95" width="11.28" height="7.17" fill="#ff4000"/>
<rect x="459.96" y="470.95" width="11.28" height="7.17" fill="#efff10"/>
<rect x="470.94" y="470.95" width="33.23" height="7.17" fill="#20ffdf"/>
<rect x="503.88" y="470.95" width="33.23" height="7.17" fill="#ff4000"/>
<rect x="536.81" y="470.95" width="22.26" height="7.17" fill="#efff10"/>
<rect x="558.77" y="470.95" width="11.28" height="7.17" fill="#ff4000"/>
<rect x="569.74" y="470.95" width="11.28" height="7.17" fill="#20ffdf"/>
<rect x="580.72" y="470.95" width="11.28" height="7.17" fill="#0050ff"/>
<rect x="240.4" y="477.82" width="22.26" height="7.17" fill="#efff10"/>
<rect x="262.36" y="477.82" width="22.26" height="7.17" fill="#20ffdf"/>
<rect x="284.31" y="477.82" width="11.28" height="7.17" fill="#efff10"/>
<rect x="295.29" y="477.82" width="22.26" height="7.17" fill="#20ffdf"/>
<rect x="317.25" y="477.82" width="22.26" height="7.17" fill="#efff10"/>
<rect x="339.2" y="477.82" width="11.28" height="7.17" fill="#ff4000"/>
<rect x="350.18" y="477.82" width="11.28" height="7.17" fill="#efff10"/>
<rect x="361.16" y="477.82" width="11.28" height="7.17" fill="#20ffdf"/>
<rect x="372.14" y="477.82" width="22.26" height="7.17" fill="#0050ff"/>
<rect x="394.09" y="477.82" width="11.28" height="7.17" fill="#00008f"/>
<rect x="405.07" y="477.82" width="44.21" height="7.17" fill="#0050ff"/>
<rect x="448.98" y="477.82" width="22.26" height="7.17" fill="#00008f"/>
<rect x="470.94" y="477.82" width="11.28" height="7.17" fill="#0050ff"/>
<rect x="481.92" y="477.82" width="22.26" height="7.17" fill="#20ffdf"/>
<rect x="503.88" y="477.82" width="11.28" height="7.17" fill="#ff4000"/>
<rect x="514.85" y="477.82" width="11.28" height="7.17" fill="#efff10"/>
<rect x="525.83" y="477.82" width="11.28" height="7.17" fill="#ff4000"/>
<rect x="536.81" y="477.82" width="33.23" height="7.17" fill="#20ffdf"/>
<rect x="569.74" y="477.82" width="11.28" height="7.17" fill="#efff10"/>
<rect x="580.72" y="477.82" width="11.28" height="7.17" fill="#20ffdf"/>
<rect x="240.4" y="484.7" width="11.28" height="7.17" fill="#20ffdf"/>
<rect x="251.38" y="484.7" width="22.26" height="7.17" fill="#0050ff"/>
<rect x="273.33" y="484.7" width="22.26" height="7.17" fill="#efff10"/>
<rect x="295.29" y="484.7" width="11.28" height="7.17" fill="#ff4000"/>
<rect x="306.27" y="484.7" width="11.28" height="7.17" fill="#efff10"/>
<rect x="317.25" y="484.7" width="11.28" height="7.17" fill="#20ffdf"/>
<rect x="328.23" y="484.7" width="33.23" height="7.17" fill="#0050ff"/>
<rect x="361.16" y="484.7" width="11.28" height="7.17" fill="#00008f"/>
<rect x="372.14" y="484.7" width="33.23" height="7.17" fill="#20ffdf"/>
<rect x="405.07" y="484.7" width="22.26" height="7.17" fill="#00008f"/>
<rect x="427.03" y="484.7" width="11.28" height="7.17" fill="#efff10"/>
<rect x="438.01" y="484.7" width="22.26" height="7.17" fill="#ff4000"/>
<rect x="459.96" y="484.7" width="11.28" height="7.17" fill="#efff10"/>
<rect x="470.94" y="484.7" width="22.26" height="7.17" fill="#20ffdf"/>
<rect x="492.9" y="484.7" width="11.28" height="7.17" fill="#efff10"/>
<rect x="503.88" y="484.7" width="33.23" height="7.17" fill="#ff4000"/>
<rect x="536.81" y="484.7" width="11.28" height="7.17" fill="#efff10"/>
<rect x="547.79" y="484.7" width="11.28" height="7.17" fill="#ff4000"/>
<rect x="558.77" y="484.7" width="11.28" height="7.17" fill="#20ffdf"/>
<rect x="569.74" y="484.7" width="22.26" height="7.17" fill="#0050ff"/>
<rect x="240.4" y="491.57" width="11.28" height="7.17" fill="#00008f"/>
<rect x="251.38" y="491.57" width="11.28" height="7.17" fill="#20ffdf"/>
<rect x="262.36" y="491.57" width="11.28" height="7.17" fill="#0050ff"/>
<rect x="273.33" y="491.57" width="11.28" height="7.17" fill="#ff4000"/>
<rect x="284.31" y="491.57" width="22.26" height="7.17" fill="#efff10"/>
<rect x="306.27" y="491.57" width="22.26" height="7.17" fill="#20ffdf"/>
<rect x="328.23" y="491.57" width="11.28" height="7.17" fill="#efff10"/>
<rect x="339.2" y="491.57" width="11.28" height="7.17" fill="#20ffdf"/>
<rect x="350.18" y="491.57" width="11.28" height="7.17" fill="#0050ff"/>
<rect x="361.16" y="491.57" width="22.26" height="7.17" fill="#00008f"/>
<rect x="383.12" y="491.57" width="22.26" height="7.17" fill="#0050ff"/>
<rect x="405.07" y="491.57" width="22.26" height="7.17" fill="#00008f"/>
<rect x="427.03" y="491.57" width="11.28" height="7.17" fill="#0050ff"/>
<rect x="438.01" y="491.57" width="11.28" height="7.17" fill="#00008f"/>
<rect x="448.98" y="491.57" width="11.28" height="7.17" fill="#efff10"/>
<rect x="459.96" y="491.57" width="11.28" height="7.17" fill="#00008f"/>
<rect x="470.94" y="491.57" width="22.26" height="7.17" fill="#0050ff"/>
<rect x="492.9" y="491.57" width="22.26" height="7.17" fill="#efff10"/>
<rect x="514.85" y="491.57" width="11.28" height="7.17" fill="#ff4000"/>
<rect x="525.83" y="491.57" width="55.19" height="7.17" fill="#20ffdf"/>
<rect x="580.72" y="491.57" width="11.28" height="7.17" fill="#efff10"/>
<rect x="240.4" y="498.45" width="11.28" height="7.17" fill="#20ffdf"/>
<rect x="251.38" y="498.45" width="11.28" height="7.17" fill="#0050ff"/>
<rect x="262.36" y="498.45" width="22.26" height="7.17" fill="#efff10"/>
<rect x="284.31" y="498.45" width="11.28" height="7.17" fill="#ff4000"/>
<rect x="295.29" y="498.45" width="11.28" height="7.17" fill="#efff10"/>
<rect x="306.27" y="498.45" width="11.28" height="7.17" fill="#20ffdf"/>
<rect x="317.25" y="498.45" width="11.28" height="7.17" fill="#0050ff"/>
<rect x="328.23" y="498.45" width="11.28" height="7.17" fill="#20ffdf"/>
<rect x="339.2" y="498.45" width="11.28" height="7.17" fill="#0050ff"/>
<rect x="350.18" y="498.45" width="11.28" height="7.17" fill="#00008f"/>
<rect x="361.16" y="498.45" width="22.26" height="7.17" fill="#20ffdf"/>
<rect x="383.12" y="498.45" width="22.26" height="7.17" fill="#00008f"/>
<rect x="405.07" y="498.45" width="11.28" height="7.17" fill="#0050ff"/>
<rect x="416.05" y="498.45" width="11.28" height="7.17" fill="#efff10"/>
<rect x="427.03" y="498.45" width="11.28" height="7.17" fill="#ff4000"/>
<rect x="438.01" y="498.45" width="11.28" height="7.17" fill="#efff10"/>
<rect x="448.98" y="498.45" width="11.28" height="7.17" fill="#ff4000"/>
<rect x="459.96" y="498.45" width="22.26" height="7.17" fill="#efff10"/>
<rect x="481.92" y="498.45" width="33.23" height="7.17" fill="#ff4000"/>
<rect x="514.85" y="498.45" width="22.26" height="7.17" fill="#efff10"/>
<rect x="536.81" y="498.45" width="11.28" height="7.17" fill="#ff4000"/>
<rect x="547.79" y="498.45" width="11.28" height="7.17" fill="#20ffdf"/>
<rect x="558.77" y="498.45" width="11.28" height="7.17" fill="#00008f"/>
<rect x="569.74" y="498.45" width="11.28" height="7.17" fill="#0050ff"/>
<rect x="580.72" y="498.45" width="11.28" height="7.17" fill="#00008f"/>
<rect x="240.4" y="505.32" width="11.28" height="7.18" fill="#20ffdf"/>
<rect x="251.38" y="505.32" width="11.28" height="7.18" fill="#00008f"/>
<rect x="262.36" y="505.32" width="11.28" height="7.18" fill="#efff10"/>
<rect x="273.33" y="505.32" width="11.28" height="7.18" fill="#ff4000"/>
<rect x="284.31" y="505.32" width="22.26" height="7.18" fill="#efff10"/>
<rect x="306.27" y="505.32" width="11.28" height="7.18" fill="#20ffdf"/>
<rect x="317.25" y="505.32" width="11.28" height="7.18" fill="#0050ff"/>
<rect x="328.23" y="505.32" width="11.28" height="7.18" fill="#efff10"/>
<rect x="339.2" y="505.32" width="11.28" height="7.18" fill="#20ffdf"/>
<rect x="350.18" y="505.32" width="11.28" height="7.18" fill="#00008f"/>
<rect x="361.16" y="505.32" width="11.28" height="7.18" fill="#0050ff"/>
<rect x="372.14" y="505.32" width="22.26" height="7.18" fill="#20ffdf"/>
<rect x="394.09" y="505.32" width="11.28" height="7.18" fill="#0050ff"/>
<rect x="405.07" y="505.32" width="11.28" height="7.18" fill="#20ffdf"/>
<rect x="416.05" y="505.32" width="11.28" height="7.18" fill="#00008f"/>
<rect x="427.03" y="505.32" width="11.28" height="7.18" fill="#20ffdf"/>
<rect x="438.01" y="505.32" width="11.28" height="7.18" fill="#00008f"/>
<rect x="448.98" y="505.32" width="11.28" height="7.18" fill="#0050ff"/>
<rect x="459.96" y="505.32" width="11.28" height="7.18" fill="#20ffdf"/>
<rect x="470.94" y="505.32" width="33.23" height="7.18" fill="#efff10"/>
<rect x="503.88" y="505.32" width="11.28" height="7.18" fill="#20ffdf"/>
<rect x="514.85" y="505.32" width="11.28" height="7.18" fill="#efff10"/>
<rect x="525.83" y="505.32" width="11.28" height="7.18" fill="#20ffdf"/>
<rect x="536.81" y="505.32" width="22.26" height="7.18" fill="#0050ff"/>
<rect x="558.77" y="505.32" width="11.28" height="7.18" fill="#20ffdf"/>
<rect x="569.74" y="505.32" width="11.28" height="7.18" fill="#efff10"/>
<rect x="580.72" y="505.32" width="11.28" height="7.18" fill="#ff4000"/>
<rect x="240.4" y="512.2" width="33.23" height="7.17" fill="#20ffdf"/>
<rect x="273.33" y="512.2" width="11.28" height="7.17" fill="#efff10"/>
<rect x="284.31" y="512.2" width="11.28" height="7.17" fill="#ff4000"/>
<rect x="295.29" y="512.2" width="77.15" height="7.17" fill="#20ffdf"/>
<rect x="372.14" y="512.2" width="11.28" height="7.17" fill="#00008f"/>
<rect x="383.12" y="512.2" width="11.28" height="7.17" fill="#20ffdf"/>
<rect x="394.09" y="512.2" width="11.28" height="7.17" fill="#0050ff"/>
<rect x="405.07" y="512.2" width="33.23" height="7.17" fill="#efff10"/>
<rect x="438.01" y="512.2" width="11.28" height="7.17" fill="#ff4000"/>
<rect x="448.98" y="512.2" width="11.28" height="7.17" fill="#efff10"/>
<rect x="459.96" y="512.2" width="11.28" height="7.17" fill="#20ffdf"/>
<rect x="470.94" y="512.2" width="11.28" height="7.17" fill="#ff4000"/>
<rect x="481.92" y="512.2" width="22.26" height="7.17" fill="#efff10"/>
<rect x="503.88" y="512.2" width="11.28" height="7.17" fill="#800000"/>
<rect x="514.85" y="512.2" width="22.26" height="7.17" fill="#ff4000"/>
<rect x="536.81" y="512.2" width="22.26" height="7.17" fill="#0050ff"/>
<rect x="558.77" y="512.2" width="11.28" height="7.17" fill="#00008f"/>
<rect x="569.74" y="512.2" width="11.28" height="7.17" fill="#0050ff"/>
<rect x="580.72" y="512.2" width="11.28" height="7.17" fill="#00008f"/>
<rect x="240.4" y="519.08" width="22.26" height="7.17" fill="#efff10"/>
<rect x="262.36" y="519.08" width="11.28" height="7.17" fill="#ff4000"/>
<rect x="273.33" y="519.08" width="33.23" height="7.17" fill="#efff10"/>
<rect x="306.27" y="519.08" width="33.23" height="7.17" fill="#20ffdf"/>
<rect x="339.2" y="519.08" width="11.28" height="7.17" fill="#0050ff"/>
<rect x="350.18" y="519.08" width="33.23" height="7.17" fill="#20ffdf"/>
<rect x="383.12" y="519.08" width="22.26" height="7.17" fill="#0050ff"/>
<rect x="405.07" y="519.08" width="11.28" height="7.17" fill="#00008f"/>
<rect x="416.05" y="519.08" width="11.28" height="7.17" fill="#20ffdf"/>
<rect x="427.03" y="519.08" width="11.28" height="7.17" fill="#00008f"/>
<rect x="438.01" y="519.08" width="11.28" height="7.17" fill="#0050ff"/>
<rect x="448.98" y="519.08" width="22.26" height="7.17" fill="#20ffdf"/>
<rect x="470.94" y="519.08" width="11.28" height="7.17" fill="#ff4000"/>
<rect x="481.92" y="519.08" width="22.26" height="7.17" fill="#efff10"/>
<rect x="503.88" y="519.08" width="11.28" height="7.17" fill="#20ffdf"/>
<rect x="514.85" y="519.08" width="22.26" height="7.17" fill="#00008f"/>
<rect x="536.81" y="519.08" width="11.28" height="7.17" fill="#0050ff"/>
<rect x="547.79" y="519.08" width="22.26" height="7.17" fill="#20ffdf"/>
<rect x="569.74" y="519.08" width="11.28" height="7.17" fill="#efff10"/>
<rect x="580.72" y="519.08" width="11.28" height="7.17" fill="#ff4000"/>
<rect x="240.4" y="525.95" width="11.28" height="7.17" fill="#20ffdf"/>
<rect x="251.38" y="525.95" width="11.28" height="7.17" fill="#ff4000"/>
<rect x="262.36" y="525.95" width="33.23" height="7.17" fill="#efff10"/>
<rect x="295.29" y="525.95" width="11.28" height="7.17" fill="#0050ff"/>
<rect x="306.27" y="525.95" width="11.28" height="7.17" fill="#efff10"/>
<rect x="317.25" y="525.95" width="66.17" height="7.17" fill="#20ffdf"/>
<rect x="383.12" y="525.95" width="11.28" height="7.17" fill="#00008f"/>
<rect x="394.09" y="525.95" width="11.28" height="7.17" fill="#efff10"/>
<rect x="405.07" y="525.95" width="44.21" height="7.17" fill="#ff4000"/>
<rect x="448.98" y="525.95" width="11.28" height="7.17" fill="#20ffdf"/>
<rect x="459.96" y="525.95" width="11.28" height="7.17" fill="#ff4000"/>
<rect x="470.94" y="525.95" width="11.28" height="7.17" fill="#efff10"/>
<rect x="481.92" y="525.95" width="11.28" height="7.17" fill="#20ffdf"/>
<rect x="492.9" y="525.95" width="11.28" height="7.17" fill="#ff4000"/>
<rect x="503.88" y="525.95" width="22.26" height="7.17" fill="#efff10"/>
<rect x="525.83" y="525.95" width="11.28" height="7.17" fill="#20ffdf"/>
<rect x="536.81" y="525.95" width="11.28" height="7.17" fill="#0050ff"/>
<rect x="547.79" y="525.95" width="11.28" height="7.17" fill="#00008f"/>
<rect x="558.77" y="525.95" width="22.26" height="7.17" fill="#0050ff"/>
<rect x="580.72" y="525.95" width="11.28" height="7.17" fill="#efff10"/>
<rect x="240.4" y="532.83" width="11.28" height="7.17" fill="#20ffdf"/>
<rect x="251.38" y="532.83" width="11.28" height="7.17" fill="#ff4000"/>
<rect x="262.36" y="532.83" width="22.26" height="7.17" fill="#efff10"/>
<rect x="284.31" y="532.83" width="22.26" height="7.17" fill="#20ffdf"/>
<rect x="306.27" y="532.83" width="22.26" height="7.17" fill="#efff10"/>
<rect x="328.23" y="532.83" width="55.19" height="7.17" fill="#20ffdf"/>
<rect x="383.12" y="532.83" width="11.28" height="7.17" fill="#0050ff"/>
<rect x="394.09" y="532.83" width="11.28" height="7.17" fill="#00008f"/>
<rect x="405.07" y="532.83" width="11.28" height="7.17" fill="#20ffdf"/>
<rect x="416.05" y="532.83" width="11.28" height="7.17" fill="#00008f"/>
<rect x="427.03" y="532.83" width="11.28" height="7.17" fill="#0050ff"/>
<rect x="438.01" y="532.83" width="11.28" height="7.17" fill="#20ffdf"/>
<rect x="448.98" y="532.83" width="33.23" height="7.17" fill="#ff4000"/>
<rect x="481.92" y="532.83" width="11.28" height="7.17" fill="#efff10"/>
<rect x="492.9" y="532.83" width="11.28" height="7.17" fill="#20ffdf"/>
<rect x="503.88" y="532.83" width="11.28" height="7.17" fill="#0050ff"/>
<rect x="514.85" y="532.83" width="22.26" height="7.17" fill="#00008f"/>
<rect x="536.81" y="532.83" width="22.26" height="7.17" fill="#20ffdf"/>
<rect x="558.77" y="532.83" width="11.28" height="7.17" fill="#ff4000"/>
<rect x="569.74" y="532.83" width="11.28" height="7.17" fill="#efff10"/>
<rect x="580.72" y="532.83" width="11.28" height="7.17" fill="#20ffdf"/>
<rect x="240.4" y="539.7" width="11.28" height="7.17" fill="#efff10"/>
<rect x="251.38" y="539.7" width="11.28" height="7.17" fill="#ff4000"/>
<rect x="262.36" y="539.7" width="11.28" height="7.17" fill="#efff10"/>
<rect x="273.33" y="539.7" width="11.28" height="7.17" fill="#20ffdf"/>
<rect x="284.31" y="539.7" width="11.28" height="7.17" fill="#efff10"/>
<rect x="295.29" y="539.7" width="11.28" height="7.17" fill="#20ffdf"/>
<rect x="306.27" y="539.7" width="11.28" height="7.17" fill="#efff10"/>
<rect x="317.25" y="539.7" width="11.28" height="7.17" fill="#0050ff"/>
<rect x="328.23" y="539.7" width="11.28" height="7.17" fill="#20ffdf"/>
<rect x="339.2" y="539.7" width="11.28" height="7.17" fill="#00008f"/>
<rect x="350.18" y="539.7" width="11.28" height="7.17" fill="#efff10"/>
<rect x="361.16" y="539.7" width="11.28" height="7.17" fill="#20ffdf"/>
<rect x="372.14" y="539.7" width="11.28" height="7.17" fill="#0050ff"/>
<rect x="383.12" y="539.7" width="11.28" height="7.17" fill="#20ffdf"/>
<rect x="394.09" y="539.7" width="33.23" height="7.17" fill="#ff4000"/>
<rect x="427.03" y="539.7" width="11.28" height="7.17" fill="#efff10"/>
<rect x="438.01" y="539.7" width="11.28" height="7.17" fill="#20ffdf"/>
<rect x="448.98" y="539.7" width="33.23" height="7.17" fill="#efff10"/>
<rect x="481.92" y="539.7" width="11.28" height="7.17" fill="#20ffdf"/>
<rect x="492.9" y="539.7" width="22.26" height="7.17" fill="#efff10"/>
<rect x="514.85" y="539.7" width="11.28" height="7.17" fill="#20ffdf"/>
<rect x="525.83" y="539.7" width="11.28" height="7.17" fill="#0050ff"/>
<rect x="536.81" y="539.7" width="11.28" height="7.17" fill="#00008f"/>
<rect x="547.79" y="539.7" width="22.26" height="7.17" fill="#0050ff"/>
<rect x="569.74" y="539.7" width="11.28" height="7.17" fill="#20ffdf"/>
<rect x="580.72" y="539.7" width="11.28" height="7.17" fill="#0050ff"/>
<rect x="240.4" y="546.58" width="11.28" height="7.17" fill="#ff4000"/>
<rect x="251.38" y="546.58" width="11.28" height="7.17" fill="#efff10"/>
<rect x="262.36" y="546.58" width="11.28" height="7.17" fill="#20ffdf"/>
<rect x="273.33" y="546.58" width="11.28" height="7.17" fill="#efff10"/>
<rect x="284.31" y="546.58" width="11.28" height="7.17" fill="#20ffdf"/>
<rect x="295.29" y="546.58" width="33.23" height="7.17" fill="#efff10"/>
<rect x="328.23" y="546.58" width="11.28" height="7.17" fill="#ff4000"/>
<rect x="339.2" y="546.58" width="22.26" height="7.17" fill="#efff10"/>
<rect x="361.16" y="546.58" width="11.28" height="7.17" fill="#20ffdf"/>
<rect x="372.14" y="546.58" width="11.28" height="7.17" fill="#0050ff"/>
<rect x="383.12" y="546.58" width="22.26" height="7.17" fill="#00008f"/>
<rect x="405.07" y="546.58" width="11.28" height="7.17" fill="#efff10"/>
<rect x="416.05" y="546.58" width="11.28" height="7.17" fill="#00008f"/>
<rect x="427.03" y="546.58" width="11.28" height="7.17" fill="#20ffdf"/>
<rect x="438.01" y="546.58" width="11.28" height="7.17" fill="#efff10"/>
<rect x="448.98" y="546.58" width="22.26" height="7.17" fill="#ff4000"/>
<rect x="470.94" y="546.58" width="11.28" height="7.17" fill="#20ffdf"/>
<rect x="481.92" y="546.58" width="22.26" height="7.17" fill="#00008f"/>
<rect x="503.88" y="546.58" width="22.26" height="7.17" fill="#20ffdf"/>
<rect x="525.83" y="546.58" width="11.28" height="7.17" fill="#00008f"/>
<rect x="536.81" y="546.58" width="11.28" height="7.17" fill="#0050ff"/>
<rect x="547.79" y="546.58" width="11.28" height="7.17" fill="#efff10"/>
<rect x="558.77" y="546.58" width="11.28" height="7.17" fill="#ff4000"/>
<rect x="569.74" y="546.58" width="22.26" height="7.17" fill="#efff10"/>
<rect x="240.4" y="553.45" width="11.28" height="7.17" fill="#efff10"/>
<rect x="251.38" y="553.45" width="11.28" height="7.17" fill="#ff4000"/>
<rect x="262.36" y="553.45" width="11.28" height="7.17" fill="#efff10"/>
<rect x="273.33" y="553.45" width="11.28" height="7.17" fill="#20ffdf"/>
<rect x="284.31" y="553.45" width="33.23" height="7.17" fill="#efff10"/>
<rect x="317.25" y="553.45" width="33.23" height="7.17" fill="#0050ff"/>
<rect x="350.18" y="553.45" width="11.28" height="7.17" fill="#20ffdf"/>
<rect x="361.16" y="553.45" width="11.28" height="7.17" fill="#0050ff"/>
<rect x="372.14" y="553.45" width="11.28" height="7.17" fill="#20ffdf"/>
<rect x="383.12" y="553.45" width="11.28" height="7.17" fill="#ff4000"/>
<rect x="394.09" y="553.45" width="44.21" height="7.17" fill="#efff10"/>
<rect x="438.01" y="553.45" width="22.26" height="7.17" fill="#ff4000"/>
<rect x="459.96" y="553.45" width="33.23" height="7.17" fill="#efff10"/>
<rect x="492.9" y="553.45" width="11.28" height="7.17" fill="#20ffdf"/>
<rect x="503.88" y="553.45" width="11.28" height="7.17" fill="#efff10"/>
<rect x="514.85" y="553.45" width="11.28" height="7.17" fill="#0050ff"/>
<rect x="525.83" y="553.45" width="22.26" height="7.17" fill="#00008f"/>
<rect x="547.79" y="553.45" width="33.23" height="7.17" fill="#0050ff"/>
<rect x="580.72" y="553.45" width="11.28" height="7.17" fill="#20ffdf"/>
<rect x="240.4" y="560.33" width="33.23" height="7.17" fill="#efff10"/>
<rect x="273.33" y="560.33" width="22.26" height="7.17" fill="#20ffdf"/>
<rect x="295.29" y="560.33" width="33.23" height="7.17" fill="#efff10"/>
<rect x="328.23" y="560.33" width="22.26" height="7.17" fill="#ff4000"/>
<rect x="350.18" y="560.33" width="11.28" height="7.17" fill="#efff10"/>
<rect x="361.16" y="560.33" width="11.28" height="7.17" fill="#20ffdf"/>
<rect x="372.14" y="560.33" width="33.23" height="7.17" fill="#00008f"/>
<rect x="405.07" y="560.33" width="11.28" height="7.17" fill="#0050ff"/>
<rect x="416.05" y="560.33" width="11.28" height="7.17" fill="#20ffdf"/>
<rect x="427.03" y="560.33" width="11.28" height="7.17" fill="#efff10"/>
<rect x="438.01" y="560.33" width="11.28" height="7.17" fill="#ff4000"/>
<rect x="448.98" y="560.33" width="11.28" height="7.17" fill="#efff10"/>
<rect x="459.96" y="560.33" width="11.28" height="7.17" fill="#ff4000"/>
<rect x="470.94" y="560.33" width="11.28" height="7.17" fill="#0050ff"/>
<rect x="481.92" y="560.33" width="33.23" height="7.17" fill="#efff10"/>
<rect x="514.85" y="560.33" width="11.28" height="7.17" fill="#20ffdf"/>
<rect x="525.83" y="560.33" width="11.28" height="7.17" fill="#0050ff"/>
<rect x="536.81" y="560.33" width="11.28" height="7.17" fill="#20ffdf"/>
<rect x="547.79" y="560.33" width="44.21" height="7.17" fill="#efff10"/>
</g>
<g clip-path="url(#c0)">
<path d="M266.66 114.59L376.51 114.59" stroke="#0000ff" stroke-width="3" fill="none"/>
<circle cx="266.66" cy="114.59" r="2.8" fill="none" stroke="#0000ff" stroke-width="3.3"/>
<circle cx="376.51" cy="114.59" r="2.8" fill="none" stroke="#0000ff" stroke-width="3.3"/>
<text x="366.71" y="110.79" font-size="8" font-weight="normal" fill="#000">HI5</text>
</g>
<g clip-path="url(#c1)">
<path d="M691.83 114.59L801.52 114.59" stroke="#000" stroke-width="3" fill="none"/>
<circle cx="691.83" cy="114.59" r="2.8" fill="none" stroke="#000" stroke-width="3.3"/>
<circle cx="801.52" cy="114.59" r="2.8" fill="none" stroke="#000" stroke-width="3.3"/>
<text x="792.22" y="110.69" font-size="8" font-weight="bold" fill="#000">HR5</text>
</g>
<g clip-path="url(#c1)">
<path d="M582.14 197.2L691.83 217.86" stroke="#0000ff" stroke-width="2.8" fill="none"/>
<circle cx="582.14" cy="197.2" r="2.8" fill="none" stroke="#0000ff" stroke-width="3.0"/>
<circle cx="691.83" cy="217.86" r="2.8" fill="none" stroke="#0000ff" stroke-width="3.0"/>
<text x="682.83" y="214.66" font-size="8" font-weight="bold" fill="#000">HI4</text>
</g>
<g clip-path="url(#c2)">
<path d="M366.65 543.14L476.43 563.76" stroke="#000" stroke-width="2.4" fill="none"/>
<circle cx="366.65" cy="543.14" r="2.8" fill="none" stroke="#000" stroke-width="2.7"/>
<circle cx="476.43" cy="563.76" r="2.8" fill="none" stroke="#000" stroke-width="2.7"/>
<text x="467.63" y="559.46" font-size="8" font-weight="normal" fill="#000">HP4</text>
</g>
<rect x="30.5" y="1" width="351.5" height="220.3" fill="none" stroke="#1a1a1a" stroke-width="0.9"/>
<path d="M57.96 221.3v-3.2M57.96 1v3.2" stroke="#000" stroke-width="1.1"/>
<text class="t" x="57.96" y="232.2" text-anchor="middle" font-size="8.3">30</text>
<path d="M30.5 18.21h3.2M382 18.21h-3.2" stroke="#000" stroke-width="1.1"/>
<text class="t" x="26.6" y="21.21" text-anchor="end" font-size="8.3">30</text>
<path d="M112.88 221.3v-3.2M112.88 1v3.2" stroke="#000" stroke-width="1.1"/>
<text class="t" x="112.88" y="232.2" text-anchor="middle" font-size="8.3">25</text>
<path d="M30.5 52.63h3.2M382 52.63h-3.2" stroke="#000" stroke-width="1.1"/>
<text class="t" x="26.6" y="55.63" text-anchor="end" font-size="8.3">25</text>
<path d="M167.8 221.3v-3.2M167.8 1v3.2" stroke="#000" stroke-width="1.1"/>
<text class="t" x="167.8" y="232.2" text-anchor="middle" font-size="8.3">20</text>
<path d="M30.5 87.05h3.2M382 87.05h-3.2" stroke="#000" stroke-width="1.1"/>
<text class="t" x="26.6" y="90.05" text-anchor="end" font-size="8.3">20</text>
<path d="M222.73 221.3v-3.2M222.73 1v3.2" stroke="#000" stroke-width="1.1"/>
<text class="t" x="222.73" y="232.2" text-anchor="middle" font-size="8.3">15</text>
<path d="M30.5 121.48h3.2M382 121.48h-3.2" stroke="#000" stroke-width="1.1"/>
<text class="t" x="26.6" y="124.48" text-anchor="end" font-size="8.3">15</text>
<path d="M277.65 221.3v-3.2M277.65 1v3.2" stroke="#000" stroke-width="1.1"/>
<text class="t" x="277.65" y="232.2" text-anchor="middle" font-size="8.3">10</text>
<path d="M30.5 155.9h3.2M382 155.9h-3.2" stroke="#000" stroke-width="1.1"/>
<text class="t" x="26.6" y="158.9" text-anchor="end" font-size="8.3">10</text>
<path d="M332.57 221.3v-3.2M332.57 1v3.2" stroke="#000" stroke-width="1.1"/>
<text class="t" x="332.57" y="232.2" text-anchor="middle" font-size="8.3">5</text>
<path d="M30.5 190.32h3.2M382 190.32h-3.2" stroke="#000" stroke-width="1.1"/>
<text class="t" x="26.6" y="193.32" text-anchor="end" font-size="8.3">5</text>
<text x="205.55" y="246.2" text-anchor="middle" font-size="10.5">x-direction</text>
<text transform="translate(9.3 112.35) rotate(-90)" text-anchor="middle" font-size="10.5">y-direction</text>
<rect x="456" y="1" width="351" height="220.3" fill="none" stroke="#1a1a1a" stroke-width="0.9"/>
<path d="M483.42 221.3v-3.2M483.42 1v3.2" stroke="#000" stroke-width="1.1"/>
<text class="t" x="483.42" y="232.2" text-anchor="middle" font-size="8.3">30</text>
<path d="M456 18.21h3.2M807 18.21h-3.2" stroke="#000" stroke-width="1.1"/>
<text class="t" x="452.1" y="21.21" text-anchor="end" font-size="8.3">30</text>
<path d="M538.27 221.3v-3.2M538.27 1v3.2" stroke="#000" stroke-width="1.1"/>
<text class="t" x="538.27" y="232.2" text-anchor="middle" font-size="8.3">25</text>
<path d="M456 52.63h3.2M807 52.63h-3.2" stroke="#000" stroke-width="1.1"/>
<text class="t" x="452.1" y="55.63" text-anchor="end" font-size="8.3">25</text>
<path d="M593.11 221.3v-3.2M593.11 1v3.2" stroke="#000" stroke-width="1.1"/>
<text class="t" x="593.11" y="232.2" text-anchor="middle" font-size="8.3">20</text>
<path d="M456 87.05h3.2M807 87.05h-3.2" stroke="#000" stroke-width="1.1"/>
<text class="t" x="452.1" y="90.05" text-anchor="end" font-size="8.3">20</text>
<path d="M647.95 221.3v-3.2M647.95 1v3.2" stroke="#000" stroke-width="1.1"/>
<text class="t" x="647.95" y="232.2" text-anchor="middle" font-size="8.3">15</text>
<path d="M456 121.48h3.2M807 121.48h-3.2" stroke="#000" stroke-width="1.1"/>
<text class="t" x="452.1" y="124.48" text-anchor="end" font-size="8.3">15</text>
<path d="M702.8 221.3v-3.2M702.8 1v3.2" stroke="#000" stroke-width="1.1"/>
<text class="t" x="702.8" y="232.2" text-anchor="middle" font-size="8.3">10</text>
<path d="M456 155.9h3.2M807 155.9h-3.2" stroke="#000" stroke-width="1.1"/>
<text class="t" x="452.1" y="158.9" text-anchor="end" font-size="8.3">10</text>
<path d="M757.64 221.3v-3.2M757.64 1v3.2" stroke="#000" stroke-width="1.1"/>
<text class="t" x="757.64" y="232.2" text-anchor="middle" font-size="8.3">5</text>
<path d="M456 190.32h3.2M807 190.32h-3.2" stroke="#000" stroke-width="1.1"/>
<text class="t" x="452.1" y="193.32" text-anchor="end" font-size="8.3">5</text>
<text x="630.8" y="245" text-anchor="middle" font-size="8.6" font-weight="bold" letter-spacing="0.3" stroke="#111" stroke-width="0.25">x-direction</text>
<text transform="translate(435.5 113.15) rotate(-90)" text-anchor="middle" font-size="8.6" font-weight="bold" letter-spacing="0.3" stroke="#111" stroke-width="0.25">y-direction</text>
<rect x="240.4" y="347.2" width="351.3" height="220" fill="none" stroke="#1a1a1a" stroke-width="0.9"/>
<path d="M267.85 567.2v-3.2M267.85 347.2v3.2" stroke="#000" stroke-width="1.1"/>
<text class="t" x="267.85" y="578.1" text-anchor="middle" font-size="8.3">30</text>
<path d="M240.4 364.39h3.2M591.7 364.39h-3.2" stroke="#000" stroke-width="1.1"/>
<text class="t" x="236.5" y="367.39" text-anchor="end" font-size="8.3">30</text>
<path d="M322.74 567.2v-3.2M322.74 347.2v3.2" stroke="#000" stroke-width="1.1"/>
<text class="t" x="322.74" y="578.1" text-anchor="middle" font-size="8.3">25</text>
<path d="M240.4 398.76h3.2M591.7 398.76h-3.2" stroke="#000" stroke-width="1.1"/>
<text class="t" x="236.5" y="401.76" text-anchor="end" font-size="8.3">25</text>
<path d="M377.63 567.2v-3.2M377.63 347.2v3.2" stroke="#000" stroke-width="1.1"/>
<text class="t" x="377.63" y="578.1" text-anchor="middle" font-size="8.3">20</text>
<path d="M240.4 433.14h3.2M591.7 433.14h-3.2" stroke="#000" stroke-width="1.1"/>
<text class="t" x="236.5" y="436.14" text-anchor="end" font-size="8.3">20</text>
<path d="M432.52 567.2v-3.2M432.52 347.2v3.2" stroke="#000" stroke-width="1.1"/>
<text class="t" x="432.52" y="578.1" text-anchor="middle" font-size="8.3">15</text>
<path d="M240.4 467.51h3.2M591.7 467.51h-3.2" stroke="#000" stroke-width="1.1"/>
<text class="t" x="236.5" y="470.51" text-anchor="end" font-size="8.3">15</text>
<path d="M487.41 567.2v-3.2M487.41 347.2v3.2" stroke="#000" stroke-width="1.1"/>
<text class="t" x="487.41" y="578.1" text-anchor="middle" font-size="8.3">10</text>
<path d="M240.4 501.89h3.2M591.7 501.89h-3.2" stroke="#000" stroke-width="1.1"/>
<text class="t" x="236.5" y="504.89" text-anchor="end" font-size="8.3">10</text>
<path d="M542.3 567.2v-3.2M542.3 347.2v3.2" stroke="#000" stroke-width="1.1"/>
<text class="t" x="542.3" y="578.1" text-anchor="middle" font-size="8.3">5</text>
<path d="M240.4 536.26h3.2M591.7 536.26h-3.2" stroke="#000" stroke-width="1.1"/>
<text class="t" x="236.5" y="539.26" text-anchor="end" font-size="8.3">5</text>
<text x="415.35" y="592.5" text-anchor="middle" font-size="10.5">x-direction</text>
<text transform="translate(218.8 458.5) rotate(-90)" text-anchor="middle" font-size="10.5">y-direction</text>
<g shape-rendering="crispEdges">
<rect x="30.2" y="256.3" width="6.02" height="22" fill="rgb(0,0,143)"/>
<rect x="35.72" y="256.3" width="6.02" height="22" fill="rgb(0,0,159)"/>
<rect x="41.23" y="256.3" width="6.02" height="22" fill="rgb(0,0,175)"/>
<rect x="46.75" y="256.3" width="6.02" height="22" fill="rgb(0,0,191)"/>
<rect x="52.27" y="256.3" width="6.02" height="22" fill="rgb(0,0,207)"/>
<rect x="57.79" y="256.3" width="6.02" height="22" fill="rgb(0,0,223)"/>
<rect x="63.3" y="256.3" width="6.02" height="22" fill="rgb(0,0,239)"/>
<rect x="68.82" y="256.3" width="6.02" height="22" fill="rgb(0,0,255)"/>
<rect x="74.34" y="256.3" width="6.02" height="22" fill="rgb(0,16,255)"/>
<rect x="79.85" y="256.3" width="6.02" height="22" fill="rgb(0,32,255)"/>
<rect x="85.37" y="256.3" width="6.02" height="22" fill="rgb(0,48,255)"/>
<rect x="90.89" y="256.3" width="6.02" height="22" fill="rgb(0,64,255)"/>
<rect x="96.41" y="256.3" width="6.02" height="22" fill="rgb(0,80,255)"/>
<rect x="101.92" y="256.3" width="6.02" height="22" fill="rgb(0,96,255)"/>
<rect x="107.44" y="256.3" width="6.02" height="22" fill="rgb(0,112,255)"/>
<rect x="112.96" y="256.3" width="6.02" height="22" fill="rgb(0,128,255)"/>
<rect x="118.48" y="256.3" width="6.02" height="22" fill="rgb(0,143,255)"/>
<rect x="123.99" y="256.3" width="6.02" height="22" fill="rgb(0,159,255)"/>
<rect x="129.51" y="256.3" width="6.02" height="22" fill="rgb(0,175,255)"/>
<rect x="135.03" y="256.3" width="6.02" height="22" fill="rgb(0,191,255)"/>
<rect x="140.54" y="256.3" width="6.02" height="22" fill="rgb(0,207,255)"/>
<rect x="146.06" y="256.3" width="6.02" height="22" fill="rgb(0,223,255)"/>
<rect x="151.58" y="256.3" width="6.02" height="22" fill="rgb(0,239,255)"/>
<rect x="157.1" y="256.3" width="6.02" height="22" fill="rgb(0,255,255)"/>
<rect x="162.61" y="256.3" width="6.02" height="22" fill="rgb(16,255,239)"/>
<rect x="168.13" y="256.3" width="6.02" height="22" fill="rgb(32,255,223)"/>
<rect x="173.65" y="256.3" width="6.02" height="22" fill="rgb(48,255,207)"/>
<rect x="179.16" y="256.3" width="6.02" height="22" fill="rgb(64,255,191)"/>
<rect x="184.68" y="256.3" width="6.02" height="22" fill="rgb(80,255,175)"/>
<rect x="190.2" y="256.3" width="6.02" height="22" fill="rgb(96,255,159)"/>
<rect x="195.72" y="256.3" width="6.02" height="22" fill="rgb(112,255,143)"/>
<rect x="201.23" y="256.3" width="6.02" height="22" fill="rgb(128,255,128)"/>
<rect x="206.75" y="256.3" width="6.02" height="22" fill="rgb(143,255,112)"/>
<rect x="212.27" y="256.3" width="6.02" height="22" fill="rgb(159,255,96)"/>
<rect x="217.78" y="256.3" width="6.02" height="22" fill="rgb(175,255,80)"/>
<rect x="223.3" y="256.3" width="6.02" height="22" fill="rgb(191,255,64)"/>
<rect x="228.82" y="256.3" width="6.02" height="22" fill="rgb(207,255,48)"/>
<rect x="234.34" y="256.3" width="6.02" height="22" fill="rgb(223,255,32)"/>
<rect x="239.85" y="256.3" width="6.02" height="22" fill="rgb(239,255,16)"/>
<rect x="245.37" y="256.3" width="6.02" height="22" fill="rgb(255,255,0)"/>
<rect x="250.89" y="256.3" width="6.02" height="22" fill="rgb(255,239,0)"/>
<rect x="256.4" y="256.3" width="6.02" height="22" fill="rgb(255,223,0)"/>
<rect x="261.92" y="256.3" width="6.02" height="22" fill="rgb(255,207,0)"/>
<rect x="267.44" y="256.3" width="6.02" height="22" fill="rgb(255,191,0)"/>
<rect x="272.96" y="256.3" width="6.02" height="22" fill="rgb(255,175,0)"/>
<rect x="278.47" y="256.3" width="6.02" height="22" fill="rgb(255,159,0)"/>
<rect x="283.99" y="256.3" width="6.02" height="22" fill="rgb(255,143,0)"/>
<rect x="289.51" y="256.3" width="6.02" height="22" fill="rgb(255,128,0)"/>
<rect x="295.03" y="256.3" width="6.02" height="22" fill="rgb(255,112,0)"/>
<rect x="300.54" y="256.3" width="6.02" height="22" fill="rgb(255,96,0)"/>
<rect x="306.06" y="256.3" width="6.02" height="22" fill="rgb(255,80,0)"/>
<rect x="311.58" y="256.3" width="6.02" height="22" fill="rgb(255,64,0)"/>
<rect x="317.09" y="256.3" width="6.02" height="22" fill="rgb(255,48,0)"/>
<rect x="322.61" y="256.3" width="6.02" height="22" fill="rgb(255,32,0)"/>
<rect x="328.13" y="256.3" width="6.02" height="22" fill="rgb(255,16,0)"/>
<rect x="333.65" y="256.3" width="6.02" height="22" fill="rgb(255,0,0)"/>
<rect x="339.16" y="256.3" width="6.02" height="22" fill="rgb(239,0,0)"/>
<rect x="344.68" y="256.3" width="6.02" height="22" fill="rgb(223,0,0)"/>
<rect x="350.2" y="256.3" width="6.02" height="22" fill="rgb(207,0,0)"/>
<rect x="355.71" y="256.3" width="6.02" height="22" fill="rgb(191,0,0)"/>
<rect x="361.23" y="256.3" width="6.02" height="22" fill="rgb(175,0,0)"/>
<rect x="366.75" y="256.3" width="6.02" height="22" fill="rgb(159,0,0)"/>
<rect x="372.27" y="256.3" width="6.02" height="22" fill="rgb(143,0,0)"/>
<rect x="377.78" y="256.3" width="6.02" height="22" fill="rgb(128,0,0)"/>
</g>
<rect x="30.2" y="256.3" width="353.1" height="22" fill="none" stroke="#000" stroke-width="1.1"/>
<text class="t" x="30.5" y="289.2" text-anchor="middle" font-size="8.3">5</text>
<path d="M65.51 256.3v4M65.51 278.3v-4" stroke="#000" stroke-width="1.1"/>
<text class="t" x="65.81" y="289.2" text-anchor="middle" font-size="8.3">5.5</text>
<path d="M100.82 256.3v4M100.82 278.3v-4" stroke="#000" stroke-width="1.1"/>
<text class="t" x="101.12" y="289.2" text-anchor="middle" font-size="8.3">6</text>
<path d="M136.13 256.3v4M136.13 278.3v-4" stroke="#000" stroke-width="1.1"/>
<text class="t" x="136.43" y="289.2" text-anchor="middle" font-size="8.3">6.5</text>
<path d="M171.44 256.3v4M171.44 278.3v-4" stroke="#000" stroke-width="1.1"/>
<text class="t" x="171.74" y="289.2" text-anchor="middle" font-size="8.3">7</text>
<path d="M206.75 256.3v4M206.75 278.3v-4" stroke="#000" stroke-width="1.1"/>
<text class="t" x="207.05" y="289.2" text-anchor="middle" font-size="8.3">7.5</text>
<path d="M242.06 256.3v4M242.06 278.3v-4" stroke="#000" stroke-width="1.1"/>
<text class="t" x="242.36" y="289.2" text-anchor="middle" font-size="8.3">8</text>
<path d="M277.37 256.3v4M277.37 278.3v-4" stroke="#000" stroke-width="1.1"/>
<text class="t" x="277.67" y="289.2" text-anchor="middle" font-size="8.3">8.5</text>
<path d="M312.68 256.3v4M312.68 278.3v-4" stroke="#000" stroke-width="1.1"/>
<text class="t" x="312.98" y="289.2" text-anchor="middle" font-size="8.3">9</text>
<path d="M347.99 256.3v4M347.99 278.3v-4" stroke="#000" stroke-width="1.1"/>
<text class="t" x="348.29" y="289.2" text-anchor="middle" font-size="8.3">9.5</text>
<text class="t" x="383.6" y="289.2" text-anchor="middle" font-size="8.3">10</text>
<g shape-rendering="crispEdges">
<rect x="455.7" y="254.3" width="6.01" height="22" fill="rgb(0,0,143)"/>
<rect x="461.21" y="254.3" width="6.01" height="22" fill="rgb(0,0,159)"/>
<rect x="466.72" y="254.3" width="6.01" height="22" fill="rgb(0,0,175)"/>
<rect x="472.23" y="254.3" width="6.01" height="22" fill="rgb(0,0,191)"/>
<rect x="477.74" y="254.3" width="6.01" height="22" fill="rgb(0,0,207)"/>
<rect x="483.25" y="254.3" width="6.01" height="22" fill="rgb(0,0,223)"/>
<rect x="488.76" y="254.3" width="6.01" height="22" fill="rgb(0,0,239)"/>
<rect x="494.27" y="254.3" width="6.01" height="22" fill="rgb(0,0,255)"/>
<rect x="499.77" y="254.3" width="6.01" height="22" fill="rgb(0,16,255)"/>
<rect x="505.28" y="254.3" width="6.01" height="22" fill="rgb(0,32,255)"/>
<rect x="510.79" y="254.3" width="6.01" height="22" fill="rgb(0,48,255)"/>
<rect x="516.3" y="254.3" width="6.01" height="22" fill="rgb(0,64,255)"/>
<rect x="521.81" y="254.3" width="6.01" height="22" fill="rgb(0,80,255)"/>
<rect x="527.32" y="254.3" width="6.01" height="22" fill="rgb(0,96,255)"/>
<rect x="532.83" y="254.3" width="6.01" height="22" fill="rgb(0,112,255)"/>
<rect x="538.34" y="254.3" width="6.01" height="22" fill="rgb(0,128,255)"/>
<rect x="543.85" y="254.3" width="6.01" height="22" fill="rgb(0,143,255)"/>
<rect x="549.36" y="254.3" width="6.01" height="22" fill="rgb(0,159,255)"/>
<rect x="554.87" y="254.3" width="6.01" height="22" fill="rgb(0,175,255)"/>
<rect x="560.38" y="254.3" width="6.01" height="22" fill="rgb(0,191,255)"/>
<rect x="565.89" y="254.3" width="6.01" height="22" fill="rgb(0,207,255)"/>
<rect x="571.4" y="254.3" width="6.01" height="22" fill="rgb(0,223,255)"/>
<rect x="576.91" y="254.3" width="6.01" height="22" fill="rgb(0,239,255)"/>
<rect x="582.42" y="254.3" width="6.01" height="22" fill="rgb(0,255,255)"/>
<rect x="587.92" y="254.3" width="6.01" height="22" fill="rgb(16,255,239)"/>
<rect x="593.43" y="254.3" width="6.01" height="22" fill="rgb(32,255,223)"/>
<rect x="598.94" y="254.3" width="6.01" height="22" fill="rgb(48,255,207)"/>
<rect x="604.45" y="254.3" width="6.01" height="22" fill="rgb(64,255,191)"/>
<rect x="609.96" y="254.3" width="6.01" height="22" fill="rgb(80,255,175)"/>
<rect x="615.47" y="254.3" width="6.01" height="22" fill="rgb(96,255,159)"/>
<rect x="620.98" y="254.3" width="6.01" height="22" fill="rgb(112,255,143)"/>
<rect x="626.49" y="254.3" width="6.01" height="22" fill="rgb(128,255,128)"/>
<rect x="632" y="254.3" width="6.01" height="22" fill="rgb(143,255,112)"/>
<rect x="637.51" y="254.3" width="6.01" height="22" fill="rgb(159,255,96)"/>
<rect x="643.02" y="254.3" width="6.01" height="22" fill="rgb(175,255,80)"/>
<rect x="648.53" y="254.3" width="6.01" height="22" fill="rgb(191,255,64)"/>
<rect x="654.04" y="254.3" width="6.01" height="22" fill="rgb(207,255,48)"/>
<rect x="659.55" y="254.3" width="6.01" height="22" fill="rgb(223,255,32)"/>
<rect x="665.06" y="254.3" width="6.01" height="22" fill="rgb(239,255,16)"/>
<rect x="670.57" y="254.3" width="6.01" height="22" fill="rgb(255,255,0)"/>
<rect x="676.08" y="254.3" width="6.01" height="22" fill="rgb(255,239,0)"/>
<rect x="681.58" y="254.3" width="6.01" height="22" fill="rgb(255,223,0)"/>
<rect x="687.09" y="254.3" width="6.01" height="22" fill="rgb(255,207,0)"/>
<rect x="692.6" y="254.3" width="6.01" height="22" fill="rgb(255,191,0)"/>
<rect x="698.11" y="254.3" width="6.01" height="22" fill="rgb(255,175,0)"/>
<rect x="703.62" y="254.3" width="6.01" height="22" fill="rgb(255,159,0)"/>
<rect x="709.13" y="254.3" width="6.01" height="22" fill="rgb(255,143,0)"/>
<rect x="714.64" y="254.3" width="6.01" height="22" fill="rgb(255,128,0)"/>
<rect x="720.15" y="254.3" width="6.01" height="22" fill="rgb(255,112,0)"/>
<rect x="725.66" y="254.3" width="6.01" height="22" fill="rgb(255,96,0)"/>
<rect x="731.17" y="254.3" width="6.01" height="22" fill="rgb(255,80,0)"/>
<rect x="736.68" y="254.3" width="6.01" height="22" fill="rgb(255,64,0)"/>
<rect x="742.19" y="254.3" width="6.01" height="22" fill="rgb(255,48,0)"/>
<rect x="747.7" y="254.3" width="6.01" height="22" fill="rgb(255,32,0)"/>
<rect x="753.21" y="254.3" width="6.01" height="22" fill="rgb(255,16,0)"/>
<rect x="758.72" y="254.3" width="6.01" height="22" fill="rgb(255,0,0)"/>
<rect x="764.23" y="254.3" width="6.01" height="22" fill="rgb(239,0,0)"/>
<rect x="769.73" y="254.3" width="6.01" height="22" fill="rgb(223,0,0)"/>
<rect x="775.24" y="254.3" width="6.01" height="22" fill="rgb(207,0,0)"/>
<rect x="780.75" y="254.3" width="6.01" height="22" fill="rgb(191,0,0)"/>
<rect x="786.26" y="254.3" width="6.01" height="22" fill="rgb(175,0,0)"/>
<rect x="791.77" y="254.3" width="6.01" height="22" fill="rgb(159,0,0)"/>
<rect x="797.28" y="254.3" width="6.01" height="22" fill="rgb(143,0,0)"/>
<rect x="802.79" y="254.3" width="6.01" height="22" fill="rgb(128,0,0)"/>
</g>
<rect x="455.7" y="254.3" width="352.6" height="22" fill="none" stroke="#000" stroke-width="1.1"/>
<text class="t" x="456" y="287.2" text-anchor="middle" font-size="8.3">5</text>
<path d="M490.96 254.3v4M490.96 276.3v-4" stroke="#000" stroke-width="1.1"/>
<text class="t" x="491.26" y="287.2" text-anchor="middle" font-size="8.3">5.5</text>
<path d="M526.22 254.3v4M526.22 276.3v-4" stroke="#000" stroke-width="1.1"/>
<text class="t" x="526.52" y="287.2" text-anchor="middle" font-size="8.3">6</text>
<path d="M561.48 254.3v4M561.48 276.3v-4" stroke="#000" stroke-width="1.1"/>
<text class="t" x="561.78" y="287.2" text-anchor="middle" font-size="8.3">6.5</text>
<path d="M596.74 254.3v4M596.74 276.3v-4" stroke="#000" stroke-width="1.1"/>
<text class="t" x="597.04" y="287.2" text-anchor="middle" font-size="8.3">7</text>
<path d="M632 254.3v4M632 276.3v-4" stroke="#000" stroke-width="1.1"/>
<text class="t" x="632.3" y="287.2" text-anchor="middle" font-size="8.3">7.5</text>
<path d="M667.26 254.3v4M667.26 276.3v-4" stroke="#000" stroke-width="1.1"/>
<text class="t" x="667.56" y="287.2" text-anchor="middle" font-size="8.3">8</text>
<path d="M702.52 254.3v4M702.52 276.3v-4" stroke="#000" stroke-width="1.1"/>
<text class="t" x="702.82" y="287.2" text-anchor="middle" font-size="8.3">8.5</text>
<path d="M737.78 254.3v4M737.78 276.3v-4" stroke="#000" stroke-width="1.1"/>
<text class="t" x="738.08" y="287.2" text-anchor="middle" font-size="8.3">9</text>
<path d="M773.04 254.3v4M773.04 276.3v-4" stroke="#000" stroke-width="1.1"/>
<text class="t" x="773.34" y="287.2" text-anchor="middle" font-size="8.3">9.5</text>
<text class="t" x="808.6" y="287.2" text-anchor="middle" font-size="8.3">10</text>
<g shape-rendering="crispEdges">
<rect x="240.1" y="602.6" width="6.01" height="21.7" fill="rgb(0,0,143)"/>
<rect x="245.61" y="602.6" width="6.01" height="21.7" fill="rgb(0,0,159)"/>
<rect x="251.13" y="602.6" width="6.01" height="21.7" fill="rgb(0,0,175)"/>
<rect x="256.64" y="602.6" width="6.01" height="21.7" fill="rgb(0,0,191)"/>
<rect x="262.16" y="602.6" width="6.01" height="21.7" fill="rgb(0,0,207)"/>
<rect x="267.67" y="602.6" width="6.01" height="21.7" fill="rgb(0,0,223)"/>
<rect x="273.18" y="602.6" width="6.01" height="21.7" fill="rgb(0,0,239)"/>
<rect x="278.7" y="602.6" width="6.01" height="21.7" fill="rgb(0,0,255)"/>
<rect x="284.21" y="602.6" width="6.01" height="21.7" fill="rgb(0,16,255)"/>
<rect x="289.73" y="602.6" width="6.01" height="21.7" fill="rgb(0,32,255)"/>
<rect x="295.24" y="602.6" width="6.01" height="21.7" fill="rgb(0,48,255)"/>
<rect x="300.75" y="602.6" width="6.01" height="21.7" fill="rgb(0,64,255)"/>
<rect x="306.27" y="602.6" width="6.01" height="21.7" fill="rgb(0,80,255)"/>
<rect x="311.78" y="602.6" width="6.01" height="21.7" fill="rgb(0,96,255)"/>
<rect x="317.3" y="602.6" width="6.01" height="21.7" fill="rgb(0,112,255)"/>
<rect x="322.81" y="602.6" width="6.01" height="21.7" fill="rgb(0,128,255)"/>
<rect x="328.32" y="602.6" width="6.01" height="21.7" fill="rgb(0,143,255)"/>
<rect x="333.84" y="602.6" width="6.01" height="21.7" fill="rgb(0,159,255)"/>
<rect x="339.35" y="602.6" width="6.01" height="21.7" fill="rgb(0,175,255)"/>
<rect x="344.87" y="602.6" width="6.01" height="21.7" fill="rgb(0,191,255)"/>
<rect x="350.38" y="602.6" width="6.01" height="21.7" fill="rgb(0,207,255)"/>
<rect x="355.9" y="602.6" width="6.01" height="21.7" fill="rgb(0,223,255)"/>
<rect x="361.41" y="602.6" width="6.01" height="21.7" fill="rgb(0,239,255)"/>
<rect x="366.92" y="602.6" width="6.01" height="21.7" fill="rgb(0,255,255)"/>
<rect x="372.44" y="602.6" width="6.01" height="21.7" fill="rgb(16,255,239)"/>
<rect x="377.95" y="602.6" width="6.01" height="21.7" fill="rgb(32,255,223)"/>
<rect x="383.47" y="602.6" width="6.01" height="21.7" fill="rgb(48,255,207)"/>
<rect x="388.98" y="602.6" width="6.01" height="21.7" fill="rgb(64,255,191)"/>
<rect x="394.49" y="602.6" width="6.01" height="21.7" fill="rgb(80,255,175)"/>
<rect x="400.01" y="602.6" width="6.01" height="21.7" fill="rgb(96,255,159)"/>
<rect x="405.52" y="602.6" width="6.01" height="21.7" fill="rgb(112,255,143)"/>
<rect x="411.04" y="602.6" width="6.01" height="21.7" fill="rgb(128,255,128)"/>
<rect x="416.55" y="602.6" width="6.01" height="21.7" fill="rgb(143,255,112)"/>
<rect x="422.06" y="602.6" width="6.01" height="21.7" fill="rgb(159,255,96)"/>
<rect x="427.58" y="602.6" width="6.01" height="21.7" fill="rgb(175,255,80)"/>
<rect x="433.09" y="602.6" width="6.01" height="21.7" fill="rgb(191,255,64)"/>
<rect x="438.61" y="602.6" width="6.01" height="21.7" fill="rgb(207,255,48)"/>
<rect x="444.12" y="602.6" width="6.01" height="21.7" fill="rgb(223,255,32)"/>
<rect x="449.63" y="602.6" width="6.01" height="21.7" fill="rgb(239,255,16)"/>
<rect x="455.15" y="602.6" width="6.01" height="21.7" fill="rgb(255,255,0)"/>
<rect x="460.66" y="602.6" width="6.01" height="21.7" fill="rgb(255,239,0)"/>
<rect x="466.18" y="602.6" width="6.01" height="21.7" fill="rgb(255,223,0)"/>
<rect x="471.69" y="602.6" width="6.01" height="21.7" fill="rgb(255,207,0)"/>
<rect x="477.2" y="602.6" width="6.01" height="21.7" fill="rgb(255,191,0)"/>
<rect x="482.72" y="602.6" width="6.01" height="21.7" fill="rgb(255,175,0)"/>
<rect x="488.23" y="602.6" width="6.01" height="21.7" fill="rgb(255,159,0)"/>
<rect x="493.75" y="602.6" width="6.01" height="21.7" fill="rgb(255,143,0)"/>
<rect x="499.26" y="602.6" width="6.01" height="21.7" fill="rgb(255,128,0)"/>
<rect x="504.77" y="602.6" width="6.01" height="21.7" fill="rgb(255,112,0)"/>
<rect x="510.29" y="602.6" width="6.01" height="21.7" fill="rgb(255,96,0)"/>
<rect x="515.8" y="602.6" width="6.01" height="21.7" fill="rgb(255,80,0)"/>
<rect x="521.32" y="602.6" width="6.01" height="21.7" fill="rgb(255,64,0)"/>
<rect x="526.83" y="602.6" width="6.01" height="21.7" fill="rgb(255,48,0)"/>
<rect x="532.35" y="602.6" width="6.01" height="21.7" fill="rgb(255,32,0)"/>
<rect x="537.86" y="602.6" width="6.01" height="21.7" fill="rgb(255,16,0)"/>
<rect x="543.37" y="602.6" width="6.01" height="21.7" fill="rgb(255,0,0)"/>
<rect x="548.89" y="602.6" width="6.01" height="21.7" fill="rgb(239,0,0)"/>
<rect x="554.4" y="602.6" width="6.01" height="21.7" fill="rgb(223,0,0)"/>
<rect x="559.92" y="602.6" width="6.01" height="21.7" fill="rgb(207,0,0)"/>
<rect x="565.43" y="602.6" width="6.01" height="21.7" fill="rgb(191,0,0)"/>
<rect x="570.94" y="602.6" width="6.01" height="21.7" fill="rgb(175,0,0)"/>
<rect x="576.46" y="602.6" width="6.01" height="21.7" fill="rgb(159,0,0)"/>
<rect x="581.97" y="602.6" width="6.01" height="21.7" fill="rgb(143,0,0)"/>
<rect x="587.49" y="602.6" width="6.01" height="21.7" fill="rgb(128,0,0)"/>
</g>
<rect x="240.1" y="602.6" width="352.9" height="21.7" fill="none" stroke="#000" stroke-width="1.1"/>
<text class="t" x="240.4" y="635.2" text-anchor="middle" font-size="8.3">5</text>
<path d="M275.39 602.6v4M275.39 624.3v-4" stroke="#000" stroke-width="1.1"/>
<text class="t" x="275.69" y="635.2" text-anchor="middle" font-size="8.3">5.5</text>
<path d="M310.68 602.6v4M310.68 624.3v-4" stroke="#000" stroke-width="1.1"/>
<text class="t" x="310.98" y="635.2" text-anchor="middle" font-size="8.3">6</text>
<path d="M345.97 602.6v4M345.97 624.3v-4" stroke="#000" stroke-width="1.1"/>
<text class="t" x="346.27" y="635.2" text-anchor="middle" font-size="8.3">6.5</text>
<path d="M381.26 602.6v4M381.26 624.3v-4" stroke="#000" stroke-width="1.1"/>
<text class="t" x="381.56" y="635.2" text-anchor="middle" font-size="8.3">7</text>
<path d="M416.55 602.6v4M416.55 624.3v-4" stroke="#000" stroke-width="1.1"/>
<text class="t" x="416.85" y="635.2" text-anchor="middle" font-size="8.3">7.5</text>
<path d="M451.84 602.6v4M451.84 624.3v-4" stroke="#000" stroke-width="1.1"/>
<text class="t" x="452.14" y="635.2" text-anchor="middle" font-size="8.3">8</text>
<path d="M487.13 602.6v4M487.13 624.3v-4" stroke="#000" stroke-width="1.1"/>
<text class="t" x="487.43" y="635.2" text-anchor="middle" font-size="8.3">8.5</text>
<path d="M522.42 602.6v4M522.42 624.3v-4" stroke="#000" stroke-width="1.1"/>
<text class="t" x="522.72" y="635.2" text-anchor="middle" font-size="8.3">9</text>
<path d="M557.71 602.6v4M557.71 624.3v-4" stroke="#000" stroke-width="1.1"/>
<text class="t" x="558.01" y="635.2" text-anchor="middle" font-size="8.3">9.5</text>
<text class="t" x="593.3" y="635.2" text-anchor="middle" font-size="8.3">10</text>
<text x="207.5" y="313.5" stroke="#111" stroke-width="0.3" text-anchor="middle" font-family="'Liberation Serif',serif" font-size="16" font-weight="bold">(b)</text>
<text x="635.4" y="313.5" stroke="#111" stroke-width="0.3" text-anchor="middle" font-family="'Liberation Serif',serif" font-size="16" font-weight="bold">(f)</text>
<text x="417.9" y="660.9" stroke="#111" stroke-width="0.3" text-anchor="middle" font-family="'Liberation Serif',serif" font-size="16" font-weight="bold">(g)</text>
</svg>
</body></html>
